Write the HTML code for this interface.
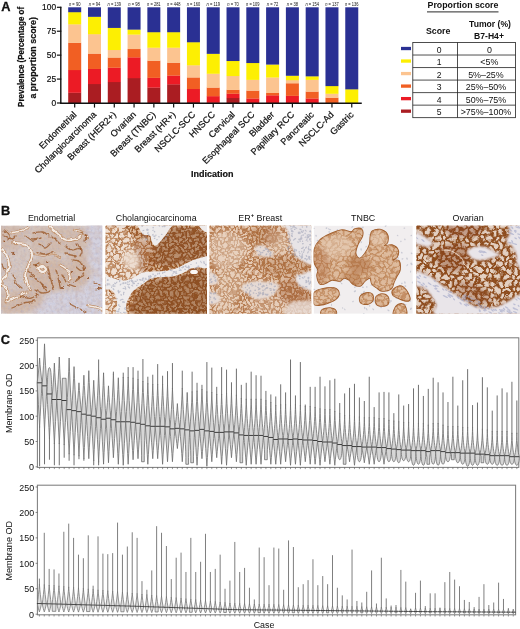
<!DOCTYPE html>
<html lang="en"><head><meta charset="utf-8"><title>Figure</title>
<style>html,body{margin:0;padding:0;background:#fff}svg{display:block}text{font-family:"Liberation Sans", Arial, sans-serif;fill:#111}</style></head><body>
<svg width="520" height="629" viewBox="0 0 520 629">
<rect width="520" height="629" fill="#fff"/>
<g id="panelA">
<text x="1.2" y="11.3" font-size="12.8" font-weight="bold" stroke="#111" stroke-width="0.3">A</text>
<text transform="translate(23.6,56.9) rotate(-90)" text-anchor="middle" font-size="8.3" font-weight="bold" stroke="#111" stroke-width="0.22" textLength="100" lengthAdjust="spacingAndGlyphs">Prevalence (Percentage of</text>
<text transform="translate(36.4,57.8) rotate(-90)" text-anchor="middle" font-size="8.3" font-weight="bold" stroke="#111" stroke-width="0.22" textLength="81.5" lengthAdjust="spacingAndGlyphs">a proportion score)</text>
<rect x="68.20" y="92.66" width="13.00" height="10.49" fill="#aa1d22"/>
<rect x="68.20" y="69.98" width="13.00" height="22.83" fill="#ec1b25"/>
<rect x="68.20" y="42.71" width="13.00" height="27.42" fill="#f15f23"/>
<rect x="68.20" y="24.24" width="13.00" height="18.62" fill="#fcc490"/>
<rect x="68.20" y="12.08" width="13.00" height="12.30" fill="#fdef02"/>
<rect x="68.20" y="7.30" width="13.00" height="4.93" fill="#2a3093"/>
<text x="74.70" y="5.6" font-size="4.6" text-anchor="middle" textLength="11.5" lengthAdjust="spacingAndGlyphs"><tspan font-style="italic">n</tspan> = 90</text>
<line x1="74.70" y1="103.00" x2="74.70" y2="107.60" stroke="#111" stroke-width="1.2"/>
<text transform="translate(77.10,115.20) rotate(-45)" text-anchor="end" font-size="9.1" stroke="#111" stroke-width="0.22">Endometrial</text>
<rect x="87.99" y="83.96" width="13.00" height="19.19" fill="#aa1d22"/>
<rect x="87.99" y="68.84" width="13.00" height="15.27" fill="#ec1b25"/>
<rect x="87.99" y="53.52" width="13.00" height="15.46" fill="#f15f23"/>
<rect x="87.99" y="34.10" width="13.00" height="19.58" fill="#fcc490"/>
<rect x="87.99" y="16.68" width="13.00" height="17.57" fill="#fdef02"/>
<rect x="87.99" y="7.30" width="13.00" height="9.53" fill="#2a3093"/>
<text x="94.49" y="5.6" font-size="4.6" text-anchor="middle" textLength="11.5" lengthAdjust="spacingAndGlyphs"><tspan font-style="italic">n</tspan> = 94</text>
<line x1="94.49" y1="103.00" x2="94.49" y2="107.60" stroke="#111" stroke-width="1.2"/>
<text transform="translate(96.89,115.20) rotate(-45)" text-anchor="end" font-size="9.1" stroke="#111" stroke-width="0.22">Cholangiocarcinoma</text>
<rect x="107.78" y="81.95" width="13.00" height="21.20" fill="#aa1d22"/>
<rect x="107.78" y="67.59" width="13.00" height="14.50" fill="#ec1b25"/>
<rect x="107.78" y="57.45" width="13.00" height="10.29" fill="#f15f23"/>
<rect x="107.78" y="49.89" width="13.00" height="7.71" fill="#fcc490"/>
<rect x="107.78" y="27.78" width="13.00" height="22.26" fill="#fdef02"/>
<rect x="107.78" y="7.30" width="13.00" height="20.63" fill="#2a3093"/>
<text x="114.28" y="5.6" font-size="4.6" text-anchor="middle" textLength="13.5" lengthAdjust="spacingAndGlyphs"><tspan font-style="italic">n</tspan> = 139</text>
<line x1="114.28" y1="103.00" x2="114.28" y2="107.60" stroke="#111" stroke-width="1.2"/>
<text transform="translate(116.68,115.20) rotate(-45)" text-anchor="end" font-size="9.1" stroke="#111" stroke-width="0.22">Breast (HER2+)</text>
<rect x="127.57" y="78.02" width="13.00" height="25.13" fill="#aa1d22"/>
<rect x="127.57" y="57.26" width="13.00" height="20.92" fill="#ec1b25"/>
<rect x="127.57" y="48.93" width="13.00" height="8.48" fill="#f15f23"/>
<rect x="127.57" y="34.48" width="13.00" height="14.60" fill="#fcc490"/>
<rect x="127.57" y="29.50" width="13.00" height="5.13" fill="#fdef02"/>
<rect x="127.57" y="7.30" width="13.00" height="22.35" fill="#2a3093"/>
<text x="134.07" y="5.6" font-size="4.6" text-anchor="middle" textLength="11.5" lengthAdjust="spacingAndGlyphs"><tspan font-style="italic">n</tspan> = 98</text>
<line x1="134.07" y1="103.00" x2="134.07" y2="107.60" stroke="#111" stroke-width="1.2"/>
<text transform="translate(136.47,115.20) rotate(-45)" text-anchor="end" font-size="9.1" stroke="#111" stroke-width="0.22">Ovarian</text>
<rect x="147.36" y="87.50" width="13.00" height="15.65" fill="#aa1d22"/>
<rect x="147.36" y="77.74" width="13.00" height="9.91" fill="#ec1b25"/>
<rect x="147.36" y="60.60" width="13.00" height="17.28" fill="#f15f23"/>
<rect x="147.36" y="47.59" width="13.00" height="13.17" fill="#fcc490"/>
<rect x="147.36" y="32.09" width="13.00" height="15.65" fill="#fdef02"/>
<rect x="147.36" y="7.30" width="13.00" height="24.94" fill="#2a3093"/>
<text x="153.86" y="5.6" font-size="4.6" text-anchor="middle" textLength="13.5" lengthAdjust="spacingAndGlyphs"><tspan font-style="italic">n</tspan> = 281</text>
<line x1="153.86" y1="103.00" x2="153.86" y2="107.60" stroke="#111" stroke-width="1.2"/>
<text transform="translate(156.26,115.20) rotate(-45)" text-anchor="end" font-size="9.1" stroke="#111" stroke-width="0.22">Breast (TNBC)</text>
<rect x="167.15" y="84.24" width="13.00" height="18.91" fill="#aa1d22"/>
<rect x="167.15" y="75.44" width="13.00" height="8.95" fill="#ec1b25"/>
<rect x="167.15" y="62.61" width="13.00" height="12.97" fill="#f15f23"/>
<rect x="167.15" y="47.59" width="13.00" height="15.17" fill="#fcc490"/>
<rect x="167.15" y="32.09" width="13.00" height="15.65" fill="#fdef02"/>
<rect x="167.15" y="7.30" width="13.00" height="24.94" fill="#2a3093"/>
<text x="173.65" y="5.6" font-size="4.6" text-anchor="middle" textLength="13.5" lengthAdjust="spacingAndGlyphs"><tspan font-style="italic">n</tspan> = 448</text>
<line x1="173.65" y1="103.00" x2="173.65" y2="107.60" stroke="#111" stroke-width="1.2"/>
<text transform="translate(176.05,115.20) rotate(-45)" text-anchor="end" font-size="9.1" stroke="#111" stroke-width="0.22">Breast (HR+)</text>
<rect x="186.94" y="102.04" width="13.00" height="1.11" fill="#aa1d22"/>
<rect x="186.94" y="88.93" width="13.00" height="13.26" fill="#ec1b25"/>
<rect x="186.94" y="77.35" width="13.00" height="11.73" fill="#f15f23"/>
<rect x="186.94" y="65.20" width="13.00" height="12.30" fill="#fcc490"/>
<rect x="186.94" y="42.13" width="13.00" height="23.21" fill="#fdef02"/>
<rect x="186.94" y="7.30" width="13.00" height="34.98" fill="#2a3093"/>
<text x="193.44" y="5.6" font-size="4.6" text-anchor="middle" textLength="13.5" lengthAdjust="spacingAndGlyphs"><tspan font-style="italic">n</tspan> = 160</text>
<line x1="193.44" y1="103.00" x2="193.44" y2="107.60" stroke="#111" stroke-width="1.2"/>
<text transform="translate(195.84,115.20) rotate(-45)" text-anchor="end" font-size="9.1" stroke="#111" stroke-width="0.22">NSCLC-SCC</text>
<rect x="206.73" y="102.71" width="13.00" height="0.44" fill="#aa1d22"/>
<rect x="206.73" y="96.11" width="13.00" height="6.75" fill="#ec1b25"/>
<rect x="206.73" y="87.50" width="13.00" height="8.76" fill="#f15f23"/>
<rect x="206.73" y="73.62" width="13.00" height="14.03" fill="#fcc490"/>
<rect x="206.73" y="53.71" width="13.00" height="20.06" fill="#fdef02"/>
<rect x="206.73" y="7.30" width="13.00" height="46.56" fill="#2a3093"/>
<text x="213.23" y="5.6" font-size="4.6" text-anchor="middle" textLength="13.5" lengthAdjust="spacingAndGlyphs"><tspan font-style="italic">n</tspan> = 119</text>
<line x1="213.23" y1="103.00" x2="213.23" y2="107.60" stroke="#111" stroke-width="1.2"/>
<text transform="translate(215.63,115.20) rotate(-45)" text-anchor="end" font-size="9.1" stroke="#111" stroke-width="0.22">HNSCC</text>
<rect x="226.52" y="97.93" width="13.00" height="5.22" fill="#aa1d22"/>
<rect x="226.52" y="93.62" width="13.00" height="4.46" fill="#ec1b25"/>
<rect x="226.52" y="89.79" width="13.00" height="3.98" fill="#f15f23"/>
<rect x="226.52" y="75.92" width="13.00" height="14.03" fill="#fcc490"/>
<rect x="226.52" y="60.89" width="13.00" height="15.17" fill="#fdef02"/>
<rect x="226.52" y="7.30" width="13.00" height="53.74" fill="#2a3093"/>
<text x="233.02" y="5.6" font-size="4.6" text-anchor="middle" textLength="11.5" lengthAdjust="spacingAndGlyphs"><tspan font-style="italic">n</tspan> = 70</text>
<line x1="233.02" y1="103.00" x2="233.02" y2="107.60" stroke="#111" stroke-width="1.2"/>
<text transform="translate(235.42,115.20) rotate(-45)" text-anchor="end" font-size="9.1" stroke="#111" stroke-width="0.22">Cervical</text>
<rect x="246.31" y="98.41" width="13.00" height="4.74" fill="#ec1b25"/>
<rect x="246.31" y="90.56" width="13.00" height="8.00" fill="#f15f23"/>
<rect x="246.31" y="79.74" width="13.00" height="10.96" fill="#fcc490"/>
<rect x="246.31" y="62.90" width="13.00" height="16.99" fill="#fdef02"/>
<rect x="246.31" y="7.30" width="13.00" height="55.75" fill="#2a3093"/>
<text x="252.81" y="5.6" font-size="4.6" text-anchor="middle" textLength="13.5" lengthAdjust="spacingAndGlyphs"><tspan font-style="italic">n</tspan> = 109</text>
<line x1="252.81" y1="103.00" x2="252.81" y2="107.60" stroke="#111" stroke-width="1.2"/>
<text transform="translate(255.21,115.20) rotate(-45)" text-anchor="end" font-size="9.1" stroke="#111" stroke-width="0.22">Esophageal SCC</text>
<rect x="266.10" y="95.25" width="13.00" height="7.90" fill="#ec1b25"/>
<rect x="266.10" y="92.86" width="13.00" height="2.54" fill="#f15f23"/>
<rect x="266.10" y="77.35" width="13.00" height="15.65" fill="#fcc490"/>
<rect x="266.10" y="64.43" width="13.00" height="13.07" fill="#fdef02"/>
<rect x="266.10" y="7.30" width="13.00" height="57.28" fill="#2a3093"/>
<text x="272.60" y="5.6" font-size="4.6" text-anchor="middle" textLength="11.5" lengthAdjust="spacingAndGlyphs"><tspan font-style="italic">n</tspan> = 72</text>
<line x1="272.60" y1="103.00" x2="272.60" y2="107.60" stroke="#111" stroke-width="1.2"/>
<text transform="translate(275.00,115.20) rotate(-45)" text-anchor="end" font-size="9.1" stroke="#111" stroke-width="0.22">Bladder</text>
<rect x="285.89" y="95.73" width="13.00" height="7.42" fill="#ec1b25"/>
<rect x="285.89" y="83.19" width="13.00" height="12.69" fill="#f15f23"/>
<rect x="285.89" y="80.03" width="13.00" height="3.31" fill="#fcc490"/>
<rect x="285.89" y="75.63" width="13.00" height="4.55" fill="#fdef02"/>
<rect x="285.89" y="7.30" width="13.00" height="68.48" fill="#2a3093"/>
<text x="292.39" y="5.6" font-size="4.6" text-anchor="middle" textLength="11.5" lengthAdjust="spacingAndGlyphs"><tspan font-style="italic">n</tspan> = 38</text>
<line x1="292.39" y1="103.00" x2="292.39" y2="107.60" stroke="#111" stroke-width="1.2"/>
<text transform="translate(294.79,115.20) rotate(-45)" text-anchor="end" font-size="9.1" stroke="#111" stroke-width="0.22">Papillary RCC</text>
<rect x="305.68" y="98.41" width="13.00" height="4.74" fill="#ec1b25"/>
<rect x="305.68" y="91.52" width="13.00" height="7.04" fill="#f15f23"/>
<rect x="305.68" y="79.74" width="13.00" height="11.92" fill="#fcc490"/>
<rect x="305.68" y="76.20" width="13.00" height="3.69" fill="#fdef02"/>
<rect x="305.68" y="7.30" width="13.00" height="69.05" fill="#2a3093"/>
<text x="312.18" y="5.6" font-size="4.6" text-anchor="middle" textLength="13.5" lengthAdjust="spacingAndGlyphs"><tspan font-style="italic">n</tspan> = 154</text>
<line x1="312.18" y1="103.00" x2="312.18" y2="107.60" stroke="#111" stroke-width="1.2"/>
<text transform="translate(314.58,115.20) rotate(-45)" text-anchor="end" font-size="9.1" stroke="#111" stroke-width="0.22">Pancreatic</text>
<rect x="325.47" y="97.64" width="13.00" height="5.51" fill="#f15f23"/>
<rect x="325.47" y="93.62" width="13.00" height="4.17" fill="#fcc490"/>
<rect x="325.47" y="85.97" width="13.00" height="7.81" fill="#fdef02"/>
<rect x="325.47" y="7.30" width="13.00" height="78.82" fill="#2a3093"/>
<text x="331.97" y="5.6" font-size="4.6" text-anchor="middle" textLength="13.5" lengthAdjust="spacingAndGlyphs"><tspan font-style="italic">n</tspan> = 137</text>
<line x1="331.97" y1="103.00" x2="331.97" y2="107.60" stroke="#111" stroke-width="1.2"/>
<text transform="translate(334.37,115.20) rotate(-45)" text-anchor="end" font-size="9.1" stroke="#111" stroke-width="0.22">NSCLC-Ad</text>
<rect x="345.26" y="89.22" width="13.00" height="13.93" fill="#fdef02"/>
<rect x="345.26" y="7.30" width="13.00" height="82.07" fill="#2a3093"/>
<text x="351.76" y="5.6" font-size="4.6" text-anchor="middle" textLength="13.5" lengthAdjust="spacingAndGlyphs"><tspan font-style="italic">n</tspan> = 136</text>
<line x1="351.76" y1="103.00" x2="351.76" y2="107.60" stroke="#111" stroke-width="1.2"/>
<text transform="translate(354.16,115.20) rotate(-45)" text-anchor="end" font-size="9.1" stroke="#111" stroke-width="0.22">Gastric</text>
<line x1="60.80" y1="6.70" x2="60.80" y2="103.70" stroke="#111" stroke-width="1.4"/>
<line x1="60.10" y1="103.20" x2="361.76" y2="103.20" stroke="#111" stroke-width="1.4"/>
<line x1="56.90" y1="103.00" x2="61.30" y2="103.00" stroke="#111" stroke-width="1.2"/>
<text x="56.10" y="106.00" font-size="8.4" text-anchor="end" stroke="#111" stroke-width="0.2">0</text>
<line x1="56.90" y1="79.08" x2="61.30" y2="79.08" stroke="#111" stroke-width="1.2"/>
<text x="56.10" y="82.08" font-size="8.4" text-anchor="end" stroke="#111" stroke-width="0.2">25</text>
<line x1="56.90" y1="55.15" x2="61.30" y2="55.15" stroke="#111" stroke-width="1.2"/>
<text x="56.10" y="58.15" font-size="8.4" text-anchor="end" stroke="#111" stroke-width="0.2">50</text>
<line x1="56.90" y1="31.22" x2="61.30" y2="31.22" stroke="#111" stroke-width="1.2"/>
<text x="56.10" y="34.22" font-size="8.4" text-anchor="end" stroke="#111" stroke-width="0.2">75</text>
<line x1="56.90" y1="7.30" x2="61.30" y2="7.30" stroke="#111" stroke-width="1.2"/>
<text x="56.10" y="10.30" font-size="8.4" text-anchor="end" stroke="#111" stroke-width="0.2">100</text>
<text x="212.2" y="177.4" font-size="8.8" font-weight="bold" stroke="#111" stroke-width="0.2" text-anchor="middle" textLength="42.5" lengthAdjust="spacingAndGlyphs">Indication</text>
<text x="463" y="8.2" font-size="8.8" font-weight="bold" text-anchor="middle">Proportion score</text>
<line x1="427" y1="11.9" x2="498.5" y2="11.9" stroke="#111" stroke-width="0.9"/>
<text x="438.2" y="34" font-size="8.8" font-weight="bold" text-anchor="middle">Score</text>
<text x="490" y="27.2" font-size="8.6" font-weight="bold" text-anchor="middle">Tumor (%)</text>
<text x="489" y="38.9" font-size="8.6" font-weight="bold" text-anchor="middle">B7-H4+</text>
<rect x="412.80" y="42.50" width="102.60" height="75.18" fill="none" stroke="#222" stroke-width="0.8"/>
<line x1="457.50" y1="42.50" x2="457.50" y2="117.68" stroke="#222" stroke-width="0.8"/>
<rect x="401" y="46.87" width="10" height="3.3" fill="#2a3093"/>
<text x="439.15" y="52.66" font-size="8.6" text-anchor="middle">0</text>
<text x="489.35" y="52.66" font-size="8.9" text-anchor="middle">0</text>
<line x1="412.80" y1="55.03" x2="515.40" y2="55.03" stroke="#222" stroke-width="0.8"/>
<rect x="401" y="59.40" width="10" height="3.3" fill="#fdef02"/>
<text x="439.15" y="65.20" font-size="8.6" text-anchor="middle">1</text>
<text x="489.35" y="65.20" font-size="8.9" text-anchor="middle">&lt;5%</text>
<line x1="412.80" y1="67.56" x2="515.40" y2="67.56" stroke="#222" stroke-width="0.8"/>
<rect x="401" y="71.92" width="10" height="3.3" fill="#fcc490"/>
<text x="439.15" y="77.73" font-size="8.6" text-anchor="middle">2</text>
<text x="485.95" y="77.73" font-size="8.9" text-anchor="middle">5%–25%</text>
<line x1="412.80" y1="80.09" x2="515.40" y2="80.09" stroke="#222" stroke-width="0.8"/>
<rect x="401" y="84.45" width="10" height="3.3" fill="#f15f23"/>
<text x="439.15" y="90.26" font-size="8.6" text-anchor="middle">3</text>
<text x="485.95" y="90.26" font-size="8.9" text-anchor="middle">25%–50%</text>
<line x1="412.80" y1="92.62" x2="515.40" y2="92.62" stroke="#222" stroke-width="0.8"/>
<rect x="401" y="96.98" width="10" height="3.3" fill="#ec1b25"/>
<text x="439.15" y="102.79" font-size="8.6" text-anchor="middle">4</text>
<text x="485.95" y="102.79" font-size="8.9" text-anchor="middle">50%–75%</text>
<line x1="412.80" y1="105.15" x2="515.40" y2="105.15" stroke="#222" stroke-width="0.8"/>
<rect x="401" y="109.52" width="10" height="3.3" fill="#aa1d22"/>
<text x="439.15" y="115.32" font-size="8.6" text-anchor="middle">5</text>
<text x="485.95" y="115.32" font-size="8.9" text-anchor="middle">&gt;75%–100%</text>
</g>
<g id="panelB">
<text x="1" y="215" font-size="12.8" font-weight="bold" stroke="#111" stroke-width="0.3">B</text>
<text x="51.6" y="220.6" font-size="8.9" text-anchor="middle">Endometrial</text>
<text x="156.2" y="220.6" font-size="8.9" text-anchor="middle">Cholangiocarcinoma</text>
<text x="260.3" y="220.6" font-size="8.9" text-anchor="middle">ER<tspan font-size="5.8" dy="-3.2" font-weight="bold">+</tspan><tspan dy="3.2"> Breast</tspan></text>
<text x="363.2" y="220.6" font-size="8.9" text-anchor="middle">TNBC</text>
<text x="468.1" y="220.6" font-size="8.9" text-anchor="middle">Ovarian</text>
<defs>
<filter id="blur04" x="-5%" y="-5%" width="110%" height="110%"><feGaussianBlur stdDeviation="0.45"/></filter>
<filter id="blur07" x="-5%" y="-5%" width="110%" height="110%"><feTurbulence type="fractalNoise" baseFrequency="0.2" numOctaves="2" seed="2" result="n"/><feDisplacementMap in="SourceGraphic" in2="n" scale="3.5" xChannelSelector="R" yChannelSelector="G"/><feGaussianBlur stdDeviation="0.75"/></filter>
<filter id="mott" x="0" y="0" width="100%" height="100%"><feTurbulence type="fractalNoise" baseFrequency="0.16" numOctaves="2" seed="33"/><feColorMatrix type="matrix" values="0 0 0 0 0.62  0 0 0 0 0.45  0 0 0 0 0.38  0 0 0 -3.0 1.7"/></filter>
<filter id="blur06" x="-5%" y="-5%" width="110%" height="110%"><feGaussianBlur stdDeviation="0.6"/></filter>
<filter id="blur1" x="-5%" y="-5%" width="110%" height="110%"><feGaussianBlur stdDeviation="1.0"/></filter>
<filter id="blur2" x="-10%" y="-10%" width="120%" height="120%"><feGaussianBlur stdDeviation="2.2"/></filter>
<filter id="warp" x="-5%" y="-5%" width="110%" height="110%"><feTurbulence type="fractalNoise" baseFrequency="0.11" numOctaves="3" seed="4" result="n"/><feDisplacementMap in="SourceGraphic" in2="n" scale="11" xChannelSelector="R" yChannelSelector="G"/><feGaussianBlur stdDeviation="0.4"/></filter>
<filter id="speck" x="0" y="0" width="100%" height="100%"><feTurbulence type="fractalNoise" baseFrequency="0.35" numOctaves="2" seed="9"/><feColorMatrix type="matrix" values="0 0 0 0 0.45  0 0 0 0 0.30  0 0 0 0 0.28  0 0 0 -2.6 1.45"/></filter>
<filter id="speckb" x="0" y="0" width="100%" height="100%"><feTurbulence type="fractalNoise" baseFrequency="0.4" numOctaves="2" seed="21"/><feColorMatrix type="matrix" values="0 0 0 0 0.42  0 0 0 0 0.45  0 0 0 0 0.68  0 0 0 -3.2 1.55"/></filter>
<pattern id="cellA" patternUnits="userSpaceOnUse" width="7.40" height="12.82">
<rect width="7.40" height="12.82" fill="#8d4b1c"/>
<circle cx="0.00" cy="0.00" r="2.60" fill="#e3d0c2"/>
<circle cx="7.40" cy="0.00" r="2.60" fill="#e3d0c2"/>
<circle cx="3.70" cy="6.41" r="2.60" fill="#e3d0c2"/>
<circle cx="0.00" cy="12.82" r="2.60" fill="#e3d0c2"/>
<circle cx="7.40" cy="12.82" r="2.60" fill="#e3d0c2"/>
</pattern>
<pattern id="cellB" patternUnits="userSpaceOnUse" width="5.60" height="9.70">
<rect width="5.60" height="9.70" fill="#9c5a2b"/>
<circle cx="0.00" cy="0.00" r="2.00" fill="#e0c0a4"/>
<circle cx="5.60" cy="0.00" r="2.00" fill="#e0c0a4"/>
<circle cx="2.80" cy="4.85" r="2.00" fill="#e0c0a4"/>
<circle cx="0.00" cy="9.70" r="2.00" fill="#e0c0a4"/>
<circle cx="5.60" cy="9.70" r="2.00" fill="#e0c0a4"/>
</pattern>
<pattern id="cellC" patternUnits="userSpaceOnUse" width="5.80" height="10.05">
<rect width="5.80" height="10.05" fill="#b67c50"/>
<circle cx="0.00" cy="0.00" r="2.30" fill="#efdfd2"/>
<circle cx="5.80" cy="0.00" r="2.30" fill="#efdfd2"/>
<circle cx="2.90" cy="5.02" r="2.30" fill="#efdfd2"/>
<circle cx="0.00" cy="10.05" r="2.30" fill="#efdfd2"/>
<circle cx="5.80" cy="10.05" r="2.30" fill="#efdfd2"/>
</pattern>
<pattern id="cellD" patternUnits="userSpaceOnUse" width="5.20" height="9.01">
<rect width="5.20" height="9.01" fill="#b27548"/>
<circle cx="0.00" cy="0.00" r="1.95" fill="#e6cbb5"/>
<circle cx="5.20" cy="0.00" r="1.95" fill="#e6cbb5"/>
<circle cx="2.60" cy="4.50" r="1.95" fill="#e6cbb5"/>
<circle cx="0.00" cy="9.01" r="1.95" fill="#e6cbb5"/>
<circle cx="5.20" cy="9.01" r="1.95" fill="#e6cbb5"/>
</pattern>
<pattern id="cellE" patternUnits="userSpaceOnUse" width="6.40" height="11.08">
<rect width="6.40" height="11.08" fill="#bd8558"/>
<circle cx="0.00" cy="0.00" r="2.50" fill="#e3c4aa"/>
<circle cx="6.40" cy="0.00" r="2.50" fill="#e3c4aa"/>
<circle cx="3.20" cy="5.54" r="2.50" fill="#e3c4aa"/>
<circle cx="0.00" cy="11.08" r="2.50" fill="#e3c4aa"/>
<circle cx="6.40" cy="11.08" r="2.50" fill="#e3c4aa"/>
</pattern>
<clipPath id="clipB0"><rect x="0" y="0" width="101.30" height="88.20"/></clipPath>
<clipPath id="clipB1"><rect x="0" y="0" width="101.60" height="88.20"/></clipPath>
<clipPath id="clipB2"><rect x="0" y="0" width="101.80" height="88.20"/></clipPath>
<clipPath id="clipB3"><rect x="0" y="0" width="99.20" height="88.20"/></clipPath>
<clipPath id="clipB4"><rect x="0" y="0" width="103.70" height="88.20"/></clipPath>
</defs>
<g transform="translate(1.00,225.60)" clip-path="url(#clipB0)">
<rect width="101.3" height="88.2" fill="#d5c8c3"/>
<g filter="url(#blur2)">
<path d="M87.0,-1.6 C90.3,-3.3 102.0,-16.9 105.0,-1.6 C108.0,13.7 116.7,75.1 105.0,90.4 C93.3,105.7 45.7,92.4 35.0,90.4 C24.3,88.4 38.7,82.1 41.0,78.4 C43.3,74.7 45.0,70.4 49.0,68.4 C53.0,66.4 60.0,67.1 65.0,66.4 C70.0,65.7 75.3,66.1 79.0,64.4 C82.7,62.7 84.7,59.4 87.0,56.4 C89.3,53.4 93.0,50.1 93.0,46.4 C93.0,42.7 87.7,38.7 87.0,34.4 C86.3,30.1 89.3,24.7 89.0,20.4 C88.7,16.1 85.3,12.1 85.0,8.4 C84.7,4.7 83.7,0.1 87.0,-1.6 Z" fill="#d4d2df"/>
<path d="M29.0,36.4 C34.7,32.4 56.7,32.7 63.0,36.4 C69.3,40.1 69.3,53.4 67.0,58.4 C64.7,63.4 55.3,66.1 49.0,66.4 C42.7,66.7 32.3,65.4 29.0,60.4 C25.7,55.4 23.3,40.4 29.0,36.4 Z" fill="#cfae96" opacity="0.55"/>
<path d="M-1.0,2.4 C3.0,-0.3 19.3,-0.6 23.0,2.4 C26.7,5.4 24.0,16.7 21.0,20.4 C18.0,24.1 8.7,24.7 5.0,24.4 C1.3,24.1 0.0,22.1 -1.0,18.4 C-2.0,14.7 -5.0,5.1 -1.0,2.4 Z" fill="#cfae96" opacity="0.45"/>
<path d="M69.0,28.4 C71.3,23.4 82.0,26.1 85.0,30.4 C88.0,34.7 89.3,49.4 87.0,54.4 C84.7,59.4 74.0,64.7 71.0,60.4 C68.0,56.1 66.7,33.4 69.0,28.4 Z" fill="#cfae96" opacity="0.5"/>
<path d="M1.0,68.4 C7.0,64.9 33.0,63.1 39.0,65.4 C45.0,67.7 43.0,78.9 37.0,82.4 C31.0,85.9 9.0,88.7 3.0,86.4 C-3.0,84.1 -5.0,71.9 1.0,68.4 Z" fill="#cfae96" opacity="0.5"/>
<path d="M33.0,4.4 C40.3,0.4 74.7,1.4 83.0,4.4 C91.3,7.4 90.3,18.4 83.0,22.4 C75.7,26.4 47.3,31.4 39.0,28.4 C30.7,25.4 25.7,8.4 33.0,4.4 Z" fill="#cfae96" opacity="0.4"/>
</g>
<rect width="101.3" height="88.2" filter="url(#speckb)" opacity="0.35"/>
<rect width="101.3" height="88.2" filter="url(#speck)" opacity="0.22"/>
<rect width="101.3" height="88.2" filter="url(#mott)" opacity="0.32"/>
<g filter="url(#blur07)" fill="none" stroke-linecap="round" stroke-linejoin="round">
<path d="M0.0,23.4 C0.8,24.2 3.7,25.9 5.0,28.4 C6.3,30.9 7.8,35.1 8.0,38.4 C8.2,41.7 7.2,45.9 6.2,48.4 C5.2,50.9 2.7,51.7 1.8,53.4 C0.9,55.1 0.8,57.6 0.6,58.4 " stroke="#bd8a62" stroke-width="3.3"/>
<path d="M0.0,23.4 C0.8,24.2 3.7,25.9 5.0,28.4 C6.3,30.9 7.8,35.1 8.0,38.4 C8.2,41.7 7.2,45.9 6.2,48.4 C5.2,50.9 2.7,51.7 1.8,53.4 C0.9,55.1 0.8,57.6 0.6,58.4 " stroke="#f3ebe5" stroke-width="2.0"/>
<path d="M0.6,58.4 C1.3,59.1 3.9,60.6 5.0,62.4 C6.1,64.2 7.0,67.1 7.0,69.4 C7.0,71.7 5.3,75.2 5.0,76.4 " stroke="#bd8a62" stroke-width="2.9"/>
<path d="M0.6,58.4 C1.3,59.1 3.9,60.6 5.0,62.4 C6.1,64.2 7.0,67.1 7.0,69.4 C7.0,71.7 5.3,75.2 5.0,76.4 " stroke="#f3ebe5" stroke-width="1.6"/>
<path d="M5.0,76.0 C6.3,75.5 10.3,74.0 13.0,72.8 C15.7,71.6 18.8,69.9 21.0,68.8 C23.2,67.7 25.2,66.8 26.0,66.4 " stroke="#bd8a62" stroke-width="2.7"/>
<path d="M5.0,76.0 C6.3,75.5 10.3,74.0 13.0,72.8 C15.7,71.6 18.8,69.9 21.0,68.8 C23.2,67.7 25.2,66.8 26.0,66.4 " stroke="#f3ebe5" stroke-width="1.4"/>
<path d="M13.0,17.4 C14.6,17.6 19.9,17.3 22.6,18.4 C25.3,19.5 28.0,21.8 29.4,24.0 C30.8,26.2 31.3,28.7 31.0,31.4 C30.7,34.1 28.5,37.5 27.4,40.4 C26.3,43.3 24.3,45.8 24.2,48.8 C24.1,51.8 25.8,55.9 26.6,58.4 C27.4,60.9 28.6,62.7 29.0,63.6 " stroke="#bd8a62" stroke-width="3.3"/>
<path d="M13.0,17.4 C14.6,17.6 19.9,17.3 22.6,18.4 C25.3,19.5 28.0,21.8 29.4,24.0 C30.8,26.2 31.3,28.7 31.0,31.4 C30.7,34.1 28.5,37.5 27.4,40.4 C26.3,43.3 24.3,45.8 24.2,48.8 C24.1,51.8 25.8,55.9 26.6,58.4 C27.4,60.9 28.6,62.7 29.0,63.6 " stroke="#f3ebe5" stroke-width="2.0"/>
<path d="M10.0,7.4 C11.5,7.1 16.2,6.3 19.0,5.4 C21.8,4.5 25.7,2.6 27.0,2.0 " stroke="#bd8a62" stroke-width="2.7"/>
<path d="M10.0,7.4 C11.5,7.1 16.2,6.3 19.0,5.4 C21.8,4.5 25.7,2.6 27.0,2.0 " stroke="#f3ebe5" stroke-width="1.4"/>
<path d="M48.6,0.8 C49.9,2.0 53.9,5.7 56.6,8.0 C59.3,10.3 62.0,13.5 65.0,14.4 C68.0,15.3 72.2,14.3 74.6,13.6 C77.0,12.9 78.6,10.6 79.4,10.0 " stroke="#bd8a62" stroke-width="3.1"/>
<path d="M48.6,0.8 C49.9,2.0 53.9,5.7 56.6,8.0 C59.3,10.3 62.0,13.5 65.0,14.4 C68.0,15.3 72.2,14.3 74.6,13.6 C77.0,12.9 78.6,10.6 79.4,10.0 " stroke="#f3ebe5" stroke-width="1.8"/>
<path d="M59.0,39.4 C60.3,40.2 64.9,42.5 66.6,44.4 C68.3,46.3 68.7,49.1 69.0,50.8 C69.3,52.5 68.3,54.1 68.2,54.8 " stroke="#bd8a62" stroke-width="2.7"/>
<path d="M59.0,39.4 C60.3,40.2 64.9,42.5 66.6,44.4 C68.3,46.3 68.7,49.1 69.0,50.8 C69.3,52.5 68.3,54.1 68.2,54.8 " stroke="#f3ebe5" stroke-width="1.4"/>
<path d="M86.6,80.0 C88.0,80.3 92.2,80.8 95.0,81.6 C97.8,82.4 102.0,84.3 103.4,84.8 " stroke="#bd8a62" stroke-width="2.8"/>
<path d="M86.6,80.0 C88.0,80.3 92.2,80.8 95.0,81.6 C97.8,82.4 102.0,84.3 103.4,84.8 " stroke="#f3ebe5" stroke-width="1.5"/>
<path d="M37.0,42.8 C37.7,42.4 40.1,40.2 41.4,40.4 C42.7,40.6 45.0,43.0 45.0,44.0 C45.0,45.0 42.7,46.4 41.4,46.4 C40.1,46.4 38.1,44.4 37.4,44.0 " stroke="#bd8a62" stroke-width="3.7"/>
<path d="M37.0,42.8 C37.7,42.4 40.1,40.2 41.4,40.4 C42.7,40.6 45.0,43.0 45.0,44.0 C45.0,45.0 42.7,46.4 41.4,46.4 C40.1,46.4 38.1,44.4 37.4,44.0 " stroke="#f3ebe5" stroke-width="2.4"/>
<path d="M73.0,4.4 C74.3,4.7 78.7,5.1 81.0,6.4 C83.3,7.7 86.0,11.4 87.0,12.4 " stroke="#bd8a62" stroke-width="2.3"/>
<path d="M73.0,4.4 C74.3,4.7 78.7,5.1 81.0,6.4 C83.3,7.7 86.0,11.4 87.0,12.4 " stroke="#f3ebe5" stroke-width="1.0"/>
<path d="M34.0,28.4 C35.3,28.7 39.1,30.0 42.0,30.0 C44.9,30.0 48.6,28.0 51.4,28.4 C54.2,28.8 57.7,31.7 59.0,32.4 " stroke="#bd8a62" stroke-width="2.1"/>
<path d="M34.0,28.4 C35.3,28.7 39.1,30.0 42.0,30.0 C44.9,30.0 48.6,28.0 51.4,28.4 C54.2,28.8 57.7,31.7 59.0,32.4 " stroke="#ead9cc" stroke-width="0.8"/>
<path d="M29.0,50.4 C30.7,51.4 36.3,54.0 39.0,56.4 C41.7,58.8 44.3,63.4 45.4,64.8 " stroke="#9e5f32" stroke-width="1.3" opacity="0.85"/>
<path d="M47.0,41.4 C47.5,43.6 49.0,50.8 50.0,54.4 C51.0,58.0 52.5,61.4 53.0,62.8 " stroke="#9e5f32" stroke-width="1.3" opacity="0.85"/>
<path d="M55.0,44.4 C55.5,46.4 57.3,53.3 58.0,56.4 C58.7,59.5 59.2,61.7 59.4,62.8 " stroke="#9e5f32" stroke-width="1.3" opacity="0.85"/>
<path d="M36.0,26.0 C37.2,26.4 40.5,28.4 43.0,28.4 C45.5,28.4 49.7,26.4 51.0,26.0 " stroke="#9e5f32" stroke-width="1.3" opacity="0.85"/>
<path d="M72.0,34.4 C73.2,34.7 77.2,34.7 79.0,36.4 C80.8,38.1 82.3,43.4 83.0,44.8 " stroke="#9e5f32" stroke-width="1.3" opacity="0.85"/>
<path d="M73.0,56.8 C74.0,56.1 77.4,53.8 79.0,52.4 C80.6,51.0 82.0,49.1 82.6,48.4 " stroke="#9e5f32" stroke-width="1.3" opacity="0.85"/>
<path d="M32.0,7.4 C33.7,7.2 39.3,5.9 42.0,6.4 C44.7,6.9 47.0,9.7 48.0,10.4 " stroke="#9e5f32" stroke-width="1.3" opacity="0.85"/>
<path d="M39.0,18.4 C39.8,19.1 42.3,22.4 44.0,22.4 C45.7,22.4 48.2,19.1 49.0,18.4 " stroke="#9e5f32" stroke-width="1.3" opacity="0.85"/>
<path d="M65.0,28.4 L75.0,30.4" stroke="#9e5f32" stroke-width="1.3" opacity="0.85"/>
<path d="M3.0,10.4 C4.3,10.9 9.0,13.4 11.0,13.4 C13.0,13.4 14.3,10.9 15.0,10.4 " stroke="#9e5f32" stroke-width="1.3" opacity="0.85"/>
<path d="M75.0,41.4 C76.0,42.1 79.5,45.4 81.0,45.4 C82.5,45.4 83.5,42.1 84.0,41.4 " stroke="#9e5f32" stroke-width="1.3" opacity="0.85"/>
<path d="M95.0,64.4 L101.0,62.4" stroke="#9e5f32" stroke-width="1.3" opacity="0.85"/>
<path d="M67.0,58.4 L73.4,60.8" stroke="#9e5f32" stroke-width="1.3" opacity="0.85"/>
<path d="M19.0,70.4 C20.7,70.8 26.0,73.1 29.0,72.8 C32.0,72.5 35.7,69.5 37.0,68.8 " stroke="#9e5f32" stroke-width="1.3" opacity="0.85"/>
<path d="M11.0,82.4 L21.0,78.4" stroke="#9e5f32" stroke-width="1.3" opacity="0.85"/>
<path d="M75.0,18.4 C76.0,19.4 80.3,22.4 81.0,24.4 C81.7,26.4 79.3,29.4 79.0,30.4 " stroke="#9e5f32" stroke-width="1.3" opacity="0.85"/>
<path d="M33.0,39.4 L38.0,38.4" stroke="#9e5f32" stroke-width="1.3" opacity="0.85"/>
<path d="M27.0,45.4 L33.0,50.8" stroke="#9e5f32" stroke-width="1.3" opacity="0.85"/>
<path d="M41.0,58.4 L45.4,62.0" stroke="#9e5f32" stroke-width="1.3" opacity="0.85"/>
<path d="M93.0,56.4 L99.0,59.4" stroke="#9e5f32" stroke-width="1.3" opacity="0.85"/>
<path d="M3.0,4.4 C3.8,5.1 7.3,6.7 8.0,8.4 C8.7,10.1 7.2,13.4 7.0,14.4 " stroke="#9e5f32" stroke-width="1.3" opacity="0.85"/>
<path d="M1.0,38.4 L4.0,44.4" stroke="#9e5f32" stroke-width="1.3" opacity="0.85"/>
<path d="M11.0,48.4 C11.8,50.1 14.3,56.1 16.0,58.4 C17.7,60.7 20.2,61.7 21.0,62.4 " stroke="#9e5f32" stroke-width="1.3" opacity="0.85"/>
<path d="M65.0,20.4 C66.0,21.1 68.8,24.1 71.0,24.4 C73.2,24.7 76.8,22.7 78.0,22.4 " stroke="#9e5f32" stroke-width="1.3" opacity="0.85"/>
<path d="M80.0,6.4 C80.8,6.9 84.3,7.9 85.0,9.4 C85.7,10.9 84.2,14.4 84.0,15.4 " stroke="#9e5f32" stroke-width="1.3" opacity="0.85"/>
<path d="M61.0,48.4 L65.0,56.4" stroke="#9e5f32" stroke-width="1.3" opacity="0.85"/>
<path d="M34.0,64.4 C35.3,64.9 39.5,67.2 42.0,67.4 C44.5,67.6 47.8,65.7 49.0,65.4 " stroke="#9e5f32" stroke-width="1.3" opacity="0.85"/>
<path d="M23.0,77.4 L34.0,75.4" stroke="#9e5f32" stroke-width="1.3" opacity="0.85"/>
<path d="M69.0,78.4 C70.3,79.1 74.3,81.1 77.0,82.4 C79.7,83.7 83.7,85.7 85.0,86.4 " stroke="#9e5f32" stroke-width="1.3" opacity="0.85"/>
<path d="M51.0,10.4 L59.0,18.4" stroke="#9e5f32" stroke-width="1.3" opacity="0.85"/>
<path d="M25.0,10.4 C26.0,11.1 28.7,14.1 31.0,14.4 C33.3,14.7 37.7,12.7 39.0,12.4 " stroke="#9e5f32" stroke-width="1.3" opacity="0.85"/>
<circle cx="3.0" cy="16.0" r="1.1" fill="#935128" stroke="none"/>
<circle cx="79.4" cy="23.2" r="1.1" fill="#935128" stroke="none"/>
<circle cx="78.0" cy="51.6" r="1.1" fill="#935128" stroke="none"/>
<circle cx="87.0" cy="52.4" r="1.1" fill="#935128" stroke="none"/>
<circle cx="97.4" cy="62.8" r="1.1" fill="#935128" stroke="none"/>
<circle cx="35.0" cy="40.0" r="1.1" fill="#935128" stroke="none"/>
<circle cx="46.2" cy="36.4" r="1.1" fill="#935128" stroke="none"/>
<circle cx="12.2" cy="28.4" r="1.1" fill="#935128" stroke="none"/>
<circle cx="85.0" cy="10.4" r="1.1" fill="#935128" stroke="none"/>
<circle cx="71.0" cy="46.4" r="1.1" fill="#935128" stroke="none"/>
<circle cx="61.0" cy="62.4" r="1.1" fill="#935128" stroke="none"/>
</g>
</g>
<g transform="translate(105.40,225.60)" clip-path="url(#clipB1)">
<g filter="url(#warp)">
<rect x="-5" y="-5" width="111.6" height="98.2" fill="url(#cellB)"/>
<path d="M-3.4,4.4 C-1.1,-3.9 5.3,1.4 10.6,2.4 C15.9,3.4 23.4,8.1 28.6,10.4 C33.8,12.7 38.8,13.4 41.6,16.4 C44.4,19.4 46.1,23.7 45.6,28.4 C45.1,33.1 41.8,40.2 38.6,44.4 C35.4,48.6 31.3,51.6 26.6,53.4 C21.9,55.2 15.6,55.6 10.6,55.4 C5.6,55.2 -1.1,60.9 -3.4,52.4 C-5.7,43.9 -5.7,12.7 -3.4,4.4 Z" fill="url(#cellC)"/>
<path d="M-3.4,64.4 C-1.4,60.4 5.9,64.1 8.6,66.4 C11.3,68.7 12.4,74.4 12.6,78.4 C12.8,82.4 12.3,88.4 9.6,90.4 C6.9,92.4 -1.2,94.7 -3.4,90.4 C-5.6,86.1 -5.4,68.4 -3.4,64.4 Z" fill="url(#cellC)"/>
</g>
<g filter="url(#blur2)">
<path d="M17.6,28.4 C19.1,25.9 25.6,25.4 28.6,26.4 C31.6,27.4 35.3,31.6 35.6,34.4 C35.9,37.2 33.3,42.2 30.6,43.4 C27.9,44.6 21.8,43.9 19.6,41.4 C17.4,38.9 16.1,30.9 17.6,28.4 Z" fill="#ecdcd0" opacity="0.8"/>
<path d="M38.6,58.4 C43.6,54.7 51.3,54.1 58.6,52.4 C65.9,50.7 75.3,49.4 82.6,48.4 C89.9,47.4 99.3,39.4 102.6,46.4 C105.9,53.4 114.6,83.1 102.6,90.4 C90.6,97.7 42.9,93.1 30.6,90.4 C18.3,87.7 27.3,79.7 28.6,74.4 C29.9,69.1 33.6,62.1 38.6,58.4 Z" fill="#7c3f18" opacity="0.45"/>
<path d="M64.6,2.4 C71.3,-0.6 84.3,1.1 90.6,2.4 C96.9,3.7 100.6,5.7 102.6,10.4 C104.6,15.1 105.9,26.1 102.6,30.4 C99.3,34.7 89.9,34.6 82.6,36.4 C75.3,38.2 64.3,41.7 58.6,41.4 C52.9,41.1 49.9,37.9 48.6,34.4 C47.3,30.9 47.9,25.7 50.6,20.4 C53.3,15.1 57.9,5.4 64.6,2.4 Z" fill="#7c3f18" opacity="0.38"/>
<path d="M28.6,14.4 C30.6,11.7 41.3,12.4 44.6,16.4 C47.9,20.4 49.9,33.4 48.6,38.4 C47.3,43.4 39.3,47.4 36.6,46.4 C33.9,45.4 33.9,37.7 32.6,32.4 C31.3,27.1 26.6,17.1 28.6,14.4 Z" fill="#8f4a1d" opacity="0.35"/>
</g>
<g filter="url(#blur06)">
<path d="M34.2,-3.6 C39.5,-4.9 61.7,-4.9 66.6,-3.6 C71.5,-2.3 64.5,2.1 63.4,4.4 C62.3,6.7 61.3,8.0 59.8,10.0 C58.3,12.0 56.3,14.7 54.6,16.4 C52.9,18.1 51.2,20.1 49.8,20.0 C48.4,19.9 47.1,17.3 46.2,15.6 C45.3,13.9 45.9,11.1 44.6,10.0 C43.3,8.9 40.3,10.1 38.6,9.2 C36.9,8.3 35.3,6.5 34.6,4.4 C33.9,2.3 28.9,-2.3 34.2,-3.6 Z" fill="#efecec"/>
<path d="M-3.4,50.4 C-1.4,48.8 4.9,52.2 8.6,53.0 C12.3,53.8 15.3,55.2 18.6,55.0 C21.9,54.8 25.6,53.3 28.6,52.0 C31.6,50.7 33.6,48.0 36.6,47.0 C39.6,46.0 42.9,46.1 46.6,45.8 C50.3,45.5 54.6,45.9 58.6,45.4 C62.6,44.9 67.3,43.9 70.6,42.8 C73.9,41.7 75.9,40.3 78.6,39.0 C81.3,37.7 83.9,36.1 86.6,35.0 C89.3,33.9 91.6,33.1 94.6,32.4 C97.6,31.7 102.9,29.4 104.6,31.0 C106.3,32.6 106.6,40.0 104.6,41.8 C102.6,43.6 95.9,41.6 92.6,41.8 C89.3,42.0 86.9,42.4 84.6,43.2 C82.3,44.0 81.3,45.6 78.6,46.8 C75.9,48.0 72.3,49.8 68.6,50.6 C64.9,51.4 60.3,51.1 56.6,51.4 C52.9,51.7 49.4,51.7 46.6,52.6 C43.8,53.5 42.1,55.3 39.8,56.8 C37.5,58.3 35.1,59.9 33.0,61.4 C30.9,62.9 28.9,64.3 27.4,66.0 C25.9,67.7 24.9,69.7 23.8,71.8 C22.7,73.9 21.6,75.0 21.0,78.4 C20.4,81.8 22.1,90.1 20.2,92.4 C18.3,94.7 11.2,94.7 9.8,92.4 C8.4,90.1 11.8,82.3 11.8,78.4 C11.8,74.5 11.0,71.2 9.8,68.8 C8.6,66.4 6.8,65.2 4.6,64.2 C2.4,63.2 -2.1,65.1 -3.4,62.8 C-4.7,60.5 -5.4,52.0 -3.4,50.4 Z" fill="#efecec"/>
<path d="M92.6,-3.6 C93.9,-4.9 102.6,-5.3 104.6,-3.6 C106.6,-1.9 105.9,5.5 104.6,6.8 C103.3,8.1 99.0,6.1 97.0,4.4 C95.0,2.7 91.3,-2.3 92.6,-3.6 Z" fill="#efecec"/>
<path d="M9.6,-1.6 C10.9,-2.2 19.1,-2.3 20.6,-1.6 C22.1,-0.9 19.9,1.8 18.6,2.4 C17.3,3.0 14.1,2.7 12.6,2.0 C11.1,1.3 8.3,-1.0 9.6,-1.6 Z" fill="#eadfd8"/>
<ellipse cx="88.6" cy="46.4" rx="4.4" ry="2.7" fill="#fbf8f6" stroke="#8f4a1d" stroke-width="1.0"/>
</g>
<g fill="#9096ae" opacity="0.50"><ellipse cx="55.2" cy="50.6" rx="0.7" ry="0.6" transform="rotate(71 55.2 50.6)"/><ellipse cx="18.5" cy="76.5" rx="1.0" ry="0.8" transform="rotate(18 18.5 76.5)"/><ellipse cx="14.1" cy="54.5" rx="0.8" ry="0.5" transform="rotate(1 14.1 54.5)"/><ellipse cx="0.3" cy="59.8" rx="0.9" ry="0.6" transform="rotate(78 0.3 59.8)"/><ellipse cx="58.8" cy="0.8" rx="0.7" ry="0.6" transform="rotate(50 58.8 0.8)"/><ellipse cx="83.3" cy="40.8" rx="1.1" ry="0.9" transform="rotate(64 83.3 40.8)"/><ellipse cx="34.6" cy="53.9" rx="1.3" ry="0.6" transform="rotate(179 34.6 53.9)"/><ellipse cx="15.2" cy="74.5" rx="0.9" ry="0.7" transform="rotate(158 15.2 74.5)"/><ellipse cx="74.1" cy="42.3" rx="0.9" ry="0.7" transform="rotate(37 74.1 42.3)"/><ellipse cx="52.3" cy="48.3" rx="1.1" ry="0.5" transform="rotate(91 52.3 48.3)"/><ellipse cx="59.0" cy="1.0" rx="1.1" ry="0.6" transform="rotate(171 59.0 1.0)"/><ellipse cx="17.5" cy="76.5" rx="1.0" ry="0.6" transform="rotate(85 17.5 76.5)"/><ellipse cx="16.9" cy="73.8" rx="1.4" ry="0.7" transform="rotate(177 16.9 73.8)"/><ellipse cx="8.0" cy="59.2" rx="1.0" ry="0.7" transform="rotate(148 8.0 59.2)"/><ellipse cx="18.4" cy="66.9" rx="0.8" ry="0.8" transform="rotate(120 18.4 66.9)"/><ellipse cx="35.7" cy="58.4" rx="0.8" ry="0.6" transform="rotate(95 35.7 58.4)"/><ellipse cx="11.7" cy="73.3" rx="1.0" ry="0.5" transform="rotate(157 11.7 73.3)"/><ellipse cx="57.3" cy="47.5" rx="1.0" ry="0.6" transform="rotate(97 57.3 47.5)"/><ellipse cx="14.3" cy="55.5" rx="1.3" ry="0.7" transform="rotate(110 14.3 55.5)"/><ellipse cx="2.4" cy="58.2" rx="1.4" ry="0.6" transform="rotate(10 2.4 58.2)"/><ellipse cx="43.5" cy="50.8" rx="1.2" ry="0.8" transform="rotate(123 43.5 50.8)"/><ellipse cx="49.4" cy="10.9" rx="0.8" ry="0.7" transform="rotate(28 49.4 10.9)"/><ellipse cx="42.1" cy="14.2" rx="1.1" ry="0.5" transform="rotate(27 42.1 14.2)"/><ellipse cx="9.3" cy="60.5" rx="1.0" ry="0.6" transform="rotate(167 9.3 60.5)"/><ellipse cx="38.0" cy="4.9" rx="1.2" ry="0.6" transform="rotate(161 38.0 4.9)"/><ellipse cx="53.9" cy="47.8" rx="1.0" ry="0.8" transform="rotate(109 53.9 47.8)"/><ellipse cx="11.8" cy="85.8" rx="1.2" ry="0.8" transform="rotate(35 11.8 85.8)"/><ellipse cx="30.1" cy="55.7" rx="1.4" ry="0.6" transform="rotate(9 30.1 55.7)"/><ellipse cx="60.2" cy="50.6" rx="1.2" ry="0.7" transform="rotate(24 60.2 50.6)"/><ellipse cx="47.7" cy="48.7" rx="0.8" ry="0.8" transform="rotate(73 47.7 48.7)"/><ellipse cx="15.8" cy="69.3" rx="0.9" ry="0.7" transform="rotate(61 15.8 69.3)"/><ellipse cx="41.7" cy="4.0" rx="1.1" ry="0.9" transform="rotate(132 41.7 4.0)"/><ellipse cx="65.5" cy="43.9" rx="1.2" ry="0.5" transform="rotate(104 65.5 43.9)"/><ellipse cx="19.8" cy="61.4" rx="1.1" ry="0.6" transform="rotate(59 19.8 61.4)"/><ellipse cx="49.4" cy="50.4" rx="1.0" ry="0.8" transform="rotate(3 49.4 50.4)"/><ellipse cx="6.2" cy="61.8" rx="0.7" ry="0.6" transform="rotate(73 6.2 61.8)"/><ellipse cx="43.4" cy="9.4" rx="1.3" ry="0.7" transform="rotate(82 43.4 9.4)"/><ellipse cx="26.7" cy="59.6" rx="0.9" ry="0.5" transform="rotate(142 26.7 59.6)"/><ellipse cx="53.6" cy="11.1" rx="0.8" ry="0.6" transform="rotate(41 53.6 11.1)"/><ellipse cx="93.0" cy="40.7" rx="1.0" ry="0.7" transform="rotate(171 93.0 40.7)"/><ellipse cx="42.6" cy="4.6" rx="1.4" ry="0.5" transform="rotate(147 42.6 4.6)"/><ellipse cx="24.0" cy="62.2" rx="0.9" ry="0.7" transform="rotate(51 24.0 62.2)"/><ellipse cx="40.7" cy="12.6" rx="1.3" ry="0.7" transform="rotate(9 40.7 12.6)"/><ellipse cx="76.7" cy="42.1" rx="1.0" ry="0.7" transform="rotate(23 76.7 42.1)"/><ellipse cx="68.1" cy="47.3" rx="1.3" ry="0.6" transform="rotate(151 68.1 47.3)"/><ellipse cx="95.6" cy="36.4" rx="1.4" ry="0.5" transform="rotate(60 95.6 36.4)"/><ellipse cx="18.1" cy="57.6" rx="1.3" ry="0.9" transform="rotate(157 18.1 57.6)"/><ellipse cx="42.5" cy="7.4" rx="1.3" ry="0.6" transform="rotate(107 42.5 7.4)"/><ellipse cx="23.3" cy="61.5" rx="1.3" ry="0.7" transform="rotate(25 23.3 61.5)"/><ellipse cx="0.2" cy="59.3" rx="0.8" ry="0.6" transform="rotate(94 0.2 59.3)"/><ellipse cx="62.6" cy="9.3" rx="1.2" ry="0.8" transform="rotate(46 62.6 9.3)"/><ellipse cx="38.1" cy="10.4" rx="1.1" ry="0.6" transform="rotate(175 38.1 10.4)"/><ellipse cx="47.8" cy="2.0" rx="0.8" ry="0.8" transform="rotate(128 47.8 2.0)"/><ellipse cx="44.2" cy="52.4" rx="1.3" ry="0.8" transform="rotate(162 44.2 52.4)"/><ellipse cx="36.9" cy="0.2" rx="1.1" ry="0.8" transform="rotate(117 36.9 0.2)"/><ellipse cx="7.8" cy="60.6" rx="0.7" ry="0.7" transform="rotate(38 7.8 60.6)"/><ellipse cx="60.8" cy="12.0" rx="0.9" ry="0.9" transform="rotate(158 60.8 12.0)"/><ellipse cx="11.3" cy="56.8" rx="1.0" ry="0.6" transform="rotate(122 11.3 56.8)"/><ellipse cx="24.1" cy="58.7" rx="0.7" ry="0.5" transform="rotate(54 24.1 58.7)"/><ellipse cx="50.2" cy="49.9" rx="0.8" ry="0.7" transform="rotate(15 50.2 49.9)"/><ellipse cx="49.2" cy="12.7" rx="0.8" ry="0.6" transform="rotate(6 49.2 12.7)"/><ellipse cx="57.0" cy="0.9" rx="0.7" ry="0.8" transform="rotate(126 57.0 0.9)"/><ellipse cx="45.0" cy="50.9" rx="1.1" ry="0.8" transform="rotate(180 45.0 50.9)"/><ellipse cx="6.5" cy="60.3" rx="0.8" ry="0.5" transform="rotate(117 6.5 60.3)"/><ellipse cx="32.8" cy="58.0" rx="1.0" ry="0.7" transform="rotate(167 32.8 58.0)"/><ellipse cx="45.4" cy="50.6" rx="1.3" ry="0.6" transform="rotate(68 45.4 50.6)"/><ellipse cx="31.9" cy="54.4" rx="0.8" ry="0.7" transform="rotate(132 31.9 54.4)"/><ellipse cx="26.9" cy="55.5" rx="1.1" ry="0.9" transform="rotate(29 26.9 55.5)"/><ellipse cx="18.2" cy="68.5" rx="1.1" ry="0.6" transform="rotate(85 18.2 68.5)"/><ellipse cx="47.4" cy="9.1" rx="1.2" ry="0.5" transform="rotate(137 47.4 9.1)"/><ellipse cx="9.7" cy="57.7" rx="1.2" ry="0.7" transform="rotate(29 9.7 57.7)"/><ellipse cx="98.9" cy="37.7" rx="0.8" ry="0.7" transform="rotate(34 98.9 37.7)"/><ellipse cx="38.8" cy="55.9" rx="1.3" ry="0.6" transform="rotate(135 38.8 55.9)"/><ellipse cx="70.9" cy="47.8" rx="1.1" ry="0.6" transform="rotate(6 70.9 47.8)"/><ellipse cx="74.4" cy="44.6" rx="1.2" ry="0.7" transform="rotate(3 74.4 44.6)"/><ellipse cx="48.6" cy="10.5" rx="0.8" ry="0.9" transform="rotate(129 48.6 10.5)"/><ellipse cx="75.5" cy="44.4" rx="1.0" ry="0.6" transform="rotate(24 75.5 44.4)"/><ellipse cx="37.9" cy="52.6" rx="1.2" ry="0.7" transform="rotate(175 37.9 52.6)"/><ellipse cx="53.9" cy="0.2" rx="1.0" ry="0.7" transform="rotate(48 53.9 0.2)"/><ellipse cx="81.6" cy="42.0" rx="1.1" ry="0.5" transform="rotate(178 81.6 42.0)"/><ellipse cx="37.5" cy="7.9" rx="0.9" ry="0.5" transform="rotate(109 37.5 7.9)"/><ellipse cx="13.4" cy="79.4" rx="0.8" ry="0.9" transform="rotate(70 13.4 79.4)"/><ellipse cx="36.8" cy="12.7" rx="0.9" ry="0.5" transform="rotate(38 36.8 12.7)"/><ellipse cx="90.0" cy="43.0" rx="1.0" ry="0.9" transform="rotate(154 90.0 43.0)"/><ellipse cx="98.5" cy="36.4" rx="1.0" ry="0.7" transform="rotate(4 98.5 36.4)"/><ellipse cx="31.4" cy="59.8" rx="0.8" ry="0.7" transform="rotate(21 31.4 59.8)"/><ellipse cx="43.1" cy="54.3" rx="1.1" ry="0.9" transform="rotate(132 43.1 54.3)"/><ellipse cx="83.5" cy="44.3" rx="0.9" ry="0.7" transform="rotate(130 83.5 44.3)"/><ellipse cx="37.1" cy="53.2" rx="1.1" ry="0.6" transform="rotate(114 37.1 53.2)"/><ellipse cx="57.7" cy="52.0" rx="1.2" ry="0.5" transform="rotate(20 57.7 52.0)"/><ellipse cx="70.6" cy="46.6" rx="1.4" ry="0.7" transform="rotate(101 70.6 46.6)"/><ellipse cx="13.2" cy="65.9" rx="1.2" ry="0.7" transform="rotate(71 13.2 65.9)"/><ellipse cx="18.4" cy="86.8" rx="0.7" ry="0.8" transform="rotate(80 18.4 86.8)"/><ellipse cx="25.9" cy="54.6" rx="1.0" ry="0.7" transform="rotate(116 25.9 54.6)"/><ellipse cx="56.3" cy="8.8" rx="0.9" ry="0.6" transform="rotate(3 56.3 8.8)"/><ellipse cx="19.5" cy="86.8" rx="0.9" ry="0.6" transform="rotate(16 19.5 86.8)"/><ellipse cx="77.9" cy="41.4" rx="0.9" ry="0.5" transform="rotate(142 77.9 41.4)"/><ellipse cx="22.2" cy="58.7" rx="0.8" ry="0.7" transform="rotate(176 22.2 58.7)"/><ellipse cx="47.8" cy="53.0" rx="1.2" ry="0.6" transform="rotate(114 47.8 53.0)"/><ellipse cx="20.2" cy="63.2" rx="0.9" ry="0.8" transform="rotate(69 20.2 63.2)"/><ellipse cx="15.2" cy="58.8" rx="1.2" ry="0.7" transform="rotate(137 15.2 58.8)"/><ellipse cx="40.4" cy="52.8" rx="0.8" ry="0.8" transform="rotate(66 40.4 52.8)"/><ellipse cx="37.4" cy="54.4" rx="1.1" ry="0.8" transform="rotate(98 37.4 54.4)"/><ellipse cx="77.8" cy="41.3" rx="1.4" ry="0.7" transform="rotate(145 77.8 41.3)"/><ellipse cx="85.6" cy="38.9" rx="0.8" ry="0.5" transform="rotate(5 85.6 38.9)"/><ellipse cx="66.8" cy="49.6" rx="0.7" ry="0.9" transform="rotate(81 66.8 49.6)"/><ellipse cx="23.4" cy="59.0" rx="1.0" ry="0.5" transform="rotate(127 23.4 59.0)"/><ellipse cx="91.1" cy="42.1" rx="0.9" ry="0.6" transform="rotate(93 91.1 42.1)"/><ellipse cx="4.4" cy="58.9" rx="1.3" ry="0.5" transform="rotate(76 4.4 58.9)"/><ellipse cx="91.0" cy="37.4" rx="0.7" ry="0.6" transform="rotate(134 91.0 37.4)"/><ellipse cx="15.2" cy="87.1" rx="1.1" ry="0.6" transform="rotate(21 15.2 87.1)"/><ellipse cx="65.2" cy="44.8" rx="1.0" ry="0.6" transform="rotate(172 65.2 44.8)"/><ellipse cx="68.3" cy="46.0" rx="1.0" ry="0.6" transform="rotate(7 68.3 46.0)"/><ellipse cx="2.4" cy="54.5" rx="1.0" ry="0.9" transform="rotate(119 2.4 54.5)"/><ellipse cx="49.1" cy="6.1" rx="0.8" ry="0.9" transform="rotate(148 49.1 6.1)"/><ellipse cx="47.6" cy="4.7" rx="0.8" ry="0.6" transform="rotate(132 47.6 4.7)"/><ellipse cx="13.6" cy="83.6" rx="1.3" ry="0.7" transform="rotate(119 13.6 83.6)"/><ellipse cx="28.4" cy="57.8" rx="1.3" ry="0.8" transform="rotate(9 28.4 57.8)"/><ellipse cx="18.3" cy="62.9" rx="1.3" ry="0.6" transform="rotate(11 18.3 62.9)"/><ellipse cx="22.5" cy="56.4" rx="1.0" ry="0.6" transform="rotate(77 22.5 56.4)"/><ellipse cx="27.6" cy="56.8" rx="1.3" ry="0.5" transform="rotate(153 27.6 56.8)"/><ellipse cx="2.3" cy="59.2" rx="1.0" ry="0.7" transform="rotate(173 2.3 59.2)"/><ellipse cx="40.1" cy="14.2" rx="1.1" ry="0.7" transform="rotate(158 40.1 14.2)"/><ellipse cx="40.3" cy="53.7" rx="1.2" ry="0.6" transform="rotate(19 40.3 53.7)"/><ellipse cx="19.8" cy="83.5" rx="1.2" ry="0.7" transform="rotate(17 19.8 83.5)"/><ellipse cx="13.4" cy="67.0" rx="0.9" ry="0.8" transform="rotate(178 13.4 67.0)"/><ellipse cx="50.5" cy="9.7" rx="0.8" ry="0.7" transform="rotate(94 50.5 9.7)"/><ellipse cx="27.1" cy="60.2" rx="1.0" ry="0.5" transform="rotate(43 27.1 60.2)"/><ellipse cx="83.2" cy="42.0" rx="1.4" ry="0.9" transform="rotate(30 83.2 42.0)"/><ellipse cx="39.6" cy="11.0" rx="1.2" ry="0.5" transform="rotate(131 39.6 11.0)"/><ellipse cx="60.0" cy="13.2" rx="0.8" ry="0.8" transform="rotate(12 60.0 13.2)"/><ellipse cx="79.7" cy="43.7" rx="1.0" ry="0.7" transform="rotate(19 79.7 43.7)"/><ellipse cx="59.1" cy="46.5" rx="1.3" ry="0.7" transform="rotate(163 59.1 46.5)"/><ellipse cx="19.6" cy="82.3" rx="1.3" ry="0.5" transform="rotate(151 19.6 82.3)"/><ellipse cx="14.5" cy="80.8" rx="0.9" ry="0.6" transform="rotate(27 14.5 80.8)"/><ellipse cx="20.4" cy="57.4" rx="1.1" ry="0.8" transform="rotate(95 20.4 57.4)"/><ellipse cx="69.1" cy="46.1" rx="0.9" ry="0.6" transform="rotate(36 69.1 46.1)"/><ellipse cx="12.7" cy="65.1" rx="1.0" ry="0.5" transform="rotate(112 12.7 65.1)"/><ellipse cx="59.2" cy="0.5" rx="1.0" ry="0.9" transform="rotate(82 59.2 0.5)"/><ellipse cx="80.3" cy="40.6" rx="1.0" ry="0.9" transform="rotate(141 80.3 40.6)"/><ellipse cx="8.1" cy="63.6" rx="1.3" ry="0.7" transform="rotate(54 8.1 63.6)"/><ellipse cx="14.6" cy="65.7" rx="0.8" ry="0.6" transform="rotate(158 14.6 65.7)"/><ellipse cx="100.4" cy="39.0" rx="0.9" ry="0.9" transform="rotate(21 100.4 39.0)"/><ellipse cx="13.1" cy="85.8" rx="1.0" ry="0.8" transform="rotate(128 13.1 85.8)"/><ellipse cx="51.6" cy="14.2" rx="1.0" ry="0.5" transform="rotate(168 51.6 14.2)"/><ellipse cx="66.4" cy="45.0" rx="0.7" ry="0.7" transform="rotate(16 66.4 45.0)"/><ellipse cx="24.2" cy="55.6" rx="1.1" ry="0.6" transform="rotate(120 24.2 55.6)"/><ellipse cx="35.4" cy="54.6" rx="1.3" ry="0.6" transform="rotate(170 35.4 54.6)"/><ellipse cx="26.3" cy="55.4" rx="0.8" ry="0.9" transform="rotate(179 26.3 55.4)"/></g>
</g>
<g transform="translate(209.40,225.60)" clip-path="url(#clipB2)">
<g filter="url(#warp)">
<rect x="-5" y="-5" width="111.8" height="98.2" fill="url(#cellD)"/>
</g>
<g filter="url(#blur2)">
<path d="M2.6,10.4 C6.3,6.4 16.6,4.7 22.6,6.4 C28.6,8.1 37.3,15.1 38.6,20.4 C39.9,25.7 35.3,34.4 30.6,38.4 C25.9,42.4 15.6,45.7 10.6,44.4 C5.6,43.1 1.9,36.1 0.6,30.4 C-0.7,24.7 -1.1,14.4 2.6,10.4 Z" fill="#ecd9ca" opacity="0.45"/>
<path d="M10.6,48.4 C14.9,41.7 28.6,44.7 32.6,46.4 C36.6,48.1 36.3,52.4 34.6,58.4 C32.9,64.4 27.3,77.7 22.6,82.4 C17.9,87.1 8.6,92.1 6.6,86.4 C4.6,80.7 6.3,55.1 10.6,48.4 Z" fill="#ecd9ca" opacity="0.3"/>
<path d="M42.6,74.4 C48.6,72.4 72.6,72.4 78.6,74.4 C84.6,76.4 84.6,84.4 78.6,86.4 C72.6,88.4 48.6,88.4 42.6,86.4 C36.6,84.4 36.6,76.4 42.6,74.4 Z" fill="#ecd9ca" opacity="0.25"/>
<path d="M58.6,6.4 C61.3,4.7 71.3,5.7 74.6,8.4 C77.9,11.1 79.9,19.1 78.6,22.4 C77.3,25.7 69.9,29.1 66.6,28.4 C63.3,27.7 59.9,22.1 58.6,18.4 C57.3,14.7 55.9,8.1 58.6,6.4 Z" fill="#e6cdb8" opacity="0.5"/>
<path d="M68.6,58.4 C71.3,55.1 80.9,51.1 86.6,52.4 C92.3,53.7 99.9,62.1 102.6,66.4 C105.3,70.7 105.9,76.1 102.6,78.4 C99.3,80.7 87.9,81.4 82.6,80.4 C77.3,79.4 72.9,76.1 70.6,72.4 C68.3,68.7 65.9,61.7 68.6,58.4 Z" fill="#9a5424" opacity="0.35"/>
<path d="M42.6,2.4 C46.3,0.7 60.3,0.1 64.6,2.4 C68.9,4.7 70.9,13.7 68.6,16.4 C66.3,19.1 54.9,19.1 50.6,18.4 C46.3,17.7 43.9,15.1 42.6,12.4 C41.3,9.7 38.9,4.1 42.6,2.4 Z" fill="#9a5424" opacity="0.3"/>
<path d="M50.6,32.4 C56.6,29.4 85.9,30.4 94.6,32.4 C103.3,34.4 104.6,41.4 102.6,44.4 C100.6,47.4 89.9,49.4 82.6,50.4 C75.3,51.4 63.9,53.4 58.6,50.4 C53.3,47.4 44.6,35.4 50.6,32.4 Z" fill="#9a5424" opacity="0.25"/>
</g>
<g filter="url(#blur1)">
<path d="M74.6,-3.6 C70.3,-1.9 77.6,3.1 78.6,6.4 C79.6,9.7 79.6,13.1 80.6,16.4 C81.6,19.7 83.2,23.7 84.6,26.4 C86.0,29.1 85.7,31.1 89.0,32.8 C92.3,34.5 102.0,42.9 104.6,36.8 C107.2,30.7 109.6,3.1 104.6,-3.6 C99.6,-10.3 78.9,-5.3 74.6,-3.6 Z" fill="#e8e4e6"/>
<path d="M86.2,50.8 C86.9,49.1 89.5,49.2 92.6,48.4 C95.7,47.6 102.6,43.3 104.6,46.0 C106.6,48.7 106.3,62.1 104.6,64.8 C102.9,67.5 97.3,63.5 94.6,62.4 C91.9,61.3 90.0,60.3 88.6,58.4 C87.2,56.5 85.5,52.5 86.2,50.8 Z" fill="#e8e4e6"/>
<path d="M45.6,21.4 C46.6,20.2 50.4,19.1 52.6,19.4 C54.8,19.7 56.5,21.9 58.6,23.4 C60.7,24.9 65.0,27.0 65.0,28.4 C65.0,29.8 61.0,31.3 58.6,31.6 C56.2,31.9 52.6,31.3 50.6,30.4 C48.6,29.5 47.4,27.9 46.6,26.4 C45.8,24.9 44.6,22.6 45.6,21.4 Z" fill="#e6dad4"/>
<path d="M34.2,58.8 C36.5,57.3 42.5,55.8 46.6,55.4 C50.7,55.0 54.9,55.9 58.6,56.4 C62.3,56.9 67.6,56.7 69.0,58.4 C70.4,60.1 68.7,64.1 67.0,66.4 C65.3,68.7 62.0,71.2 58.6,72.4 C55.2,73.6 49.9,74.3 46.6,73.6 C43.3,72.9 40.9,69.9 38.6,68.4 C36.3,66.9 33.3,66.0 32.6,64.4 C31.9,62.8 31.9,60.3 34.2,58.8 Z" fill="#e6dad4"/>
<path d="M-3.4,46.0 C-1.7,44.6 4.6,47.7 6.6,49.4 C8.6,51.1 8.9,54.8 8.6,56.4 C8.3,58.0 6.6,58.6 4.6,58.8 C2.6,59.0 -2.1,59.7 -3.4,57.6 C-4.7,55.5 -5.1,47.4 -3.4,46.0 Z" fill="#e6dad4"/>
<path d="M-3.4,66.4 C-1.7,64.6 4.2,66.1 6.6,67.4 C9.0,68.7 11.0,72.6 11.0,74.4 C11.0,76.2 9.0,77.8 6.6,78.4 C4.2,79.0 -1.7,80.0 -3.4,78.0 C-5.1,76.0 -5.1,68.2 -3.4,66.4 Z" fill="#e6dad4"/>
<path d="M78.6,79.4 C80.6,76.6 84.3,75.8 88.6,75.4 C92.9,75.0 101.9,74.0 104.6,76.8 C107.3,79.6 109.3,89.8 104.6,92.4 C99.9,95.0 80.9,94.6 76.6,92.4 C72.3,90.2 76.6,82.2 78.6,79.4 Z" fill="#e8dcd6" opacity="0.8"/>
</g>
<g fill="#9096ae" opacity="0.50"><ellipse cx="101.7" cy="18.5" rx="1.1" ry="0.7" transform="rotate(116 101.7 18.5)"/><ellipse cx="49.4" cy="66.9" rx="1.2" ry="0.7" transform="rotate(121 49.4 66.9)"/><ellipse cx="100.9" cy="5.6" rx="1.1" ry="0.7" transform="rotate(169 100.9 5.6)"/><ellipse cx="92.4" cy="26.1" rx="0.9" ry="0.5" transform="rotate(65 92.4 26.1)"/><ellipse cx="90.8" cy="15.5" rx="1.0" ry="0.6" transform="rotate(169 90.8 15.5)"/><ellipse cx="86.7" cy="2.3" rx="1.4" ry="0.6" transform="rotate(29 86.7 2.3)"/><ellipse cx="1.3" cy="67.4" rx="0.9" ry="0.6" transform="rotate(111 1.3 67.4)"/><ellipse cx="92.1" cy="12.3" rx="1.1" ry="0.7" transform="rotate(20 92.1 12.3)"/><ellipse cx="59.9" cy="25.5" rx="0.8" ry="0.5" transform="rotate(27 59.9 25.5)"/><ellipse cx="92.9" cy="30.1" rx="1.2" ry="0.5" transform="rotate(76 92.9 30.1)"/><ellipse cx="0.3" cy="73.7" rx="0.8" ry="0.9" transform="rotate(8 0.3 73.7)"/><ellipse cx="51.1" cy="28.6" rx="1.0" ry="0.7" transform="rotate(50 51.1 28.6)"/><ellipse cx="0.7" cy="54.1" rx="1.3" ry="0.8" transform="rotate(103 0.7 54.1)"/><ellipse cx="79.7" cy="26.1" rx="1.3" ry="0.6" transform="rotate(94 79.7 26.1)"/><ellipse cx="93.5" cy="18.1" rx="1.0" ry="0.7" transform="rotate(175 93.5 18.1)"/><ellipse cx="53.3" cy="60.9" rx="0.9" ry="0.8" transform="rotate(149 53.3 60.9)"/><ellipse cx="85.3" cy="23.7" rx="0.7" ry="0.8" transform="rotate(69 85.3 23.7)"/><ellipse cx="100.4" cy="24.2" rx="1.3" ry="0.6" transform="rotate(161 100.4 24.2)"/><ellipse cx="79.6" cy="8.8" rx="0.9" ry="0.6" transform="rotate(45 79.6 8.8)"/><ellipse cx="96.3" cy="5.0" rx="1.3" ry="0.6" transform="rotate(43 96.3 5.0)"/><ellipse cx="57.0" cy="28.8" rx="1.3" ry="0.8" transform="rotate(122 57.0 28.8)"/><ellipse cx="85.4" cy="24.4" rx="1.1" ry="0.7" transform="rotate(131 85.4 24.4)"/><ellipse cx="53.6" cy="67.6" rx="1.3" ry="0.8" transform="rotate(31 53.6 67.6)"/><ellipse cx="84.5" cy="1.3" rx="1.3" ry="0.7" transform="rotate(32 84.5 1.3)"/><ellipse cx="100.2" cy="9.4" rx="0.9" ry="0.5" transform="rotate(43 100.2 9.4)"/><ellipse cx="97.3" cy="1.2" rx="1.0" ry="0.8" transform="rotate(81 97.3 1.2)"/><ellipse cx="1.1" cy="71.7" rx="0.9" ry="0.8" transform="rotate(106 1.1 71.7)"/><ellipse cx="41.7" cy="58.5" rx="1.4" ry="0.6" transform="rotate(124 41.7 58.5)"/><ellipse cx="5.6" cy="73.0" rx="0.9" ry="0.6" transform="rotate(70 5.6 73.0)"/><ellipse cx="50.3" cy="63.1" rx="0.9" ry="0.8" transform="rotate(21 50.3 63.1)"/><ellipse cx="43.3" cy="59.6" rx="1.3" ry="0.6" transform="rotate(32 43.3 59.6)"/><ellipse cx="57.3" cy="23.5" rx="1.0" ry="0.9" transform="rotate(36 57.3 23.5)"/><ellipse cx="93.0" cy="1.4" rx="0.7" ry="0.8" transform="rotate(176 93.0 1.4)"/><ellipse cx="101.7" cy="24.3" rx="1.1" ry="0.6" transform="rotate(161 101.7 24.3)"/><ellipse cx="93.8" cy="5.3" rx="0.9" ry="0.8" transform="rotate(124 93.8 5.3)"/><ellipse cx="6.0" cy="73.8" rx="1.1" ry="0.6" transform="rotate(138 6.0 73.8)"/><ellipse cx="5.9" cy="67.5" rx="1.2" ry="0.9" transform="rotate(133 5.9 67.5)"/><ellipse cx="96.9" cy="55.0" rx="1.0" ry="0.6" transform="rotate(40 96.9 55.0)"/><ellipse cx="100.2" cy="31.1" rx="0.7" ry="0.7" transform="rotate(70 100.2 31.1)"/><ellipse cx="48.0" cy="25.1" rx="1.4" ry="0.7" transform="rotate(16 48.0 25.1)"/><ellipse cx="57.9" cy="62.3" rx="1.0" ry="0.8" transform="rotate(7 57.9 62.3)"/><ellipse cx="52.9" cy="26.9" rx="1.1" ry="0.7" transform="rotate(10 52.9 26.9)"/><ellipse cx="52.9" cy="60.9" rx="1.1" ry="0.8" transform="rotate(120 52.9 60.9)"/><ellipse cx="97.1" cy="55.9" rx="1.3" ry="0.8" transform="rotate(46 97.1 55.9)"/><ellipse cx="83.0" cy="29.4" rx="1.3" ry="0.5" transform="rotate(42 83.0 29.4)"/><ellipse cx="93.3" cy="52.2" rx="1.3" ry="0.6" transform="rotate(40 93.3 52.2)"/><ellipse cx="97.5" cy="33.9" rx="1.3" ry="0.7" transform="rotate(123 97.5 33.9)"/><ellipse cx="90.3" cy="53.0" rx="0.7" ry="0.8" transform="rotate(132 90.3 53.0)"/><ellipse cx="98.6" cy="26.7" rx="1.3" ry="0.6" transform="rotate(117 98.6 26.7)"/><ellipse cx="0.0" cy="71.1" rx="1.1" ry="0.9" transform="rotate(85 0.0 71.1)"/><ellipse cx="81.5" cy="0.9" rx="0.9" ry="0.7" transform="rotate(137 81.5 0.9)"/><ellipse cx="6.2" cy="54.9" rx="1.3" ry="0.9" transform="rotate(91 6.2 54.9)"/><ellipse cx="53.9" cy="68.5" rx="1.2" ry="0.8" transform="rotate(170 53.9 68.5)"/><ellipse cx="90.2" cy="50.5" rx="1.3" ry="0.8" transform="rotate(40 90.2 50.5)"/><ellipse cx="5.6" cy="52.1" rx="1.0" ry="0.6" transform="rotate(140 5.6 52.1)"/><ellipse cx="90.3" cy="7.0" rx="1.1" ry="0.7" transform="rotate(46 90.3 7.0)"/><ellipse cx="51.4" cy="27.1" rx="1.1" ry="0.6" transform="rotate(18 51.4 27.1)"/><ellipse cx="56.3" cy="23.2" rx="1.0" ry="0.9" transform="rotate(29 56.3 23.2)"/><ellipse cx="38.3" cy="59.9" rx="1.1" ry="0.8" transform="rotate(87 38.3 59.9)"/><ellipse cx="50.3" cy="25.9" rx="0.8" ry="0.7" transform="rotate(80 50.3 25.9)"/><ellipse cx="93.8" cy="21.8" rx="1.0" ry="0.7" transform="rotate(106 93.8 21.8)"/><ellipse cx="98.0" cy="12.2" rx="1.0" ry="0.8" transform="rotate(169 98.0 12.2)"/><ellipse cx="99.1" cy="55.7" rx="1.3" ry="0.8" transform="rotate(80 99.1 55.7)"/><ellipse cx="62.4" cy="67.3" rx="0.8" ry="0.5" transform="rotate(68 62.4 67.3)"/><ellipse cx="56.6" cy="68.9" rx="1.2" ry="0.9" transform="rotate(39 56.6 68.9)"/><ellipse cx="50.9" cy="67.4" rx="1.4" ry="0.6" transform="rotate(77 50.9 67.4)"/><ellipse cx="96.0" cy="32.9" rx="0.9" ry="0.7" transform="rotate(31 96.0 32.9)"/><ellipse cx="96.8" cy="61.1" rx="1.3" ry="0.6" transform="rotate(4 96.8 61.1)"/><ellipse cx="53.3" cy="69.1" rx="0.8" ry="0.8" transform="rotate(8 53.3 69.1)"/><ellipse cx="49.2" cy="29.1" rx="0.8" ry="0.8" transform="rotate(149 49.2 29.1)"/><ellipse cx="60.5" cy="28.3" rx="1.3" ry="0.6" transform="rotate(164 60.5 28.3)"/><ellipse cx="99.3" cy="9.2" rx="0.7" ry="0.6" transform="rotate(99 99.3 9.2)"/><ellipse cx="85.4" cy="3.7" rx="1.0" ry="0.6" transform="rotate(146 85.4 3.7)"/><ellipse cx="100.5" cy="13.6" rx="1.3" ry="0.8" transform="rotate(103 100.5 13.6)"/><ellipse cx="53.6" cy="64.7" rx="0.8" ry="0.9" transform="rotate(137 53.6 64.7)"/><ellipse cx="78.9" cy="21.9" rx="1.3" ry="0.6" transform="rotate(164 78.9 21.9)"/><ellipse cx="36.1" cy="61.9" rx="1.0" ry="0.6" transform="rotate(134 36.1 61.9)"/><ellipse cx="91.9" cy="30.8" rx="1.2" ry="0.6" transform="rotate(154 91.9 30.8)"/><ellipse cx="90.4" cy="59.6" rx="1.2" ry="0.7" transform="rotate(38 90.4 59.6)"/><ellipse cx="84.6" cy="14.2" rx="1.3" ry="0.6" transform="rotate(145 84.6 14.2)"/><ellipse cx="101.8" cy="15.6" rx="1.0" ry="0.8" transform="rotate(66 101.8 15.6)"/><ellipse cx="61.9" cy="58.5" rx="1.3" ry="0.8" transform="rotate(66 61.9 58.5)"/><ellipse cx="89.8" cy="26.3" rx="0.9" ry="0.6" transform="rotate(154 89.8 26.3)"/><ellipse cx="84.8" cy="25.8" rx="0.9" ry="0.7" transform="rotate(24 84.8 25.8)"/><ellipse cx="92.0" cy="5.9" rx="1.1" ry="0.6" transform="rotate(112 92.0 5.9)"/><ellipse cx="82.0" cy="3.3" rx="1.2" ry="0.6" transform="rotate(167 82.0 3.3)"/><ellipse cx="4.7" cy="49.4" rx="0.8" ry="0.6" transform="rotate(82 4.7 49.4)"/><ellipse cx="83.5" cy="1.8" rx="1.1" ry="0.5" transform="rotate(99 83.5 1.8)"/><ellipse cx="1.8" cy="53.4" rx="0.7" ry="0.7" transform="rotate(11 1.8 53.4)"/><ellipse cx="65.2" cy="60.6" rx="1.2" ry="0.5" transform="rotate(143 65.2 60.6)"/><ellipse cx="78.8" cy="22.6" rx="1.2" ry="0.8" transform="rotate(109 78.8 22.6)"/><ellipse cx="64.8" cy="66.8" rx="0.8" ry="0.5" transform="rotate(54 64.8 66.8)"/><ellipse cx="92.6" cy="31.9" rx="1.4" ry="0.9" transform="rotate(140 92.6 31.9)"/><ellipse cx="58.6" cy="26.1" rx="1.2" ry="0.7" transform="rotate(21 58.6 26.1)"/><ellipse cx="78.7" cy="7.7" rx="0.9" ry="0.6" transform="rotate(91 78.7 7.7)"/><ellipse cx="95.7" cy="7.8" rx="0.8" ry="0.7" transform="rotate(67 95.7 7.8)"/><ellipse cx="4.3" cy="50.7" rx="1.0" ry="0.8" transform="rotate(17 4.3 50.7)"/><ellipse cx="98.2" cy="15.5" rx="0.8" ry="0.5" transform="rotate(0 98.2 15.5)"/><ellipse cx="40.1" cy="67.4" rx="0.9" ry="0.6" transform="rotate(87 40.1 67.4)"/><ellipse cx="37.8" cy="64.2" rx="0.9" ry="0.6" transform="rotate(84 37.8 64.2)"/><ellipse cx="57.2" cy="62.3" rx="1.4" ry="0.6" transform="rotate(126 57.2 62.3)"/><ellipse cx="99.5" cy="11.0" rx="0.9" ry="0.6" transform="rotate(138 99.5 11.0)"/><ellipse cx="99.0" cy="52.2" rx="1.1" ry="0.9" transform="rotate(139 99.0 52.2)"/><ellipse cx="51.0" cy="21.8" rx="0.9" ry="0.7" transform="rotate(56 51.0 21.8)"/><ellipse cx="83.2" cy="5.9" rx="1.0" ry="0.8" transform="rotate(24 83.2 5.9)"/><ellipse cx="84.9" cy="25.5" rx="0.8" ry="0.5" transform="rotate(53 84.9 25.5)"/><ellipse cx="54.5" cy="24.9" rx="1.3" ry="0.8" transform="rotate(174 54.5 24.9)"/><ellipse cx="91.7" cy="13.1" rx="1.2" ry="0.9" transform="rotate(10 91.7 13.1)"/><ellipse cx="99.2" cy="21.3" rx="0.8" ry="0.5" transform="rotate(144 99.2 21.3)"/><ellipse cx="79.8" cy="13.4" rx="1.2" ry="0.8" transform="rotate(162 79.8 13.4)"/><ellipse cx="90.8" cy="13.7" rx="1.3" ry="0.7" transform="rotate(129 90.8 13.7)"/><ellipse cx="58.9" cy="24.4" rx="1.4" ry="0.7" transform="rotate(70 58.9 24.4)"/><ellipse cx="46.2" cy="60.5" rx="1.0" ry="0.5" transform="rotate(40 46.2 60.5)"/><ellipse cx="61.0" cy="63.2" rx="1.3" ry="0.8" transform="rotate(3 61.0 63.2)"/><ellipse cx="95.6" cy="33.1" rx="0.7" ry="0.7" transform="rotate(168 95.6 33.1)"/><ellipse cx="89.2" cy="7.2" rx="1.0" ry="0.8" transform="rotate(99 89.2 7.2)"/><ellipse cx="61.0" cy="29.9" rx="1.1" ry="0.8" transform="rotate(114 61.0 29.9)"/><ellipse cx="85.6" cy="29.6" rx="1.1" ry="0.8" transform="rotate(138 85.6 29.6)"/><ellipse cx="59.1" cy="25.6" rx="0.9" ry="0.9" transform="rotate(67 59.1 25.6)"/><ellipse cx="48.9" cy="62.2" rx="1.3" ry="0.6" transform="rotate(37 48.9 62.2)"/><ellipse cx="88.6" cy="16.5" rx="1.2" ry="0.5" transform="rotate(11 88.6 16.5)"/><ellipse cx="56.1" cy="62.9" rx="1.3" ry="0.5" transform="rotate(132 56.1 62.9)"/><ellipse cx="91.3" cy="13.0" rx="0.9" ry="0.8" transform="rotate(135 91.3 13.0)"/><ellipse cx="90.5" cy="27.9" rx="0.8" ry="0.6" transform="rotate(72 90.5 27.9)"/><ellipse cx="82.6" cy="5.5" rx="1.3" ry="0.9" transform="rotate(18 82.6 5.5)"/><ellipse cx="58.1" cy="69.1" rx="1.3" ry="0.7" transform="rotate(129 58.1 69.1)"/><ellipse cx="44.1" cy="67.4" rx="0.8" ry="0.7" transform="rotate(180 44.1 67.4)"/><ellipse cx="93.1" cy="6.7" rx="1.0" ry="0.6" transform="rotate(142 93.1 6.7)"/><ellipse cx="89.7" cy="13.8" rx="0.9" ry="0.9" transform="rotate(14 89.7 13.8)"/><ellipse cx="82.5" cy="10.3" rx="1.4" ry="0.8" transform="rotate(57 82.5 10.3)"/><ellipse cx="1.6" cy="67.9" rx="1.2" ry="0.6" transform="rotate(20 1.6 67.9)"/><ellipse cx="87.5" cy="30.9" rx="0.8" ry="0.8" transform="rotate(34 87.5 30.9)"/><ellipse cx="99.7" cy="31.7" rx="1.3" ry="0.6" transform="rotate(5 99.7 31.7)"/><ellipse cx="2.1" cy="56.4" rx="1.3" ry="0.9" transform="rotate(143 2.1 56.4)"/><ellipse cx="101.2" cy="56.1" rx="0.9" ry="0.6" transform="rotate(112 101.2 56.1)"/><ellipse cx="79.6" cy="20.9" rx="1.1" ry="0.8" transform="rotate(84 79.6 20.9)"/><ellipse cx="49.6" cy="63.8" rx="1.3" ry="0.6" transform="rotate(153 49.6 63.8)"/><ellipse cx="93.2" cy="15.6" rx="0.8" ry="0.6" transform="rotate(91 93.2 15.6)"/><ellipse cx="42.6" cy="60.5" rx="0.7" ry="0.6" transform="rotate(69 42.6 60.5)"/><ellipse cx="48.7" cy="69.9" rx="1.3" ry="0.9" transform="rotate(170 48.7 69.9)"/><ellipse cx="94.3" cy="26.4" rx="1.1" ry="0.5" transform="rotate(111 94.3 26.4)"/><ellipse cx="99.5" cy="30.8" rx="0.7" ry="0.6" transform="rotate(91 99.5 30.8)"/><ellipse cx="97.1" cy="30.4" rx="1.1" ry="0.6" transform="rotate(46 97.1 30.4)"/><ellipse cx="80.8" cy="14.5" rx="1.0" ry="0.6" transform="rotate(102 80.8 14.5)"/><ellipse cx="64.1" cy="63.8" rx="0.9" ry="0.6" transform="rotate(64 64.1 63.8)"/><ellipse cx="60.1" cy="58.4" rx="0.8" ry="0.5" transform="rotate(80 60.1 58.4)"/><ellipse cx="89.4" cy="7.4" rx="1.3" ry="0.8" transform="rotate(59 89.4 7.4)"/><ellipse cx="100.1" cy="33.2" rx="1.4" ry="0.6" transform="rotate(50 100.1 33.2)"/><ellipse cx="83.9" cy="0.4" rx="1.2" ry="0.6" transform="rotate(4 83.9 0.4)"/><ellipse cx="85.9" cy="13.1" rx="0.9" ry="0.7" transform="rotate(163 85.9 13.1)"/><ellipse cx="39.9" cy="62.4" rx="0.7" ry="0.9" transform="rotate(47 39.9 62.4)"/><ellipse cx="99.1" cy="53.2" rx="0.7" ry="0.8" transform="rotate(52 99.1 53.2)"/><ellipse cx="90.2" cy="29.9" rx="0.9" ry="0.6" transform="rotate(64 90.2 29.9)"/><ellipse cx="90.0" cy="7.4" rx="1.3" ry="0.6" transform="rotate(20 90.0 7.4)"/><ellipse cx="51.0" cy="58.5" rx="0.9" ry="0.8" transform="rotate(157 51.0 58.5)"/><ellipse cx="96.6" cy="22.0" rx="1.3" ry="0.7" transform="rotate(130 96.6 22.0)"/><ellipse cx="54.4" cy="60.2" rx="1.2" ry="0.8" transform="rotate(67 54.4 60.2)"/><ellipse cx="40.7" cy="69.3" rx="1.4" ry="0.7" transform="rotate(141 40.7 69.3)"/><ellipse cx="55.5" cy="64.2" rx="0.8" ry="0.7" transform="rotate(120 55.5 64.2)"/><ellipse cx="98.9" cy="11.3" rx="1.0" ry="0.9" transform="rotate(124 98.9 11.3)"/><ellipse cx="93.6" cy="61.8" rx="1.2" ry="0.5" transform="rotate(137 93.6 61.8)"/><ellipse cx="94.8" cy="24.5" rx="1.1" ry="0.7" transform="rotate(114 94.8 24.5)"/><ellipse cx="64.9" cy="64.5" rx="1.3" ry="0.7" transform="rotate(146 64.9 64.5)"/><ellipse cx="93.8" cy="9.4" rx="0.8" ry="0.8" transform="rotate(162 93.8 9.4)"/><ellipse cx="61.6" cy="64.6" rx="1.4" ry="0.5" transform="rotate(159 61.6 64.6)"/><ellipse cx="99.2" cy="23.3" rx="1.4" ry="0.8" transform="rotate(75 99.2 23.3)"/><ellipse cx="4.7" cy="72.4" rx="1.2" ry="0.7" transform="rotate(96 4.7 72.4)"/><ellipse cx="84.9" cy="0.2" rx="1.0" ry="0.8" transform="rotate(146 84.9 0.2)"/><ellipse cx="52.8" cy="68.0" rx="0.8" ry="0.6" transform="rotate(58 52.8 68.0)"/><ellipse cx="97.9" cy="9.5" rx="0.7" ry="0.8" transform="rotate(148 97.9 9.5)"/><ellipse cx="57.2" cy="59.7" rx="0.9" ry="0.6" transform="rotate(48 57.2 59.7)"/><ellipse cx="50.0" cy="68.3" rx="1.0" ry="0.8" transform="rotate(140 50.0 68.3)"/><ellipse cx="78.9" cy="24.3" rx="0.8" ry="0.6" transform="rotate(70 78.9 24.3)"/><ellipse cx="95.1" cy="51.3" rx="1.0" ry="0.6" transform="rotate(155 95.1 51.3)"/><ellipse cx="61.4" cy="27.0" rx="1.3" ry="0.7" transform="rotate(78 61.4 27.0)"/><ellipse cx="92.6" cy="22.7" rx="1.1" ry="0.7" transform="rotate(158 92.6 22.7)"/><ellipse cx="99.9" cy="58.2" rx="1.1" ry="0.8" transform="rotate(90 99.9 58.2)"/><ellipse cx="49.1" cy="59.0" rx="1.3" ry="0.5" transform="rotate(76 49.1 59.0)"/><ellipse cx="96.1" cy="11.6" rx="1.2" ry="0.5" transform="rotate(142 96.1 11.6)"/><ellipse cx="79.6" cy="16.0" rx="1.0" ry="0.9" transform="rotate(163 79.6 16.0)"/><ellipse cx="2.5" cy="76.6" rx="1.2" ry="0.9" transform="rotate(59 2.5 76.6)"/><ellipse cx="97.2" cy="14.3" rx="1.3" ry="0.5" transform="rotate(131 97.2 14.3)"/><ellipse cx="96.8" cy="56.8" rx="1.0" ry="0.7" transform="rotate(124 96.8 56.8)"/><ellipse cx="91.0" cy="3.8" rx="1.3" ry="0.7" transform="rotate(21 91.0 3.8)"/><ellipse cx="100.7" cy="19.1" rx="1.1" ry="0.7" transform="rotate(11 100.7 19.1)"/><ellipse cx="5.9" cy="55.1" rx="0.9" ry="0.6" transform="rotate(51 5.9 55.1)"/><ellipse cx="99.7" cy="33.1" rx="0.7" ry="0.8" transform="rotate(4 99.7 33.1)"/><ellipse cx="98.5" cy="10.6" rx="0.8" ry="0.8" transform="rotate(174 98.5 10.6)"/><ellipse cx="92.1" cy="10.3" rx="1.1" ry="0.6" transform="rotate(149 92.1 10.3)"/><ellipse cx="101.4" cy="6.0" rx="1.3" ry="0.8" transform="rotate(160 101.4 6.0)"/><ellipse cx="86.9" cy="24.9" rx="1.2" ry="0.7" transform="rotate(119 86.9 24.9)"/><ellipse cx="65.7" cy="61.0" rx="1.1" ry="0.5" transform="rotate(162 65.7 61.0)"/><ellipse cx="36.8" cy="66.6" rx="1.2" ry="0.8" transform="rotate(49 36.8 66.6)"/><ellipse cx="82.7" cy="8.0" rx="1.1" ry="0.6" transform="rotate(51 82.7 8.0)"/><ellipse cx="85.4" cy="28.5" rx="0.9" ry="0.9" transform="rotate(38 85.4 28.5)"/><ellipse cx="83.3" cy="28.2" rx="0.8" ry="0.7" transform="rotate(101 83.3 28.2)"/><ellipse cx="0.7" cy="54.4" rx="1.3" ry="0.7" transform="rotate(146 0.7 54.4)"/><ellipse cx="41.1" cy="65.2" rx="1.1" ry="0.8" transform="rotate(41 41.1 65.2)"/><ellipse cx="40.2" cy="66.2" rx="0.7" ry="0.6" transform="rotate(26 40.2 66.2)"/><ellipse cx="82.3" cy="17.9" rx="0.8" ry="0.8" transform="rotate(71 82.3 17.9)"/><ellipse cx="101.0" cy="9.8" rx="1.2" ry="0.9" transform="rotate(146 101.0 9.8)"/><ellipse cx="45.8" cy="64.7" rx="0.8" ry="0.9" transform="rotate(85 45.8 64.7)"/><ellipse cx="101.0" cy="57.2" rx="1.2" ry="0.9" transform="rotate(171 101.0 57.2)"/><ellipse cx="46.9" cy="67.8" rx="0.8" ry="0.5" transform="rotate(1 46.9 67.8)"/><ellipse cx="54.1" cy="67.0" rx="1.2" ry="0.6" transform="rotate(107 54.1 67.0)"/><ellipse cx="4.4" cy="68.1" rx="0.8" ry="0.9" transform="rotate(72 4.4 68.1)"/><ellipse cx="93.0" cy="28.5" rx="0.8" ry="0.7" transform="rotate(149 93.0 28.5)"/></g>
</g>
<g transform="translate(313.60,225.60)" clip-path="url(#clipB3)">
<rect width="99.2" height="88.2" fill="#f1eeef"/>
<g fill="#9096ae" opacity="0.40"><ellipse cx="23.6" cy="48.0" rx="1.0" ry="0.7" transform="rotate(160 23.6 48.0)"/><ellipse cx="57.6" cy="53.4" rx="1.3" ry="0.7" transform="rotate(141 57.6 53.4)"/><ellipse cx="23.2" cy="87.8" rx="1.0" ry="0.8" transform="rotate(121 23.2 87.8)"/><ellipse cx="39.4" cy="75.9" rx="0.9" ry="0.6" transform="rotate(133 39.4 75.9)"/><ellipse cx="38.7" cy="1.3" rx="1.2" ry="0.6" transform="rotate(151 38.7 1.3)"/><ellipse cx="4.2" cy="68.8" rx="1.3" ry="0.6" transform="rotate(152 4.2 68.8)"/><ellipse cx="71.3" cy="77.5" rx="1.2" ry="0.9" transform="rotate(101 71.3 77.5)"/><ellipse cx="72.2" cy="50.9" rx="1.4" ry="0.6" transform="rotate(93 72.2 50.9)"/><ellipse cx="9.7" cy="12.0" rx="0.9" ry="0.9" transform="rotate(111 9.7 12.0)"/><ellipse cx="77.3" cy="75.4" rx="1.0" ry="0.8" transform="rotate(146 77.3 75.4)"/><ellipse cx="34.8" cy="51.6" rx="1.1" ry="0.9" transform="rotate(174 34.8 51.6)"/><ellipse cx="90.8" cy="2.5" rx="0.9" ry="0.7" transform="rotate(178 90.8 2.5)"/><ellipse cx="16.2" cy="75.9" rx="1.4" ry="0.9" transform="rotate(145 16.2 75.9)"/><ellipse cx="10.3" cy="57.8" rx="1.1" ry="0.9" transform="rotate(68 10.3 57.8)"/><ellipse cx="28.3" cy="5.6" rx="1.3" ry="0.9" transform="rotate(22 28.3 5.6)"/><ellipse cx="34.1" cy="5.9" rx="1.3" ry="0.5" transform="rotate(109 34.1 5.9)"/><ellipse cx="76.3" cy="77.0" rx="0.7" ry="0.7" transform="rotate(11 76.3 77.0)"/><ellipse cx="37.5" cy="51.7" rx="1.1" ry="0.9" transform="rotate(71 37.5 51.7)"/><ellipse cx="50.1" cy="88.1" rx="0.9" ry="0.5" transform="rotate(153 50.1 88.1)"/><ellipse cx="53.1" cy="83.7" rx="1.4" ry="0.6" transform="rotate(67 53.1 83.7)"/><ellipse cx="15.5" cy="3.7" rx="1.3" ry="0.6" transform="rotate(35 15.5 3.7)"/><ellipse cx="88.9" cy="33.3" rx="1.0" ry="0.7" transform="rotate(164 88.9 33.3)"/><ellipse cx="86.0" cy="60.1" rx="0.8" ry="0.9" transform="rotate(129 86.0 60.1)"/><ellipse cx="26.9" cy="55.9" rx="1.2" ry="0.9" transform="rotate(111 26.9 55.9)"/><ellipse cx="97.0" cy="46.0" rx="1.1" ry="0.5" transform="rotate(106 97.0 46.0)"/><ellipse cx="98.0" cy="27.8" rx="1.0" ry="0.7" transform="rotate(34 98.0 27.8)"/><ellipse cx="6.0" cy="55.3" rx="1.0" ry="0.8" transform="rotate(90 6.0 55.3)"/><ellipse cx="60.4" cy="24.6" rx="1.0" ry="0.7" transform="rotate(173 60.4 24.6)"/><ellipse cx="2.1" cy="32.6" rx="1.1" ry="0.6" transform="rotate(153 2.1 32.6)"/><ellipse cx="31.7" cy="32.1" rx="0.9" ry="0.6" transform="rotate(152 31.7 32.1)"/><ellipse cx="26.2" cy="69.4" rx="0.8" ry="0.8" transform="rotate(145 26.2 69.4)"/><ellipse cx="67.8" cy="11.6" rx="1.1" ry="0.8" transform="rotate(68 67.8 11.6)"/><ellipse cx="23.7" cy="16.5" rx="1.0" ry="0.8" transform="rotate(26 23.7 16.5)"/><ellipse cx="59.6" cy="83.7" rx="1.2" ry="0.6" transform="rotate(43 59.6 83.7)"/><ellipse cx="7.9" cy="65.5" rx="0.9" ry="0.7" transform="rotate(69 7.9 65.5)"/><ellipse cx="22.3" cy="10.7" rx="1.1" ry="0.6" transform="rotate(147 22.3 10.7)"/><ellipse cx="18.2" cy="24.6" rx="1.3" ry="0.8" transform="rotate(158 18.2 24.6)"/><ellipse cx="34.3" cy="11.4" rx="0.9" ry="0.8" transform="rotate(69 34.3 11.4)"/><ellipse cx="46.1" cy="55.9" rx="0.9" ry="0.7" transform="rotate(9 46.1 55.9)"/><ellipse cx="91.3" cy="13.8" rx="0.7" ry="0.9" transform="rotate(159 91.3 13.8)"/><ellipse cx="97.9" cy="38.3" rx="1.4" ry="0.9" transform="rotate(56 97.9 38.3)"/><ellipse cx="3.2" cy="40.3" rx="1.2" ry="0.8" transform="rotate(73 3.2 40.3)"/><ellipse cx="54.0" cy="78.5" rx="1.3" ry="0.8" transform="rotate(73 54.0 78.5)"/><ellipse cx="11.9" cy="21.6" rx="0.7" ry="0.8" transform="rotate(131 11.9 21.6)"/><ellipse cx="91.6" cy="79.1" rx="1.3" ry="0.7" transform="rotate(3 91.6 79.1)"/><ellipse cx="47.7" cy="10.7" rx="1.1" ry="0.6" transform="rotate(5 47.7 10.7)"/><ellipse cx="52.1" cy="36.5" rx="1.4" ry="0.7" transform="rotate(87 52.1 36.5)"/><ellipse cx="12.4" cy="85.7" rx="1.1" ry="0.8" transform="rotate(15 12.4 85.7)"/><ellipse cx="34.9" cy="17.4" rx="1.1" ry="0.8" transform="rotate(43 34.9 17.4)"/><ellipse cx="23.8" cy="24.1" rx="1.3" ry="0.6" transform="rotate(1 23.8 24.1)"/><ellipse cx="48.4" cy="50.4" rx="1.0" ry="0.8" transform="rotate(63 48.4 50.4)"/><ellipse cx="26.6" cy="46.5" rx="1.0" ry="0.7" transform="rotate(0 26.6 46.5)"/><ellipse cx="85.0" cy="68.4" rx="0.7" ry="0.5" transform="rotate(123 85.0 68.4)"/><ellipse cx="96.7" cy="75.4" rx="0.8" ry="0.7" transform="rotate(80 96.7 75.4)"/><ellipse cx="15.6" cy="6.3" rx="1.0" ry="0.7" transform="rotate(77 15.6 6.3)"/><ellipse cx="35.8" cy="16.9" rx="0.9" ry="0.5" transform="rotate(142 35.8 16.9)"/><ellipse cx="0.3" cy="63.8" rx="1.3" ry="0.7" transform="rotate(10 0.3 63.8)"/><ellipse cx="37.0" cy="53.3" rx="1.2" ry="0.7" transform="rotate(11 37.0 53.3)"/><ellipse cx="61.8" cy="38.1" rx="1.0" ry="0.7" transform="rotate(179 61.8 38.1)"/><ellipse cx="31.2" cy="83.8" rx="1.0" ry="0.5" transform="rotate(55 31.2 83.8)"/><ellipse cx="53.2" cy="61.3" rx="0.8" ry="0.7" transform="rotate(109 53.2 61.3)"/><ellipse cx="12.9" cy="2.5" rx="0.9" ry="0.9" transform="rotate(143 12.9 2.5)"/><ellipse cx="78.5" cy="23.1" rx="1.0" ry="0.5" transform="rotate(169 78.5 23.1)"/><ellipse cx="84.3" cy="46.8" rx="1.0" ry="0.5" transform="rotate(81 84.3 46.8)"/><ellipse cx="55.9" cy="9.1" rx="1.1" ry="0.5" transform="rotate(36 55.9 9.1)"/><ellipse cx="23.4" cy="34.3" rx="1.1" ry="0.7" transform="rotate(168 23.4 34.3)"/><ellipse cx="87.3" cy="15.8" rx="0.7" ry="0.8" transform="rotate(31 87.3 15.8)"/><ellipse cx="2.5" cy="10.2" rx="1.0" ry="0.8" transform="rotate(72 2.5 10.2)"/><ellipse cx="57.4" cy="70.4" rx="0.7" ry="0.8" transform="rotate(130 57.4 70.4)"/><ellipse cx="52.5" cy="21.0" rx="1.1" ry="0.5" transform="rotate(141 52.5 21.0)"/><ellipse cx="6.1" cy="28.6" rx="1.1" ry="0.8" transform="rotate(61 6.1 28.6)"/><ellipse cx="99.0" cy="57.0" rx="1.0" ry="0.8" transform="rotate(100 99.0 57.0)"/><ellipse cx="25.1" cy="52.9" rx="1.4" ry="0.7" transform="rotate(21 25.1 52.9)"/><ellipse cx="37.2" cy="20.8" rx="1.4" ry="0.8" transform="rotate(41 37.2 20.8)"/><ellipse cx="41.2" cy="50.1" rx="1.1" ry="0.9" transform="rotate(175 41.2 50.1)"/><ellipse cx="48.0" cy="56.7" rx="1.3" ry="0.6" transform="rotate(24 48.0 56.7)"/><ellipse cx="49.4" cy="42.6" rx="1.2" ry="0.9" transform="rotate(150 49.4 42.6)"/><ellipse cx="71.3" cy="16.4" rx="0.9" ry="0.6" transform="rotate(149 71.3 16.4)"/><ellipse cx="51.1" cy="82.4" rx="1.3" ry="0.7" transform="rotate(75 51.1 82.4)"/><ellipse cx="66.6" cy="75.4" rx="1.1" ry="0.7" transform="rotate(68 66.6 75.4)"/><ellipse cx="88.2" cy="27.1" rx="0.9" ry="0.8" transform="rotate(51 88.2 27.1)"/><ellipse cx="17.1" cy="31.8" rx="0.9" ry="0.8" transform="rotate(36 17.1 31.8)"/><ellipse cx="41.5" cy="61.5" rx="1.2" ry="0.6" transform="rotate(148 41.5 61.5)"/><ellipse cx="82.8" cy="72.5" rx="1.1" ry="0.7" transform="rotate(18 82.8 72.5)"/><ellipse cx="85.0" cy="35.3" rx="1.2" ry="0.9" transform="rotate(119 85.0 35.3)"/><ellipse cx="90.4" cy="78.6" rx="1.2" ry="0.8" transform="rotate(17 90.4 78.6)"/><ellipse cx="95.1" cy="75.3" rx="0.9" ry="0.6" transform="rotate(66 95.1 75.3)"/><ellipse cx="13.6" cy="54.9" rx="1.2" ry="0.5" transform="rotate(65 13.6 54.9)"/><ellipse cx="16.8" cy="4.0" rx="0.8" ry="0.5" transform="rotate(21 16.8 4.0)"/><ellipse cx="11.7" cy="23.3" rx="1.3" ry="0.5" transform="rotate(115 11.7 23.3)"/><ellipse cx="57.6" cy="59.6" rx="0.7" ry="0.6" transform="rotate(111 57.6 59.6)"/><ellipse cx="37.7" cy="6.9" rx="1.2" ry="0.8" transform="rotate(125 37.7 6.9)"/><ellipse cx="38.8" cy="48.0" rx="0.8" ry="0.6" transform="rotate(170 38.8 48.0)"/><ellipse cx="42.9" cy="38.7" rx="1.1" ry="0.6" transform="rotate(135 42.9 38.7)"/><ellipse cx="93.4" cy="33.0" rx="1.2" ry="0.8" transform="rotate(75 93.4 33.0)"/><ellipse cx="65.8" cy="59.1" rx="1.4" ry="0.8" transform="rotate(27 65.8 59.1)"/><ellipse cx="74.8" cy="84.8" rx="1.2" ry="0.7" transform="rotate(29 74.8 84.8)"/><ellipse cx="66.2" cy="44.9" rx="0.7" ry="0.6" transform="rotate(144 66.2 44.9)"/><ellipse cx="73.6" cy="57.0" rx="1.2" ry="0.6" transform="rotate(94 73.6 57.0)"/><ellipse cx="88.3" cy="57.8" rx="0.8" ry="0.9" transform="rotate(36 88.3 57.8)"/><ellipse cx="91.3" cy="56.9" rx="1.2" ry="0.7" transform="rotate(76 91.3 56.9)"/><ellipse cx="64.2" cy="40.4" rx="0.9" ry="0.6" transform="rotate(17 64.2 40.4)"/><ellipse cx="10.7" cy="16.0" rx="1.1" ry="0.7" transform="rotate(100 10.7 16.0)"/><ellipse cx="35.6" cy="23.4" rx="1.0" ry="0.8" transform="rotate(10 35.6 23.4)"/><ellipse cx="47.5" cy="23.9" rx="1.2" ry="0.7" transform="rotate(85 47.5 23.9)"/><ellipse cx="93.7" cy="39.5" rx="1.3" ry="0.5" transform="rotate(127 93.7 39.5)"/><ellipse cx="84.0" cy="9.9" rx="0.9" ry="0.5" transform="rotate(28 84.0 9.9)"/><ellipse cx="56.0" cy="80.3" rx="0.8" ry="0.8" transform="rotate(145 56.0 80.3)"/><ellipse cx="41.3" cy="65.6" rx="1.3" ry="0.8" transform="rotate(151 41.3 65.6)"/><ellipse cx="60.3" cy="75.8" rx="1.3" ry="0.7" transform="rotate(43 60.3 75.8)"/><ellipse cx="56.4" cy="17.8" rx="0.9" ry="0.8" transform="rotate(7 56.4 17.8)"/><ellipse cx="83.6" cy="39.2" rx="1.0" ry="0.8" transform="rotate(80 83.6 39.2)"/><ellipse cx="54.8" cy="51.4" rx="1.1" ry="0.9" transform="rotate(175 54.8 51.4)"/><ellipse cx="70.1" cy="79.0" rx="1.2" ry="0.5" transform="rotate(48 70.1 79.0)"/><ellipse cx="72.1" cy="0.2" rx="1.2" ry="0.8" transform="rotate(125 72.1 0.2)"/><ellipse cx="17.2" cy="55.1" rx="0.8" ry="0.8" transform="rotate(54 17.2 55.1)"/><ellipse cx="3.7" cy="44.1" rx="1.2" ry="0.7" transform="rotate(144 3.7 44.1)"/><ellipse cx="28.1" cy="58.0" rx="0.8" ry="0.7" transform="rotate(22 28.1 58.0)"/><ellipse cx="61.8" cy="4.5" rx="1.0" ry="0.6" transform="rotate(19 61.8 4.5)"/><ellipse cx="49.5" cy="1.7" rx="0.9" ry="0.6" transform="rotate(88 49.5 1.7)"/><ellipse cx="68.9" cy="11.9" rx="1.3" ry="0.7" transform="rotate(8 68.9 11.9)"/><ellipse cx="71.0" cy="65.2" rx="0.9" ry="0.8" transform="rotate(16 71.0 65.2)"/><ellipse cx="85.5" cy="38.5" rx="1.2" ry="0.7" transform="rotate(27 85.5 38.5)"/><ellipse cx="78.1" cy="36.0" rx="1.3" ry="0.8" transform="rotate(100 78.1 36.0)"/><ellipse cx="49.3" cy="61.7" rx="1.1" ry="0.7" transform="rotate(166 49.3 61.7)"/><ellipse cx="48.5" cy="2.1" rx="1.0" ry="0.8" transform="rotate(112 48.5 2.1)"/><ellipse cx="17.9" cy="79.3" rx="1.2" ry="0.6" transform="rotate(94 17.9 79.3)"/><ellipse cx="44.4" cy="31.9" rx="1.0" ry="0.9" transform="rotate(53 44.4 31.9)"/><ellipse cx="25.7" cy="32.6" rx="1.3" ry="0.7" transform="rotate(40 25.7 32.6)"/><ellipse cx="20.8" cy="15.1" rx="1.0" ry="0.6" transform="rotate(7 20.8 15.1)"/><ellipse cx="13.8" cy="53.7" rx="1.0" ry="0.6" transform="rotate(5 13.8 53.7)"/><ellipse cx="40.0" cy="28.0" rx="0.7" ry="0.8" transform="rotate(61 40.0 28.0)"/><ellipse cx="40.0" cy="35.0" rx="0.7" ry="0.9" transform="rotate(56 40.0 35.0)"/><ellipse cx="24.0" cy="34.3" rx="0.8" ry="0.6" transform="rotate(29 24.0 34.3)"/><ellipse cx="34.4" cy="10.9" rx="0.7" ry="0.8" transform="rotate(70 34.4 10.9)"/><ellipse cx="97.3" cy="83.1" rx="1.3" ry="0.9" transform="rotate(125 97.3 83.1)"/><ellipse cx="24.8" cy="23.4" rx="1.3" ry="0.8" transform="rotate(88 24.8 23.4)"/><ellipse cx="31.5" cy="5.0" rx="1.0" ry="0.5" transform="rotate(158 31.5 5.0)"/><ellipse cx="0.4" cy="2.7" rx="0.8" ry="0.6" transform="rotate(9 0.4 2.7)"/><ellipse cx="47.8" cy="16.7" rx="1.1" ry="0.6" transform="rotate(122 47.8 16.7)"/><ellipse cx="33.7" cy="42.2" rx="0.9" ry="0.8" transform="rotate(97 33.7 42.2)"/><ellipse cx="30.2" cy="53.5" rx="1.4" ry="0.5" transform="rotate(75 30.2 53.5)"/><ellipse cx="18.3" cy="36.4" rx="1.1" ry="0.7" transform="rotate(137 18.3 36.4)"/><ellipse cx="67.5" cy="81.9" rx="0.8" ry="0.8" transform="rotate(98 67.5 81.9)"/><ellipse cx="82.9" cy="48.8" rx="1.3" ry="0.6" transform="rotate(106 82.9 48.8)"/><ellipse cx="43.5" cy="39.2" rx="1.2" ry="0.6" transform="rotate(43 43.5 39.2)"/><ellipse cx="50.3" cy="66.4" rx="1.3" ry="0.8" transform="rotate(124 50.3 66.4)"/><ellipse cx="4.2" cy="15.1" rx="1.2" ry="0.8" transform="rotate(23 4.2 15.1)"/><ellipse cx="75.2" cy="59.7" rx="0.8" ry="0.6" transform="rotate(164 75.2 59.7)"/><ellipse cx="5.6" cy="54.0" rx="0.7" ry="0.7" transform="rotate(165 5.6 54.0)"/><ellipse cx="33.1" cy="32.6" rx="0.8" ry="0.7" transform="rotate(26 33.1 32.6)"/><ellipse cx="33.6" cy="27.5" rx="1.0" ry="0.8" transform="rotate(53 33.6 27.5)"/><ellipse cx="23.9" cy="4.3" rx="0.8" ry="0.8" transform="rotate(149 23.9 4.3)"/><ellipse cx="97.7" cy="9.9" rx="0.9" ry="0.6" transform="rotate(143 97.7 9.9)"/><ellipse cx="51.1" cy="44.5" rx="1.3" ry="0.6" transform="rotate(137 51.1 44.5)"/><ellipse cx="77.6" cy="41.2" rx="1.1" ry="0.5" transform="rotate(28 77.6 41.2)"/><ellipse cx="59.3" cy="75.8" rx="0.8" ry="0.9" transform="rotate(65 59.3 75.8)"/><ellipse cx="8.5" cy="41.0" rx="0.9" ry="0.8" transform="rotate(157 8.5 41.0)"/><ellipse cx="10.8" cy="42.8" rx="1.2" ry="0.8" transform="rotate(103 10.8 42.8)"/><ellipse cx="59.8" cy="39.3" rx="0.8" ry="0.8" transform="rotate(152 59.8 39.3)"/><ellipse cx="44.0" cy="33.5" rx="0.8" ry="0.5" transform="rotate(76 44.0 33.5)"/><ellipse cx="72.2" cy="6.8" rx="0.9" ry="0.7" transform="rotate(18 72.2 6.8)"/><ellipse cx="91.7" cy="60.5" rx="1.0" ry="0.8" transform="rotate(17 91.7 60.5)"/><ellipse cx="60.1" cy="18.9" rx="0.9" ry="0.9" transform="rotate(85 60.1 18.9)"/><ellipse cx="23.4" cy="38.7" rx="0.9" ry="0.6" transform="rotate(52 23.4 38.7)"/><ellipse cx="72.1" cy="77.2" rx="1.4" ry="0.7" transform="rotate(137 72.1 77.2)"/><ellipse cx="84.6" cy="32.4" rx="0.8" ry="0.7" transform="rotate(104 84.6 32.4)"/><ellipse cx="48.0" cy="68.2" rx="1.0" ry="0.9" transform="rotate(8 48.0 68.2)"/><ellipse cx="29.0" cy="82.4" rx="0.8" ry="0.5" transform="rotate(38 29.0 82.4)"/><ellipse cx="29.2" cy="45.8" rx="1.1" ry="0.5" transform="rotate(53 29.2 45.8)"/></g>
<g filter="url(#blur04)">
<path d="M0.4,24.4 C1.4,20.7 3.7,17.1 6.4,14.4 C9.1,11.7 12.7,10.1 16.4,8.4 C20.1,6.7 24.9,4.7 28.4,4.4 C31.9,4.1 35.2,6.6 37.4,6.4 C39.6,6.2 39.6,3.9 41.4,3.4 C43.2,2.9 46.8,2.4 48.0,3.6 C49.2,4.8 49.4,7.9 48.8,10.4 C48.2,12.9 45.5,15.6 44.4,18.4 C43.3,21.2 41.8,25.0 42.0,27.4 C42.2,29.8 44.1,32.7 45.6,32.8 C47.1,32.9 49.5,30.3 51.2,28.0 C52.9,25.7 55.1,21.7 56.0,18.8 C56.9,15.9 56.3,13.0 56.8,10.8 C57.3,8.6 57.2,6.7 58.8,5.6 C60.4,4.5 64.0,3.5 66.4,4.0 C68.8,4.5 72.1,6.3 73.4,8.4 C74.7,10.5 74.5,14.4 74.0,16.4 C73.5,18.4 69.7,19.9 70.4,20.4 C71.1,20.9 76.1,18.7 78.4,19.4 C80.7,20.1 83.6,22.4 84.4,24.4 C85.2,26.4 84.4,29.7 83.4,31.4 C82.4,33.1 78.1,33.7 78.4,34.4 C78.7,35.1 84.1,33.7 85.4,35.4 C86.7,37.1 86.7,41.9 86.4,44.4 C86.1,46.9 84.4,48.4 83.4,50.4 C82.4,52.4 81.4,54.2 80.4,56.4 C79.4,58.6 79.4,61.9 77.4,63.4 C75.4,64.9 70.7,65.6 68.4,65.4 C66.1,65.2 65.1,63.6 63.4,62.4 C61.7,61.2 59.6,60.1 58.4,58.4 C57.2,56.7 57.6,52.9 56.4,52.4 C55.2,51.9 53.1,54.1 51.4,55.4 C49.7,56.7 48.4,59.9 46.4,60.4 C44.4,60.9 41.2,59.4 39.4,58.4 C37.6,57.4 36.9,55.4 35.4,54.4 C33.9,53.4 31.9,52.2 30.4,52.4 C28.9,52.6 28.4,55.1 26.4,55.4 C24.4,55.7 20.7,54.1 18.4,54.4 C16.1,54.7 14.4,56.7 12.4,57.4 C10.4,58.1 7.9,59.6 6.4,58.4 C4.9,57.2 3.7,52.7 3.4,50.4 C3.1,48.1 4.9,46.7 4.4,44.4 C3.9,42.1 1.1,39.7 0.4,36.4 C-0.3,33.1 -0.6,28.1 0.4,24.4 Z" fill="#cf9f78" stroke="#9e5a28" stroke-width="1.5"/>
<path d="M0.4,67.4 C1.7,64.9 5.1,64.2 8.4,63.4 C11.7,62.6 17.6,61.7 20.4,62.4 C23.2,63.1 25.1,65.6 25.4,67.4 C25.7,69.2 24.2,71.7 22.4,73.4 C20.6,75.1 17.1,76.4 14.4,77.4 C11.7,78.4 8.7,79.2 6.4,79.4 C4.1,79.6 1.4,80.4 0.4,78.4 C-0.6,76.4 -0.9,69.9 0.4,67.4 Z" fill="#cf9f78" stroke="#9e5a28" stroke-width="1.5"/>
<path d="M8.4,84.4 C9.7,83.1 14.1,82.2 16.4,82.4 C18.7,82.6 21.7,84.1 22.4,85.4 C23.1,86.7 22.7,89.6 20.4,90.4 C18.1,91.2 10.4,91.4 8.4,90.4 C6.4,89.4 7.1,85.7 8.4,84.4 Z" fill="#cf9f78" stroke="#9e5a28" stroke-width="1.5"/>
<path d="M46.4,71.4 C47.2,69.7 50.4,67.9 52.4,67.4 C54.4,66.9 57.2,67.2 58.4,68.4 C59.6,69.6 60.1,72.7 59.4,74.4 C58.7,76.1 56.4,77.9 54.4,78.4 C52.4,78.9 48.7,78.6 47.4,77.4 C46.1,76.2 45.6,73.1 46.4,71.4 Z" fill="#cf9f78" stroke="#9e5a28" stroke-width="1.5"/>
<path d="M62.4,71.4 C63.3,69.7 66.4,68.4 68.4,68.4 C70.4,68.4 73.4,69.7 74.4,71.4 C75.4,73.1 75.4,76.9 74.4,78.4 C73.4,79.9 70.3,80.4 68.4,80.4 C66.5,80.4 63.8,79.9 62.8,78.4 C61.8,76.9 61.5,73.1 62.4,71.4 Z" fill="#cf9f78" stroke="#9e5a28" stroke-width="1.5"/>
<path d="M79.4,64.4 C80.6,62.9 84.2,60.4 86.4,60.4 C88.6,60.4 90.7,62.2 92.4,64.4 C94.1,66.6 96.4,71.6 96.4,73.4 C96.4,75.2 94.4,75.6 92.4,75.4 C90.4,75.2 86.6,73.4 84.4,72.4 C82.2,71.4 80.2,70.7 79.4,69.4 C78.6,68.1 78.2,65.9 79.4,64.4 Z" fill="#cf9f78" stroke="#9e5a28" stroke-width="1.5"/>
<path d="M81.4,82.4 C82.4,80.4 84.7,78.7 86.4,78.4 C88.1,78.1 90.4,78.4 91.4,80.4 C92.4,82.4 94.2,88.7 92.4,90.4 C90.6,92.1 82.2,91.7 80.4,90.4 C78.6,89.1 80.4,84.4 81.4,82.4 Z" fill="#cf9f78" stroke="#9e5a28" stroke-width="1.5"/>
</g>
<clipPath id="nest4"><path d="M0.4,24.4 C1.4,20.7 3.7,17.1 6.4,14.4 C9.1,11.7 12.7,10.1 16.4,8.4 C20.1,6.7 24.9,4.7 28.4,4.4 C31.9,4.1 35.2,6.6 37.4,6.4 C39.6,6.2 39.6,3.9 41.4,3.4 C43.2,2.9 46.8,2.4 48.0,3.6 C49.2,4.8 49.4,7.9 48.8,10.4 C48.2,12.9 45.5,15.6 44.4,18.4 C43.3,21.2 41.8,25.0 42.0,27.4 C42.2,29.8 44.1,32.7 45.6,32.8 C47.1,32.9 49.5,30.3 51.2,28.0 C52.9,25.7 55.1,21.7 56.0,18.8 C56.9,15.9 56.3,13.0 56.8,10.8 C57.3,8.6 57.2,6.7 58.8,5.6 C60.4,4.5 64.0,3.5 66.4,4.0 C68.8,4.5 72.1,6.3 73.4,8.4 C74.7,10.5 74.5,14.4 74.0,16.4 C73.5,18.4 69.7,19.9 70.4,20.4 C71.1,20.9 76.1,18.7 78.4,19.4 C80.7,20.1 83.6,22.4 84.4,24.4 C85.2,26.4 84.4,29.7 83.4,31.4 C82.4,33.1 78.1,33.7 78.4,34.4 C78.7,35.1 84.1,33.7 85.4,35.4 C86.7,37.1 86.7,41.9 86.4,44.4 C86.1,46.9 84.4,48.4 83.4,50.4 C82.4,52.4 81.4,54.2 80.4,56.4 C79.4,58.6 79.4,61.9 77.4,63.4 C75.4,64.9 70.7,65.6 68.4,65.4 C66.1,65.2 65.1,63.6 63.4,62.4 C61.7,61.2 59.6,60.1 58.4,58.4 C57.2,56.7 57.6,52.9 56.4,52.4 C55.2,51.9 53.1,54.1 51.4,55.4 C49.7,56.7 48.4,59.9 46.4,60.4 C44.4,60.9 41.2,59.4 39.4,58.4 C37.6,57.4 36.9,55.4 35.4,54.4 C33.9,53.4 31.9,52.2 30.4,52.4 C28.9,52.6 28.4,55.1 26.4,55.4 C24.4,55.7 20.7,54.1 18.4,54.4 C16.1,54.7 14.4,56.7 12.4,57.4 C10.4,58.1 7.9,59.6 6.4,58.4 C4.9,57.2 3.7,52.7 3.4,50.4 C3.1,48.1 4.9,46.7 4.4,44.4 C3.9,42.1 1.1,39.7 0.4,36.4 C-0.3,33.1 -0.6,28.1 0.4,24.4 Z"/><path d="M0.4,67.4 C1.7,64.9 5.1,64.2 8.4,63.4 C11.7,62.6 17.6,61.7 20.4,62.4 C23.2,63.1 25.1,65.6 25.4,67.4 C25.7,69.2 24.2,71.7 22.4,73.4 C20.6,75.1 17.1,76.4 14.4,77.4 C11.7,78.4 8.7,79.2 6.4,79.4 C4.1,79.6 1.4,80.4 0.4,78.4 C-0.6,76.4 -0.9,69.9 0.4,67.4 Z"/><path d="M8.4,84.4 C9.7,83.1 14.1,82.2 16.4,82.4 C18.7,82.6 21.7,84.1 22.4,85.4 C23.1,86.7 22.7,89.6 20.4,90.4 C18.1,91.2 10.4,91.4 8.4,90.4 C6.4,89.4 7.1,85.7 8.4,84.4 Z"/><path d="M46.4,71.4 C47.2,69.7 50.4,67.9 52.4,67.4 C54.4,66.9 57.2,67.2 58.4,68.4 C59.6,69.6 60.1,72.7 59.4,74.4 C58.7,76.1 56.4,77.9 54.4,78.4 C52.4,78.9 48.7,78.6 47.4,77.4 C46.1,76.2 45.6,73.1 46.4,71.4 Z"/><path d="M62.4,71.4 C63.3,69.7 66.4,68.4 68.4,68.4 C70.4,68.4 73.4,69.7 74.4,71.4 C75.4,73.1 75.4,76.9 74.4,78.4 C73.4,79.9 70.3,80.4 68.4,80.4 C66.5,80.4 63.8,79.9 62.8,78.4 C61.8,76.9 61.5,73.1 62.4,71.4 Z"/><path d="M79.4,64.4 C80.6,62.9 84.2,60.4 86.4,60.4 C88.6,60.4 90.7,62.2 92.4,64.4 C94.1,66.6 96.4,71.6 96.4,73.4 C96.4,75.2 94.4,75.6 92.4,75.4 C90.4,75.2 86.6,73.4 84.4,72.4 C82.2,71.4 80.2,70.7 79.4,69.4 C78.6,68.1 78.2,65.9 79.4,64.4 Z"/><path d="M81.4,82.4 C82.4,80.4 84.7,78.7 86.4,78.4 C88.1,78.1 90.4,78.4 91.4,80.4 C92.4,82.4 94.2,88.7 92.4,90.4 C90.6,92.1 82.2,91.7 80.4,90.4 C78.6,89.1 80.4,84.4 81.4,82.4 Z"/></clipPath>
<g clip-path="url(#nest4)"><g filter="url(#warp)" opacity="0.75"><rect x="-5" y="-5" width="109.2" height="98.2" fill="url(#cellE)"/></g>
<g filter="url(#blur2)">
<path d="M36.4,32.4 C38.7,30.4 46.7,30.7 50.4,32.4 C54.1,34.1 59.1,39.7 58.4,42.4 C57.7,45.1 50.1,48.1 46.4,48.4 C42.7,48.7 38.1,47.1 36.4,44.4 C34.7,41.7 34.1,34.4 36.4,32.4 Z" fill="#a55d2a" opacity="0.45"/>
<path d="M28.4,48.4 C30.1,46.7 41.1,46.7 44.4,48.4 C47.7,50.1 50.1,56.7 48.4,58.4 C46.7,60.1 37.7,60.1 34.4,58.4 C31.1,56.7 26.7,50.1 28.4,48.4 Z" fill="#a55d2a" opacity="0.4"/>
<path d="M0.4,28.4 C2.1,24.1 7.7,19.7 10.4,22.4 C13.1,25.1 17.1,38.4 16.4,44.4 C15.7,50.4 9.1,57.7 6.4,58.4 C3.7,59.1 1.4,53.4 0.4,48.4 C-0.6,43.4 -1.3,32.7 0.4,28.4 Z" fill="#a55d2a" opacity="0.3"/>
<path d="M10.4,14.4 C13.7,11.7 25.7,9.1 30.4,10.4 C35.1,11.7 39.7,18.7 38.4,22.4 C37.1,26.1 27.1,31.7 22.4,32.4 C17.7,33.1 12.4,29.4 10.4,26.4 C8.4,23.4 7.1,17.1 10.4,14.4 Z" fill="#ead2bd" opacity="0.5"/>
<path d="M58.4,8.4 C60.1,6.7 68.2,6.9 70.4,8.4 C72.6,9.9 73.1,15.7 71.4,17.4 C69.7,19.1 62.6,19.9 60.4,18.4 C58.2,16.9 56.7,10.1 58.4,8.4 Z" fill="#ead2bd" opacity="0.5"/>
</g></g>
</g>
<g transform="translate(416.30,225.60)" clip-path="url(#clipB4)">
<g filter="url(#warp)">
<rect x="-5" y="-5" width="113.7" height="98.2" fill="url(#cellA)"/>
</g>
<g filter="url(#blur2)">
<path d="M23.6,22.4 C28.3,19.1 44.9,15.7 49.6,18.4 C54.3,21.1 53.9,33.7 51.6,38.4 C49.3,43.1 40.6,46.4 35.6,46.4 C30.6,46.4 23.6,42.4 21.6,38.4 C19.6,34.4 18.9,25.7 23.6,22.4 Z" fill="#84401a" opacity="0.4"/>
<path d="M29.6,0.4 C34.6,-1.3 60.6,-1.3 65.6,0.4 C70.6,2.1 64.6,8.7 59.6,10.4 C54.6,12.1 40.6,12.1 35.6,10.4 C30.6,8.7 24.6,2.1 29.6,0.4 Z" fill="#84401a" opacity="0.35"/>
<path d="M39.6,56.4 C42.9,55.1 53.6,55.4 59.6,58.4 C65.6,61.4 75.6,71.1 75.6,74.4 C75.6,77.7 65.6,79.7 59.6,78.4 C53.6,77.1 42.9,70.1 39.6,66.4 C36.3,62.7 36.3,57.7 39.6,56.4 Z" fill="#84401a" opacity="0.3"/>
</g>
<g filter="url(#blur1)">
<path d="M-2.4,6.0 C-0.7,4.8 4.5,8.5 7.6,10.4 C10.7,12.3 15.6,15.4 16.4,17.2 C17.2,19.0 14.5,20.8 12.4,21.2 C10.3,21.6 6.1,20.2 3.6,19.6 C1.1,19.0 -1.4,19.9 -2.4,17.6 C-3.4,15.3 -4.1,7.2 -2.4,6.0 Z" fill="#e9e5e9" stroke="#9a5526" stroke-width="0.7"/>
<path d="M-2.4,45.4 C-0.4,43.6 5.9,46.9 9.6,48.4 C13.3,49.9 16.3,52.1 19.6,54.4 C22.9,56.7 26.3,60.0 29.6,62.4 C32.9,64.8 35.9,66.4 39.6,68.8 C43.3,71.2 47.6,74.6 51.6,76.8 C55.6,79.0 58.9,81.3 63.6,82.0 C68.3,82.7 75.0,82.2 79.6,81.2 C84.2,80.2 86.9,78.0 91.2,76.0 C95.5,74.0 103.2,66.5 105.6,69.2 C108.0,71.9 119.1,88.5 105.6,92.4 C92.1,96.3 38.9,94.7 24.6,92.4 C10.3,90.1 21.4,82.4 19.6,78.4 C17.8,74.4 15.6,71.1 13.6,68.4 C11.6,65.7 10.3,63.9 7.6,62.4 C4.9,60.9 -0.7,62.2 -2.4,59.4 C-4.1,56.6 -4.4,47.2 -2.4,45.4 Z" fill="#e9e5e9" stroke="#9a5526" stroke-width="0.7"/>
<path d="M90.6,-3.6 C88.6,-1.9 93.7,3.2 93.6,6.4 C93.5,9.6 89.7,13.0 90.0,15.4 C90.3,17.8 94.0,18.6 95.6,20.8 C97.2,23.0 98.8,25.5 99.6,28.4 C100.4,31.3 99.6,36.4 100.6,38.4 C101.6,40.4 104.8,47.4 105.6,40.4 C106.4,33.4 108.1,3.7 105.6,-3.6 C103.1,-10.9 92.6,-5.3 90.6,-3.6 Z" fill="#e9e5e9" stroke="#9a5526" stroke-width="0.7"/>
<path d="M51.2,25.4 C51.9,23.4 56.5,21.4 59.6,20.8 C62.7,20.2 66.9,20.7 70.0,21.6 C73.1,22.5 75.7,24.8 78.0,26.0 C80.3,27.2 84.4,27.7 84.0,28.8 C83.6,29.9 78.8,31.4 75.6,32.4 C72.4,33.4 67.9,34.7 64.6,34.8 C61.3,34.9 57.8,34.4 55.6,32.8 C53.4,31.2 50.5,27.4 51.2,25.4 Z" fill="#e9e5e9" stroke="#9a5526" stroke-width="0.7"/>
</g>
<g filter="url(#blur04)" fill="none" stroke="#ecd9c8" stroke-width="0.9" stroke-linecap="round">
<path d="M25.6,24.4 C27.3,24.6 32.3,24.3 35.6,25.6 C38.9,26.9 43.2,30.3 45.2,32.4 C47.2,34.5 47.2,37.4 47.6,38.4 "/>
<path d="M47.6,38.4 C49.6,40.1 54.9,44.7 59.6,48.4 C64.3,52.1 71.9,57.0 75.6,60.4 C79.3,63.8 80.9,67.4 82.0,68.8 "/>
</g>
<g fill="#9aa0c4" opacity="0.55" filter="url(#blur04)"><ellipse cx="87.8" cy="83.4" rx="1.7" ry="0.7" transform="rotate(50 87.8 83.4)"/><ellipse cx="99.1" cy="18.5" rx="1.8" ry="0.7" transform="rotate(19 99.1 18.5)"/><ellipse cx="103.3" cy="12.5" rx="2.2" ry="0.7" transform="rotate(47 103.3 12.5)"/><ellipse cx="95.4" cy="1.6" rx="1.6" ry="0.7" transform="rotate(18 95.4 1.6)"/><ellipse cx="99.3" cy="5.1" rx="1.3" ry="0.7" transform="rotate(32 99.3 5.1)"/><ellipse cx="13.4" cy="58.1" rx="2.3" ry="0.7" transform="rotate(35 13.4 58.1)"/><ellipse cx="102.7" cy="1.7" rx="2.1" ry="0.7" transform="rotate(45 102.7 1.7)"/><ellipse cx="102.3" cy="80.3" rx="1.2" ry="0.7" transform="rotate(48 102.3 80.3)"/><ellipse cx="75.9" cy="84.7" rx="1.9" ry="0.7" transform="rotate(40 75.9 84.7)"/><ellipse cx="94.1" cy="4.4" rx="2.4" ry="0.7" transform="rotate(34 94.1 4.4)"/><ellipse cx="96.0" cy="8.2" rx="2.1" ry="0.7" transform="rotate(31 96.0 8.2)"/><ellipse cx="102.4" cy="72.9" rx="1.8" ry="0.7" transform="rotate(36 102.4 72.9)"/><ellipse cx="103.0" cy="8.7" rx="2.3" ry="0.7" transform="rotate(16 103.0 8.7)"/><ellipse cx="47.2" cy="72.4" rx="2.3" ry="0.7" transform="rotate(16 47.2 72.4)"/><ellipse cx="85.0" cy="86.0" rx="1.7" ry="0.7" transform="rotate(15 85.0 86.0)"/><ellipse cx="62.7" cy="79.4" rx="2.0" ry="0.7" transform="rotate(24 62.7 79.4)"/><ellipse cx="32.9" cy="70.8" rx="2.3" ry="0.7" transform="rotate(41 32.9 70.8)"/><ellipse cx="65.9" cy="29.5" rx="1.3" ry="0.7" transform="rotate(20 65.9 29.5)"/><ellipse cx="3.6" cy="50.2" rx="1.3" ry="0.7" transform="rotate(46 3.6 50.2)"/><ellipse cx="7.4" cy="58.1" rx="1.6" ry="0.7" transform="rotate(47 7.4 58.1)"/><ellipse cx="50.4" cy="75.1" rx="2.0" ry="0.7" transform="rotate(30 50.4 75.1)"/><ellipse cx="83.3" cy="87.7" rx="1.6" ry="0.7" transform="rotate(29 83.3 87.7)"/><ellipse cx="63.4" cy="84.6" rx="1.2" ry="0.7" transform="rotate(40 63.4 84.6)"/><ellipse cx="1.9" cy="52.3" rx="2.1" ry="0.7" transform="rotate(23 1.9 52.3)"/><ellipse cx="66.8" cy="26.7" rx="1.6" ry="0.7" transform="rotate(16 66.8 26.7)"/><ellipse cx="33.8" cy="66.4" rx="2.1" ry="0.7" transform="rotate(18 33.8 66.4)"/><ellipse cx="67.0" cy="26.2" rx="2.3" ry="0.7" transform="rotate(24 67.0 26.2)"/><ellipse cx="48.8" cy="69.7" rx="1.5" ry="0.7" transform="rotate(21 48.8 69.7)"/><ellipse cx="33.3" cy="69.1" rx="2.3" ry="0.7" transform="rotate(37 33.3 69.1)"/><ellipse cx="59.3" cy="81.4" rx="1.3" ry="0.7" transform="rotate(16 59.3 81.4)"/><ellipse cx="60.8" cy="78.4" rx="1.4" ry="0.7" transform="rotate(39 60.8 78.4)"/><ellipse cx="26.9" cy="63.8" rx="1.5" ry="0.7" transform="rotate(43 26.9 63.8)"/><ellipse cx="77.7" cy="84.2" rx="1.5" ry="0.7" transform="rotate(21 77.7 84.2)"/><ellipse cx="60.3" cy="74.3" rx="1.3" ry="0.7" transform="rotate(20 60.3 74.3)"/><ellipse cx="6.6" cy="14.8" rx="2.1" ry="0.7" transform="rotate(39 6.6 14.8)"/><ellipse cx="29.7" cy="71.2" rx="2.2" ry="0.7" transform="rotate(25 29.7 71.2)"/><ellipse cx="44.3" cy="77.7" rx="1.6" ry="0.7" transform="rotate(49 44.3 77.7)"/><ellipse cx="8.8" cy="51.7" rx="1.8" ry="0.7" transform="rotate(20 8.8 51.7)"/><ellipse cx="45.8" cy="74.6" rx="2.4" ry="0.7" transform="rotate(29 45.8 74.6)"/><ellipse cx="93.6" cy="17.0" rx="1.8" ry="0.7" transform="rotate(19 93.6 17.0)"/><ellipse cx="68.1" cy="85.0" rx="1.5" ry="0.7" transform="rotate(19 68.1 85.0)"/><ellipse cx="100.1" cy="74.0" rx="1.5" ry="0.7" transform="rotate(43 100.1 74.0)"/><ellipse cx="21.9" cy="65.7" rx="1.8" ry="0.7" transform="rotate(22 21.9 65.7)"/><ellipse cx="62.6" cy="77.7" rx="1.5" ry="0.7" transform="rotate(47 62.6 77.7)"/><ellipse cx="1.3" cy="51.4" rx="1.5" ry="0.7" transform="rotate(23 1.3 51.4)"/><ellipse cx="63.8" cy="26.4" rx="1.9" ry="0.7" transform="rotate(25 63.8 26.4)"/><ellipse cx="98.8" cy="5.9" rx="1.7" ry="0.7" transform="rotate(49 98.8 5.9)"/><ellipse cx="96.1" cy="2.6" rx="1.2" ry="0.7" transform="rotate(35 96.1 2.6)"/><ellipse cx="73.9" cy="86.8" rx="2.2" ry="0.7" transform="rotate(28 73.9 86.8)"/><ellipse cx="69.0" cy="81.0" rx="1.6" ry="0.7" transform="rotate(20 69.0 81.0)"/><ellipse cx="97.7" cy="82.6" rx="1.6" ry="0.7" transform="rotate(27 97.7 82.6)"/><ellipse cx="98.9" cy="86.6" rx="2.4" ry="0.7" transform="rotate(25 98.9 86.6)"/><ellipse cx="91.6" cy="86.0" rx="1.8" ry="0.7" transform="rotate(40 91.6 86.0)"/><ellipse cx="33.8" cy="70.1" rx="1.8" ry="0.7" transform="rotate(18 33.8 70.1)"/><ellipse cx="99.4" cy="12.7" rx="1.5" ry="0.7" transform="rotate(28 99.4 12.7)"/><ellipse cx="35.4" cy="70.3" rx="2.0" ry="0.7" transform="rotate(38 35.4 70.3)"/><ellipse cx="64.8" cy="80.1" rx="1.9" ry="0.7" transform="rotate(20 64.8 80.1)"/><ellipse cx="100.2" cy="83.8" rx="1.9" ry="0.7" transform="rotate(23 100.2 83.8)"/><ellipse cx="19.8" cy="62.7" rx="1.5" ry="0.7" transform="rotate(23 19.8 62.7)"/><ellipse cx="53.5" cy="75.7" rx="1.4" ry="0.7" transform="rotate(26 53.5 75.7)"/><ellipse cx="52.7" cy="71.2" rx="1.9" ry="0.7" transform="rotate(48 52.7 71.2)"/><ellipse cx="93.8" cy="7.4" rx="2.3" ry="0.7" transform="rotate(36 93.8 7.4)"/><ellipse cx="51.0" cy="79.1" rx="2.2" ry="0.7" transform="rotate(32 51.0 79.1)"/><ellipse cx="20.5" cy="60.2" rx="2.3" ry="0.7" transform="rotate(18 20.5 60.2)"/><ellipse cx="79.6" cy="84.3" rx="1.4" ry="0.7" transform="rotate(47 79.6 84.3)"/><ellipse cx="96.4" cy="17.4" rx="1.5" ry="0.7" transform="rotate(39 96.4 17.4)"/><ellipse cx="48.5" cy="73.9" rx="2.1" ry="0.7" transform="rotate(27 48.5 73.9)"/><ellipse cx="65.2" cy="81.9" rx="1.8" ry="0.7" transform="rotate(15 65.2 81.9)"/><ellipse cx="68.4" cy="83.7" rx="1.6" ry="0.7" transform="rotate(47 68.4 83.7)"/><ellipse cx="63.4" cy="85.5" rx="1.3" ry="0.7" transform="rotate(48 63.4 85.5)"/><ellipse cx="100.9" cy="1.7" rx="2.1" ry="0.7" transform="rotate(22 100.9 1.7)"/><ellipse cx="94.4" cy="86.5" rx="2.0" ry="0.7" transform="rotate(25 94.4 86.5)"/><ellipse cx="2.7" cy="56.5" rx="2.3" ry="0.7" transform="rotate(34 2.7 56.5)"/><ellipse cx="49.5" cy="70.4" rx="1.6" ry="0.7" transform="rotate(30 49.5 70.4)"/><ellipse cx="0.2" cy="12.2" rx="2.2" ry="0.7" transform="rotate(38 0.2 12.2)"/><ellipse cx="86.7" cy="84.8" rx="2.1" ry="0.7" transform="rotate(33 86.7 84.8)"/><ellipse cx="5.8" cy="59.4" rx="1.7" ry="0.7" transform="rotate(33 5.8 59.4)"/><ellipse cx="29.8" cy="64.4" rx="1.3" ry="0.7" transform="rotate(28 29.8 64.4)"/><ellipse cx="68.9" cy="83.6" rx="2.2" ry="0.7" transform="rotate(50 68.9 83.6)"/><ellipse cx="42.0" cy="72.2" rx="1.8" ry="0.7" transform="rotate(48 42.0 72.2)"/><ellipse cx="64.6" cy="25.6" rx="2.1" ry="0.7" transform="rotate(17 64.6 25.6)"/><ellipse cx="54.8" cy="72.8" rx="1.4" ry="0.7" transform="rotate(35 54.8 72.8)"/><ellipse cx="48.0" cy="69.9" rx="1.7" ry="0.7" transform="rotate(30 48.0 69.9)"/><ellipse cx="28.0" cy="70.4" rx="1.7" ry="0.7" transform="rotate(28 28.0 70.4)"/><ellipse cx="94.1" cy="88.0" rx="2.1" ry="0.7" transform="rotate(47 94.1 88.0)"/><ellipse cx="92.6" cy="84.4" rx="1.8" ry="0.7" transform="rotate(18 92.6 84.4)"/><ellipse cx="98.0" cy="78.7" rx="1.5" ry="0.7" transform="rotate(20 98.0 78.7)"/><ellipse cx="37.7" cy="73.7" rx="1.4" ry="0.7" transform="rotate(46 37.7 73.7)"/><ellipse cx="84.6" cy="84.7" rx="2.3" ry="0.7" transform="rotate(28 84.6 84.7)"/><ellipse cx="18.2" cy="60.5" rx="2.1" ry="0.7" transform="rotate(25 18.2 60.5)"/><ellipse cx="64.2" cy="81.1" rx="2.0" ry="0.7" transform="rotate(34 64.2 81.1)"/><ellipse cx="63.2" cy="76.2" rx="1.8" ry="0.7" transform="rotate(21 63.2 76.2)"/><ellipse cx="18.3" cy="55.5" rx="1.3" ry="0.7" transform="rotate(43 18.3 55.5)"/><ellipse cx="90.4" cy="82.0" rx="2.2" ry="0.7" transform="rotate(28 90.4 82.0)"/><ellipse cx="54.4" cy="75.5" rx="1.9" ry="0.7" transform="rotate(22 54.4 75.5)"/><ellipse cx="48.8" cy="71.4" rx="1.7" ry="0.7" transform="rotate(40 48.8 71.4)"/><ellipse cx="95.8" cy="15.6" rx="1.3" ry="0.7" transform="rotate(48 95.8 15.6)"/><ellipse cx="71.8" cy="82.8" rx="1.7" ry="0.7" transform="rotate(31 71.8 82.8)"/><ellipse cx="57.2" cy="73.5" rx="1.2" ry="0.7" transform="rotate(32 57.2 73.5)"/><ellipse cx="49.2" cy="79.5" rx="2.2" ry="0.7" transform="rotate(36 49.2 79.5)"/><ellipse cx="97.8" cy="83.0" rx="1.3" ry="0.7" transform="rotate(30 97.8 83.0)"/><ellipse cx="68.7" cy="26.4" rx="2.0" ry="0.7" transform="rotate(29 68.7 26.4)"/><ellipse cx="19.2" cy="63.3" rx="1.4" ry="0.7" transform="rotate(20 19.2 63.3)"/><ellipse cx="10.0" cy="60.8" rx="1.2" ry="0.7" transform="rotate(30 10.0 60.8)"/></g>
</g>
</g>
<g id="panelC">
<text x="0.8" y="344.3" font-size="12.8" font-weight="bold" stroke="#111" stroke-width="0.3">C</text>
<rect x="37.40" y="337.80" width="481.40" height="129.60" fill="#fff" stroke="#7e7e7e" stroke-width="1.05"/>
<line x1="35.60" y1="466.80" x2="37.40" y2="466.80" stroke="#555" stroke-width="0.7"/>
<text x="34.10" y="470.30" font-size="9.7" text-anchor="end" textLength="5.0" lengthAdjust="spacingAndGlyphs">0</text>
<line x1="35.60" y1="441.50" x2="37.40" y2="441.50" stroke="#555" stroke-width="0.7"/>
<text x="34.10" y="445.00" font-size="9.7" text-anchor="end" textLength="9.9" lengthAdjust="spacingAndGlyphs">50</text>
<line x1="35.60" y1="416.20" x2="37.40" y2="416.20" stroke="#555" stroke-width="0.7"/>
<text x="34.10" y="419.70" font-size="9.7" text-anchor="end" textLength="14.8" lengthAdjust="spacingAndGlyphs">100</text>
<line x1="35.60" y1="390.90" x2="37.40" y2="390.90" stroke="#555" stroke-width="0.7"/>
<text x="34.10" y="394.40" font-size="9.7" text-anchor="end" textLength="14.8" lengthAdjust="spacingAndGlyphs">150</text>
<line x1="35.60" y1="365.60" x2="37.40" y2="365.60" stroke="#555" stroke-width="0.7"/>
<text x="34.10" y="369.10" font-size="9.7" text-anchor="end" textLength="14.8" lengthAdjust="spacingAndGlyphs">200</text>
<line x1="35.60" y1="340.30" x2="37.40" y2="340.30" stroke="#555" stroke-width="0.7"/>
<text x="34.10" y="343.80" font-size="9.7" text-anchor="end" textLength="14.8" lengthAdjust="spacingAndGlyphs">250</text>
<text transform="translate(11.90,403.30) rotate(-90)" font-size="9.1" text-anchor="middle">Membrane OD</text>
<line x1="39.60" y1="467.40" x2="39.60" y2="469.10" stroke="#555" stroke-width="0.6"/>
<line x1="39.60" y1="426.73" x2="39.60" y2="466.29" stroke="#5c5c5c" stroke-width="0.88"/>
<path d="M39.60,358.01 C40.09,366.94 41.08,375.37 42.06,382.80 C41.32,396.16 40.22,413.08 39.60,427.33 C38.98,413.08 37.88,396.16 37.14,382.80 C38.12,375.37 39.11,366.94 39.60,358.01 Z" fill="#d6d6d6" stroke="#686868" stroke-width="0.75"/>
<line x1="37.14" y1="382.80" x2="42.06" y2="382.80" stroke="#2a2a2a" stroke-width="0.9"/>
<line x1="44.52" y1="467.40" x2="44.52" y2="469.10" stroke="#555" stroke-width="0.6"/>
<line x1="44.52" y1="429.77" x2="44.52" y2="464.27" stroke="#5c5c5c" stroke-width="0.88"/>
<path d="M44.52,343.84 C45.01,358.96 46.00,373.24 46.98,385.84 C46.24,399.20 45.14,416.12 44.52,430.37 C43.91,416.12 42.80,399.20 42.06,385.84 C43.04,373.24 44.03,358.96 44.52,343.84 Z" fill="#d6d6d6" stroke="#686868" stroke-width="0.75"/>
<line x1="42.06" y1="385.84" x2="46.98" y2="385.84" stroke="#2a2a2a" stroke-width="0.9"/>
<line x1="49.44" y1="467.40" x2="49.44" y2="469.10" stroke="#555" stroke-width="0.6"/>
<line x1="49.44" y1="437.86" x2="49.44" y2="459.72" stroke="#5c5c5c" stroke-width="0.88"/>
<path d="M49.44,367.62 C51.28,367.62 51.41,380.78 51.90,393.94 C51.16,407.29 50.05,424.22 49.44,438.46 C48.82,424.22 47.72,407.29 46.98,393.94 C47.47,380.78 47.59,367.62 49.44,367.62 Z" fill="#d6d6d6" stroke="#686868" stroke-width="0.75"/>
<line x1="46.98" y1="393.94" x2="51.90" y2="393.94" stroke="#2a2a2a" stroke-width="0.9"/>
<line x1="54.36" y1="467.40" x2="54.36" y2="469.10" stroke="#555" stroke-width="0.6"/>
<line x1="54.36" y1="443.43" x2="54.36" y2="465.28" stroke="#5c5c5c" stroke-width="0.88"/>
<path d="M54.36,363.07 C54.85,376.19 55.84,388.57 56.82,399.50 C56.08,412.86 54.98,429.78 54.36,444.03 C53.74,429.78 52.64,412.86 51.90,399.50 C52.88,388.57 53.87,376.19 54.36,363.07 Z" fill="#d6d6d6" stroke="#686868" stroke-width="0.75"/>
<line x1="51.90" y1="399.50" x2="56.82" y2="399.50" stroke="#2a2a2a" stroke-width="0.9"/>
<line x1="59.28" y1="467.40" x2="59.28" y2="469.10" stroke="#555" stroke-width="0.6"/>
<line x1="59.28" y1="443.43" x2="59.28" y2="465.28" stroke="#5c5c5c" stroke-width="0.88"/>
<path d="M59.28,357.00 C59.77,372.30 60.76,386.75 61.74,399.50 C61.00,412.86 59.90,429.78 59.28,444.03 C58.66,429.78 57.56,412.86 56.82,399.50 C57.80,386.75 58.79,372.30 59.28,357.00 Z" fill="#d6d6d6" stroke="#686868" stroke-width="0.75"/>
<line x1="56.82" y1="399.50" x2="61.74" y2="399.50" stroke="#2a2a2a" stroke-width="0.9"/>
<line x1="64.20" y1="467.40" x2="64.20" y2="469.10" stroke="#555" stroke-width="0.6"/>
<line x1="64.20" y1="444.44" x2="64.20" y2="457.69" stroke="#5c5c5c" stroke-width="0.88"/>
<path d="M64.20,378.25 L66.05,378.25 L66.66,400.51 C65.92,413.87 64.81,430.79 64.20,445.04 C63.59,430.79 62.48,413.87 61.74,400.51 L62.36,378.25 L64.20,378.25 Z" fill="#d6d6d6" stroke="#686868" stroke-width="0.75"/>
<line x1="61.74" y1="400.51" x2="66.66" y2="400.51" stroke="#2a2a2a" stroke-width="0.9"/>
<line x1="69.12" y1="467.40" x2="69.12" y2="469.10" stroke="#555" stroke-width="0.6"/>
<line x1="69.12" y1="453.55" x2="69.12" y2="460.73" stroke="#5c5c5c" stroke-width="0.88"/>
<path d="M69.12,358.01 C69.61,376.59 70.60,394.14 71.58,409.62 C70.84,422.98 69.73,439.90 69.12,454.15 C68.51,439.90 67.40,422.98 66.66,409.62 C67.64,394.14 68.63,376.59 69.12,358.01 Z" fill="#d6d6d6" stroke="#686868" stroke-width="0.75"/>
<line x1="66.66" y1="409.62" x2="71.58" y2="409.62" stroke="#2a2a2a" stroke-width="0.9"/>
<line x1="74.04" y1="467.40" x2="74.04" y2="469.10" stroke="#555" stroke-width="0.6"/>
<line x1="74.04" y1="454.56" x2="74.04" y2="465.28" stroke="#5c5c5c" stroke-width="0.88"/>
<path d="M74.04,366.61 C74.53,382.46 75.52,397.43 76.50,410.63 C75.76,423.99 74.65,440.91 74.04,455.16 C73.42,440.91 72.32,423.99 71.58,410.63 C72.56,397.43 73.55,382.46 74.04,366.61 Z" fill="#d6d6d6" stroke="#686868" stroke-width="0.75"/>
<line x1="71.58" y1="410.63" x2="76.50" y2="410.63" stroke="#2a2a2a" stroke-width="0.9"/>
<line x1="78.96" y1="467.40" x2="78.96" y2="469.10" stroke="#555" stroke-width="0.6"/>
<line x1="78.96" y1="455.57" x2="78.96" y2="459.21" stroke="#5c5c5c" stroke-width="0.88"/>
<path d="M78.96,382.80 C79.45,393.19 80.44,402.99 81.42,411.65 C80.68,425.00 79.58,441.93 78.96,456.17 C78.35,441.93 77.24,425.00 76.50,411.65 C77.48,402.99 78.47,393.19 78.96,382.80 Z" fill="#d6d6d6" stroke="#686868" stroke-width="0.75"/>
<line x1="76.50" y1="411.65" x2="81.42" y2="411.65" stroke="#2a2a2a" stroke-width="0.9"/>
<line x1="83.88" y1="467.40" x2="83.88" y2="469.10" stroke="#555" stroke-width="0.6"/>
<line x1="83.88" y1="458.10" x2="83.88" y2="460.73" stroke="#5c5c5c" stroke-width="0.88"/>
<path d="M83.88,375.21 C84.37,389.24 85.36,402.49 86.34,414.18 C85.60,427.53 84.49,444.46 83.88,458.70 C83.27,444.46 82.16,427.53 81.42,414.18 C82.40,402.49 83.39,389.24 83.88,375.21 Z" fill="#d6d6d6" stroke="#686868" stroke-width="0.75"/>
<line x1="81.42" y1="414.18" x2="86.34" y2="414.18" stroke="#2a2a2a" stroke-width="0.9"/>
<line x1="88.80" y1="467.40" x2="88.80" y2="469.10" stroke="#555" stroke-width="0.6"/>
<path d="M88.80,370.66 C89.29,386.69 90.28,401.83 91.26,415.19 C90.52,428.24 89.42,444.78 88.80,458.70 C88.19,444.78 87.08,428.24 86.34,415.19 C87.32,401.83 88.31,386.69 88.80,370.66 Z" fill="#d6d6d6" stroke="#686868" stroke-width="0.75"/>
<line x1="86.34" y1="415.19" x2="91.26" y2="415.19" stroke="#2a2a2a" stroke-width="0.9"/>
<line x1="93.72" y1="467.40" x2="93.72" y2="469.10" stroke="#555" stroke-width="0.6"/>
<line x1="93.72" y1="460.13" x2="93.72" y2="465.28" stroke="#5c5c5c" stroke-width="0.88"/>
<path d="M93.72,380.27 C94.21,393.21 95.20,405.42 96.18,416.20 C95.44,429.56 94.33,446.48 93.72,460.73 C93.11,446.48 92.00,429.56 91.26,416.20 C92.24,405.42 93.23,393.21 93.72,380.27 Z" fill="#d6d6d6" stroke="#686868" stroke-width="0.75"/>
<line x1="91.26" y1="416.20" x2="96.18" y2="416.20" stroke="#2a2a2a" stroke-width="0.9"/>
<line x1="98.64" y1="467.40" x2="98.64" y2="469.10" stroke="#555" stroke-width="0.6"/>
<line x1="98.64" y1="359.53" x2="98.64" y2="371.16" stroke="#5c5c5c" stroke-width="0.88"/>
<line x1="98.64" y1="461.65" x2="98.64" y2="465.28" stroke="#5c5c5c" stroke-width="0.88"/>
<path d="M98.64,370.56 C99.13,387.54 100.12,403.57 101.10,417.72 C100.36,431.08 99.25,448.00 98.64,462.25 C98.03,448.00 96.92,431.08 96.18,417.72 C97.16,403.57 98.15,387.54 98.64,370.56 Z" fill="#d6d6d6" stroke="#686868" stroke-width="0.75"/>
<line x1="96.18" y1="417.72" x2="101.10" y2="417.72" stroke="#2a2a2a" stroke-width="0.9"/>
<line x1="103.56" y1="467.40" x2="103.56" y2="469.10" stroke="#555" stroke-width="0.6"/>
<line x1="103.56" y1="372.68" x2="103.56" y2="373.59" stroke="#5c5c5c" stroke-width="0.88"/>
<line x1="103.56" y1="463.16" x2="103.56" y2="464.27" stroke="#5c5c5c" stroke-width="0.88"/>
<path d="M103.56,372.99 C104.05,389.64 105.04,405.36 106.02,419.24 C105.28,432.59 104.17,449.52 103.56,463.76 C102.95,449.52 101.84,432.59 101.10,419.24 C102.08,405.36 103.07,389.64 103.56,372.99 Z" fill="#d6d6d6" stroke="#686868" stroke-width="0.75"/>
<line x1="101.10" y1="419.24" x2="106.02" y2="419.24" stroke="#2a2a2a" stroke-width="0.9"/>
<line x1="108.48" y1="467.40" x2="108.48" y2="469.10" stroke="#555" stroke-width="0.6"/>
<path d="M108.48,385.84 C108.97,397.50 109.96,408.51 110.94,418.22 C110.20,431.58 109.09,448.50 108.48,462.75 C107.86,448.50 106.76,431.58 106.02,418.22 C107.00,408.51 107.99,397.50 108.48,385.84 Z" fill="#d6d6d6" stroke="#686868" stroke-width="0.75"/>
<line x1="106.02" y1="418.22" x2="110.94" y2="418.22" stroke="#2a2a2a" stroke-width="0.9"/>
<line x1="113.40" y1="467.40" x2="113.40" y2="469.10" stroke="#555" stroke-width="0.6"/>
<line x1="113.40" y1="371.67" x2="113.40" y2="374.40" stroke="#5c5c5c" stroke-width="0.88"/>
<path d="M113.40,373.80 C113.89,390.34 114.88,405.96 115.86,419.74 C115.12,431.13 114.02,445.55 113.40,457.69 C112.79,445.55 111.68,431.13 110.94,419.74 C111.92,405.96 112.91,390.34 113.40,373.80 Z" fill="#d6d6d6" stroke="#686868" stroke-width="0.75"/>
<line x1="110.94" y1="419.74" x2="115.86" y2="419.74" stroke="#2a2a2a" stroke-width="0.9"/>
<line x1="118.32" y1="467.40" x2="118.32" y2="469.10" stroke="#555" stroke-width="0.6"/>
<path d="M118.32,377.74 C118.81,393.59 119.80,408.56 120.78,421.77 C120.04,434.52 118.93,450.67 118.32,464.27 C117.70,450.67 116.60,434.52 115.86,421.77 C116.84,408.56 117.83,393.59 118.32,377.74 Z" fill="#d6d6d6" stroke="#686868" stroke-width="0.75"/>
<line x1="115.86" y1="421.77" x2="120.78" y2="421.77" stroke="#2a2a2a" stroke-width="0.9"/>
<line x1="123.24" y1="467.40" x2="123.24" y2="469.10" stroke="#555" stroke-width="0.6"/>
<line x1="123.24" y1="372.68" x2="123.24" y2="377.64" stroke="#5c5c5c" stroke-width="0.88"/>
<path d="M123.24,377.04 C123.73,393.14 124.72,408.35 125.70,421.77 C124.96,434.82 123.86,451.36 123.24,465.28 C122.63,451.36 121.52,434.82 120.78,421.77 C121.76,408.35 122.75,393.14 123.24,377.04 Z" fill="#d6d6d6" stroke="#686868" stroke-width="0.75"/>
<line x1="120.78" y1="421.77" x2="125.70" y2="421.77" stroke="#2a2a2a" stroke-width="0.9"/>
<line x1="128.16" y1="467.40" x2="128.16" y2="469.10" stroke="#555" stroke-width="0.6"/>
<line x1="128.16" y1="367.12" x2="128.16" y2="377.64" stroke="#5c5c5c" stroke-width="0.88"/>
<path d="M128.16,377.04 C128.65,393.14 129.64,408.35 130.62,421.77 C129.88,434.52 128.78,450.67 128.16,464.27 C127.55,450.67 126.44,434.52 125.70,421.77 C126.68,408.35 127.67,393.14 128.16,377.04 Z" fill="#d6d6d6" stroke="#686868" stroke-width="0.75"/>
<line x1="125.70" y1="421.77" x2="130.62" y2="421.77" stroke="#2a2a2a" stroke-width="0.9"/>
<line x1="133.08" y1="467.40" x2="133.08" y2="469.10" stroke="#555" stroke-width="0.6"/>
<line x1="133.08" y1="367.12" x2="133.08" y2="378.45" stroke="#5c5c5c" stroke-width="0.88"/>
<path d="M133.08,377.85 C133.57,393.84 134.56,408.94 135.54,422.27 C134.80,433.51 133.70,447.73 133.08,459.72 C132.47,447.73 131.36,433.51 130.62,422.27 C131.60,408.94 132.59,393.84 133.08,377.85 Z" fill="#d6d6d6" stroke="#686868" stroke-width="0.75"/>
<line x1="130.62" y1="422.27" x2="135.54" y2="422.27" stroke="#2a2a2a" stroke-width="0.9"/>
<line x1="138.00" y1="467.40" x2="138.00" y2="469.10" stroke="#555" stroke-width="0.6"/>
<line x1="138.00" y1="370.66" x2="138.00" y2="380.06" stroke="#5c5c5c" stroke-width="0.88"/>
<path d="M138.00,379.46 C138.49,395.24 139.48,410.14 140.46,423.28 C139.72,433.91 138.62,447.37 138.00,458.70 C137.38,447.37 136.28,433.91 135.54,423.28 C136.52,410.14 137.51,395.24 138.00,379.46 Z" fill="#d6d6d6" stroke="#686868" stroke-width="0.75"/>
<line x1="135.54" y1="423.28" x2="140.46" y2="423.28" stroke="#2a2a2a" stroke-width="0.9"/>
<line x1="142.92" y1="467.40" x2="142.92" y2="469.10" stroke="#555" stroke-width="0.6"/>
<line x1="142.92" y1="359.02" x2="142.92" y2="381.68" stroke="#5c5c5c" stroke-width="0.88"/>
<path d="M142.92,381.08 C143.41,396.64 144.40,411.33 145.38,424.30 C144.89,435.10 144.40,445.90 144.27,455.16 L144.27,461.74 L141.57,461.74 L141.57,455.16 C141.44,445.90 140.95,435.10 140.46,424.30 C141.44,411.33 142.43,396.64 142.92,381.08 Z" fill="#d6d6d6" stroke="#686868" stroke-width="0.75"/>
<line x1="140.46" y1="424.30" x2="145.38" y2="424.30" stroke="#2a2a2a" stroke-width="0.9"/>
<line x1="147.84" y1="467.40" x2="147.84" y2="469.10" stroke="#555" stroke-width="0.6"/>
<line x1="147.84" y1="376.73" x2="147.84" y2="384.11" stroke="#5c5c5c" stroke-width="0.88"/>
<path d="M147.84,383.51 C148.33,398.74 149.32,413.12 150.30,425.81 C149.56,437.35 148.46,451.96 147.84,464.27 C147.22,451.96 146.12,437.35 145.38,425.81 C146.36,413.12 147.35,398.74 147.84,383.51 Z" fill="#d6d6d6" stroke="#686868" stroke-width="0.75"/>
<line x1="145.38" y1="425.81" x2="150.30" y2="425.81" stroke="#2a2a2a" stroke-width="0.9"/>
<line x1="152.76" y1="467.40" x2="152.76" y2="469.10" stroke="#555" stroke-width="0.6"/>
<line x1="152.76" y1="374.71" x2="152.76" y2="384.92" stroke="#5c5c5c" stroke-width="0.88"/>
<path d="M152.76,384.32 C153.25,399.44 154.24,413.72 155.22,426.32 C154.48,436.04 153.38,448.34 152.76,458.70 C152.14,448.34 151.04,436.04 150.30,426.32 C151.28,413.72 152.27,399.44 152.76,384.32 Z" fill="#d6d6d6" stroke="#686868" stroke-width="0.75"/>
<line x1="150.30" y1="426.32" x2="155.22" y2="426.32" stroke="#2a2a2a" stroke-width="0.9"/>
<line x1="157.68" y1="467.40" x2="157.68" y2="469.10" stroke="#555" stroke-width="0.6"/>
<line x1="157.68" y1="364.08" x2="157.68" y2="384.92" stroke="#5c5c5c" stroke-width="0.88"/>
<path d="M157.68,384.32 C158.17,399.44 159.16,413.72 160.14,426.32 C159.40,436.04 158.30,448.34 157.68,458.70 C157.06,448.34 155.96,436.04 155.22,426.32 C156.20,413.72 157.19,399.44 157.68,384.32 Z" fill="#d6d6d6" stroke="#686868" stroke-width="0.75"/>
<line x1="155.22" y1="426.32" x2="160.14" y2="426.32" stroke="#2a2a2a" stroke-width="0.9"/>
<line x1="162.60" y1="467.40" x2="162.60" y2="469.10" stroke="#555" stroke-width="0.6"/>
<line x1="162.60" y1="375.72" x2="162.60" y2="384.92" stroke="#5c5c5c" stroke-width="0.88"/>
<path d="M162.60,384.32 C163.09,399.44 164.08,413.72 165.06,426.32 C164.32,437.70 163.22,452.13 162.60,464.27 C161.98,452.13 160.88,437.70 160.14,426.32 C161.12,413.72 162.11,399.44 162.60,384.32 Z" fill="#d6d6d6" stroke="#686868" stroke-width="0.75"/>
<line x1="160.14" y1="426.32" x2="165.06" y2="426.32" stroke="#2a2a2a" stroke-width="0.9"/>
<line x1="167.52" y1="467.40" x2="167.52" y2="469.10" stroke="#555" stroke-width="0.6"/>
<line x1="167.52" y1="371.17" x2="167.52" y2="385.73" stroke="#5c5c5c" stroke-width="0.88"/>
<path d="M167.52,385.13 C168.01,400.14 169.00,414.32 169.98,426.83 C169.24,437.30 168.14,450.57 167.52,461.74 C166.91,450.57 165.80,437.30 165.06,426.83 C166.04,414.32 167.03,400.14 167.52,385.13 Z" fill="#d6d6d6" stroke="#686868" stroke-width="0.75"/>
<line x1="165.06" y1="426.83" x2="169.98" y2="426.83" stroke="#2a2a2a" stroke-width="0.9"/>
<line x1="172.44" y1="467.40" x2="172.44" y2="469.10" stroke="#555" stroke-width="0.6"/>
<line x1="172.44" y1="363.07" x2="172.44" y2="388.97" stroke="#5c5c5c" stroke-width="0.88"/>
<path d="M172.44,388.37 C172.93,402.94 173.92,416.71 174.90,428.85 C174.16,438.72 173.06,451.22 172.44,461.74 C171.82,451.22 170.72,438.72 169.98,428.85 C170.96,416.71 171.95,402.94 172.44,388.37 Z" fill="#d6d6d6" stroke="#686868" stroke-width="0.75"/>
<line x1="169.98" y1="428.85" x2="174.90" y2="428.85" stroke="#2a2a2a" stroke-width="0.9"/>
<line x1="177.36" y1="467.40" x2="177.36" y2="469.10" stroke="#555" stroke-width="0.6"/>
<path d="M177.36,403.55 C177.85,412.48 178.84,420.91 179.82,428.34 C179.08,434.42 177.97,442.11 177.36,448.58 C176.74,442.11 175.64,434.42 174.90,428.34 C175.88,420.91 176.87,412.48 177.36,403.55 Z" fill="#d6d6d6" stroke="#686868" stroke-width="0.75"/>
<line x1="174.90" y1="428.34" x2="179.82" y2="428.34" stroke="#2a2a2a" stroke-width="0.9"/>
<line x1="182.28" y1="467.40" x2="182.28" y2="469.10" stroke="#555" stroke-width="0.6"/>
<line x1="182.28" y1="370.66" x2="182.28" y2="388.97" stroke="#5c5c5c" stroke-width="0.88"/>
<path d="M182.28,388.37 C182.77,402.94 183.76,416.71 184.74,428.85 C184.00,438.72 182.90,451.22 182.28,461.74 C181.66,451.22 180.56,438.72 179.82,428.85 C180.80,416.71 181.79,402.94 182.28,388.37 Z" fill="#d6d6d6" stroke="#686868" stroke-width="0.75"/>
<line x1="179.82" y1="428.85" x2="184.74" y2="428.85" stroke="#2a2a2a" stroke-width="0.9"/>
<line x1="187.20" y1="467.40" x2="187.20" y2="469.10" stroke="#555" stroke-width="0.6"/>
<path d="M187.20,392.42 C187.68,406.05 188.66,418.78 189.66,429.86 C189.17,439.60 188.68,449.34 188.55,457.69 L188.55,464.27 L185.85,464.27 L185.85,457.69 C185.72,449.34 185.23,439.60 184.74,429.86 C185.74,418.78 186.72,406.05 187.20,392.42 Z" fill="#d6d6d6" stroke="#686868" stroke-width="0.75"/>
<line x1="184.74" y1="429.86" x2="189.66" y2="429.86" stroke="#2a2a2a" stroke-width="0.9"/>
<line x1="192.12" y1="467.40" x2="192.12" y2="469.10" stroke="#555" stroke-width="0.6"/>
<line x1="192.12" y1="371.67" x2="192.12" y2="392.21" stroke="#5c5c5c" stroke-width="0.88"/>
<path d="M192.12,391.61 C192.59,406.06 193.57,419.41 194.58,430.87 C194.09,439.73 193.60,448.58 193.47,456.17 L193.47,462.75 L190.77,462.75 L190.77,456.17 C190.64,448.58 190.15,439.73 189.66,430.87 C190.67,419.41 191.65,406.06 192.12,391.61 Z" fill="#d6d6d6" stroke="#686868" stroke-width="0.75"/>
<line x1="189.66" y1="430.87" x2="194.58" y2="430.87" stroke="#2a2a2a" stroke-width="0.9"/>
<line x1="197.04" y1="467.40" x2="197.04" y2="469.10" stroke="#555" stroke-width="0.6"/>
<line x1="197.04" y1="382.80" x2="197.04" y2="391.40" stroke="#5c5c5c" stroke-width="0.88"/>
<path d="M197.04,390.80 C197.52,405.28 198.49,418.73 199.50,430.37 C198.76,440.84 197.66,454.11 197.04,465.28 C196.42,454.11 195.32,440.84 194.58,430.37 C195.59,418.73 196.56,405.28 197.04,390.80 Z" fill="#d6d6d6" stroke="#686868" stroke-width="0.75"/>
<line x1="194.58" y1="430.37" x2="199.50" y2="430.37" stroke="#2a2a2a" stroke-width="0.9"/>
<line x1="201.96" y1="467.40" x2="201.96" y2="469.10" stroke="#555" stroke-width="0.6"/>
<line x1="201.96" y1="384.83" x2="201.96" y2="389.78" stroke="#5c5c5c" stroke-width="0.88"/>
<path d="M201.96,389.18 C202.45,403.72 203.43,417.38 204.42,429.36 C203.68,438.16 202.57,449.31 201.96,458.70 C201.34,449.31 200.24,438.16 199.50,429.36 C200.49,417.38 201.47,403.72 201.96,389.18 Z" fill="#d6d6d6" stroke="#686868" stroke-width="0.75"/>
<line x1="199.50" y1="429.36" x2="204.42" y2="429.36" stroke="#2a2a2a" stroke-width="0.9"/>
<line x1="206.88" y1="467.40" x2="206.88" y2="469.10" stroke="#555" stroke-width="0.6"/>
<line x1="206.88" y1="362.06" x2="206.88" y2="392.21" stroke="#5c5c5c" stroke-width="0.88"/>
<path d="M206.88,391.61 C207.35,406.06 208.33,419.41 209.34,430.87 C208.60,441.50 207.50,454.96 206.88,466.29 C206.26,454.96 205.16,441.50 204.42,430.87 C205.43,419.41 206.41,406.06 206.88,391.61 Z" fill="#d6d6d6" stroke="#686868" stroke-width="0.75"/>
<line x1="204.42" y1="430.87" x2="209.34" y2="430.87" stroke="#2a2a2a" stroke-width="0.9"/>
<line x1="211.80" y1="467.40" x2="211.80" y2="469.10" stroke="#555" stroke-width="0.6"/>
<line x1="211.80" y1="367.62" x2="211.80" y2="393.02" stroke="#5c5c5c" stroke-width="0.88"/>
<path d="M211.80,392.42 C212.27,406.83 213.24,420.08 214.26,431.38 C213.52,440.49 212.41,452.02 211.80,461.74 C211.18,452.02 210.08,440.49 209.34,431.38 C210.36,420.08 211.33,406.83 211.80,392.42 Z" fill="#d6d6d6" stroke="#686868" stroke-width="0.75"/>
<line x1="209.34" y1="431.38" x2="214.26" y2="431.38" stroke="#2a2a2a" stroke-width="0.9"/>
<line x1="216.72" y1="467.40" x2="216.72" y2="469.10" stroke="#555" stroke-width="0.6"/>
<line x1="216.72" y1="386.85" x2="216.72" y2="394.64" stroke="#5c5c5c" stroke-width="0.88"/>
<path d="M216.72,394.04 C217.18,408.38 218.14,421.42 219.18,432.39 C218.44,439.98 217.34,449.60 216.72,457.69 C216.10,449.60 215.00,439.98 214.26,432.39 C215.30,421.42 216.26,408.38 216.72,394.04 Z" fill="#d6d6d6" stroke="#686868" stroke-width="0.75"/>
<line x1="214.26" y1="432.39" x2="219.18" y2="432.39" stroke="#2a2a2a" stroke-width="0.9"/>
<line x1="221.64" y1="467.40" x2="221.64" y2="469.10" stroke="#555" stroke-width="0.6"/>
<line x1="221.64" y1="367.12" x2="221.64" y2="394.64" stroke="#5c5c5c" stroke-width="0.88"/>
<path d="M221.64,394.04 C222.10,408.38 223.06,421.42 224.10,432.39 C223.36,441.96 222.25,454.07 221.64,464.27 C221.02,454.07 219.92,441.96 219.18,432.39 C220.22,421.42 221.18,408.38 221.64,394.04 Z" fill="#d6d6d6" stroke="#686868" stroke-width="0.75"/>
<line x1="219.18" y1="432.39" x2="224.10" y2="432.39" stroke="#2a2a2a" stroke-width="0.9"/>
<line x1="226.56" y1="467.40" x2="226.56" y2="469.10" stroke="#555" stroke-width="0.6"/>
<line x1="226.56" y1="369.65" x2="226.56" y2="393.83" stroke="#5c5c5c" stroke-width="0.88"/>
<path d="M226.56,393.23 C227.02,407.61 227.99,420.75 229.02,431.89 C228.28,441.90 227.18,454.60 226.56,465.28 C225.94,454.60 224.84,441.90 224.10,431.89 C225.13,420.75 226.10,407.61 226.56,393.23 Z" fill="#d6d6d6" stroke="#686868" stroke-width="0.75"/>
<line x1="224.10" y1="431.89" x2="229.02" y2="431.89" stroke="#2a2a2a" stroke-width="0.9"/>
<line x1="231.48" y1="467.40" x2="231.48" y2="469.10" stroke="#555" stroke-width="0.6"/>
<line x1="231.48" y1="382.30" x2="231.48" y2="393.83" stroke="#5c5c5c" stroke-width="0.88"/>
<path d="M231.48,393.23 C231.94,407.61 232.91,420.75 233.94,431.89 C233.20,439.63 232.09,449.43 231.48,457.69 C230.86,449.43 229.76,439.63 229.02,431.89 C230.05,420.75 231.02,407.61 231.48,393.23 Z" fill="#d6d6d6" stroke="#686868" stroke-width="0.75"/>
<line x1="229.02" y1="431.89" x2="233.94" y2="431.89" stroke="#2a2a2a" stroke-width="0.9"/>
<line x1="236.40" y1="467.40" x2="236.40" y2="469.10" stroke="#555" stroke-width="0.6"/>
<line x1="236.40" y1="368.64" x2="236.40" y2="395.45" stroke="#5c5c5c" stroke-width="0.88"/>
<path d="M236.40,394.85 C236.85,409.15 237.82,422.09 238.86,432.90 C238.12,441.55 237.02,452.51 236.40,461.74 C235.78,452.51 234.68,441.55 233.94,432.90 C234.98,422.09 235.95,409.15 236.40,394.85 Z" fill="#d6d6d6" stroke="#686868" stroke-width="0.75"/>
<line x1="233.94" y1="432.90" x2="238.86" y2="432.90" stroke="#2a2a2a" stroke-width="0.9"/>
<line x1="241.32" y1="467.40" x2="241.32" y2="469.10" stroke="#555" stroke-width="0.6"/>
<line x1="241.32" y1="384.83" x2="241.32" y2="398.69" stroke="#5c5c5c" stroke-width="0.88"/>
<path d="M241.32,398.09 C241.75,412.23 242.71,424.76 243.78,434.92 C243.29,442.36 242.80,449.80 242.67,456.17 L242.67,462.75 L239.97,462.75 L239.97,456.17 C239.84,449.80 239.35,442.36 238.86,434.92 C239.93,424.76 240.89,412.23 241.32,398.09 Z" fill="#d6d6d6" stroke="#686868" stroke-width="0.75"/>
<line x1="238.86" y1="434.92" x2="243.78" y2="434.92" stroke="#2a2a2a" stroke-width="0.9"/>
<line x1="246.24" y1="467.40" x2="246.24" y2="469.10" stroke="#555" stroke-width="0.6"/>
<line x1="246.24" y1="382.80" x2="246.24" y2="399.49" stroke="#5c5c5c" stroke-width="0.88"/>
<path d="M246.24,398.89 C246.67,413.00 247.62,425.42 248.70,435.43 C247.96,444.38 246.85,455.73 246.24,465.28 C245.62,455.73 244.52,444.38 243.78,435.43 C244.86,425.42 245.81,413.00 246.24,398.89 Z" fill="#d6d6d6" stroke="#686868" stroke-width="0.75"/>
<line x1="243.78" y1="435.43" x2="248.70" y2="435.43" stroke="#2a2a2a" stroke-width="0.9"/>
<line x1="251.16" y1="467.40" x2="251.16" y2="469.10" stroke="#555" stroke-width="0.6"/>
<line x1="251.16" y1="371.67" x2="251.16" y2="399.49" stroke="#5c5c5c" stroke-width="0.88"/>
<path d="M251.16,398.89 C251.59,413.00 252.54,425.42 253.62,435.43 C252.88,444.08 251.78,455.04 251.16,464.27 C250.54,455.04 249.44,444.08 248.70,435.43 C249.78,425.42 250.73,413.00 251.16,398.89 Z" fill="#d6d6d6" stroke="#686868" stroke-width="0.75"/>
<line x1="248.70" y1="435.43" x2="253.62" y2="435.43" stroke="#2a2a2a" stroke-width="0.9"/>
<line x1="256.08" y1="467.40" x2="256.08" y2="469.10" stroke="#555" stroke-width="0.6"/>
<line x1="256.08" y1="375.21" x2="256.08" y2="399.49" stroke="#5c5c5c" stroke-width="0.88"/>
<path d="M256.08,398.89 C256.51,413.00 257.46,425.42 258.54,435.43 C257.80,444.08 256.69,455.04 256.08,464.27 C255.46,455.04 254.36,444.08 253.62,435.43 C254.70,425.42 255.65,413.00 256.08,398.89 Z" fill="#d6d6d6" stroke="#686868" stroke-width="0.75"/>
<line x1="253.62" y1="435.43" x2="258.54" y2="435.43" stroke="#2a2a2a" stroke-width="0.9"/>
<line x1="261.00" y1="467.40" x2="261.00" y2="469.10" stroke="#555" stroke-width="0.6"/>
<line x1="261.00" y1="375.72" x2="261.00" y2="399.49" stroke="#5c5c5c" stroke-width="0.88"/>
<path d="M261.00,398.89 C261.43,413.00 262.38,425.42 263.46,435.43 C262.72,444.08 261.62,455.04 261.00,464.27 C260.38,455.04 259.28,444.08 258.54,435.43 C259.62,425.42 260.57,413.00 261.00,398.89 Z" fill="#d6d6d6" stroke="#686868" stroke-width="0.75"/>
<line x1="258.54" y1="435.43" x2="263.46" y2="435.43" stroke="#2a2a2a" stroke-width="0.9"/>
<line x1="265.92" y1="467.40" x2="265.92" y2="469.10" stroke="#555" stroke-width="0.6"/>
<line x1="265.92" y1="390.90" x2="265.92" y2="401.11" stroke="#5c5c5c" stroke-width="0.88"/>
<path d="M265.92,400.51 C266.34,414.53 267.29,426.74 268.38,436.44 C267.89,442.28 267.40,448.13 267.27,453.14 L267.27,459.72 L264.57,459.72 L264.57,453.14 C264.44,448.13 263.95,442.28 263.46,436.44 C264.55,426.74 265.50,414.53 265.92,400.51 Z" fill="#d6d6d6" stroke="#686868" stroke-width="0.75"/>
<line x1="263.46" y1="436.44" x2="268.38" y2="436.44" stroke="#2a2a2a" stroke-width="0.9"/>
<line x1="270.84" y1="467.40" x2="270.84" y2="469.10" stroke="#555" stroke-width="0.6"/>
<line x1="270.84" y1="394.44" x2="270.84" y2="402.73" stroke="#5c5c5c" stroke-width="0.88"/>
<path d="M270.84,402.13 C271.25,416.05 272.19,428.06 273.30,437.45 C272.56,445.50 271.46,455.69 270.84,464.27 C270.23,455.69 269.12,445.50 268.38,437.45 C269.49,428.06 270.43,416.05 270.84,402.13 Z" fill="#d6d6d6" stroke="#686868" stroke-width="0.75"/>
<line x1="268.38" y1="437.45" x2="273.30" y2="437.45" stroke="#2a2a2a" stroke-width="0.9"/>
<line x1="275.76" y1="467.40" x2="275.76" y2="469.10" stroke="#555" stroke-width="0.6"/>
<line x1="275.76" y1="396.47" x2="275.76" y2="405.97" stroke="#5c5c5c" stroke-width="0.88"/>
<path d="M275.76,405.37 C276.15,419.08 277.08,430.68 278.22,439.48 C277.48,446.91 276.38,456.34 275.76,464.27 C275.14,456.34 274.04,446.91 273.30,439.48 C274.44,430.68 275.37,419.08 275.76,405.37 Z" fill="#d6d6d6" stroke="#686868" stroke-width="0.75"/>
<line x1="273.30" y1="439.48" x2="278.22" y2="439.48" stroke="#2a2a2a" stroke-width="0.9"/>
<line x1="280.68" y1="467.40" x2="280.68" y2="469.10" stroke="#555" stroke-width="0.6"/>
<line x1="280.68" y1="384.32" x2="280.68" y2="405.16" stroke="#5c5c5c" stroke-width="0.88"/>
<path d="M280.68,404.56 C281.07,418.33 282.01,430.02 283.14,438.97 C282.40,446.56 281.30,456.17 280.68,464.27 C280.06,456.17 278.96,446.56 278.22,438.97 C279.35,430.02 280.29,418.33 280.68,404.56 Z" fill="#d6d6d6" stroke="#686868" stroke-width="0.75"/>
<line x1="278.22" y1="438.97" x2="283.14" y2="438.97" stroke="#2a2a2a" stroke-width="0.9"/>
<line x1="285.60" y1="467.40" x2="285.60" y2="469.10" stroke="#555" stroke-width="0.6"/>
<line x1="285.60" y1="392.42" x2="285.60" y2="405.16" stroke="#5c5c5c" stroke-width="0.88"/>
<path d="M285.60,404.56 C285.99,418.33 286.93,430.02 288.06,438.97 C287.32,445.80 286.22,454.45 285.60,461.74 C284.99,454.45 283.88,445.80 283.14,438.97 C284.27,430.02 285.21,418.33 285.60,404.56 Z" fill="#d6d6d6" stroke="#686868" stroke-width="0.75"/>
<line x1="283.14" y1="438.97" x2="288.06" y2="438.97" stroke="#2a2a2a" stroke-width="0.9"/>
<line x1="290.52" y1="467.40" x2="290.52" y2="469.10" stroke="#555" stroke-width="0.6"/>
<line x1="290.52" y1="359.53" x2="290.52" y2="405.97" stroke="#5c5c5c" stroke-width="0.88"/>
<path d="M290.52,405.37 C290.91,419.08 291.84,430.68 292.98,439.48 C292.24,447.22 291.13,457.02 290.52,465.28 C289.90,457.02 288.80,447.22 288.06,439.48 C289.20,430.68 290.13,419.08 290.52,405.37 Z" fill="#d6d6d6" stroke="#686868" stroke-width="0.75"/>
<line x1="288.06" y1="439.48" x2="292.98" y2="439.48" stroke="#2a2a2a" stroke-width="0.9"/>
<line x1="295.44" y1="467.40" x2="295.44" y2="469.10" stroke="#555" stroke-width="0.6"/>
<line x1="295.44" y1="395.45" x2="295.44" y2="405.16" stroke="#5c5c5c" stroke-width="0.88"/>
<path d="M295.44,404.56 C295.83,418.33 296.77,430.02 297.90,438.97 C297.16,446.56 296.06,456.17 295.44,464.27 C294.82,456.17 293.72,446.56 292.98,438.97 C294.11,430.02 295.05,418.33 295.44,404.56 Z" fill="#d6d6d6" stroke="#686868" stroke-width="0.75"/>
<line x1="292.98" y1="438.97" x2="297.90" y2="438.97" stroke="#2a2a2a" stroke-width="0.9"/>
<line x1="300.36" y1="467.40" x2="300.36" y2="469.10" stroke="#555" stroke-width="0.6"/>
<line x1="300.36" y1="362.06" x2="300.36" y2="405.97" stroke="#5c5c5c" stroke-width="0.88"/>
<path d="M300.36,405.37 C300.75,419.08 301.68,430.68 302.82,439.48 C302.08,447.22 300.98,457.02 300.36,465.28 C299.75,457.02 298.64,447.22 297.90,439.48 C299.04,430.68 299.97,419.08 300.36,405.37 Z" fill="#d6d6d6" stroke="#686868" stroke-width="0.75"/>
<line x1="297.90" y1="439.48" x2="302.82" y2="439.48" stroke="#2a2a2a" stroke-width="0.9"/>
<line x1="305.28" y1="467.40" x2="305.28" y2="469.10" stroke="#555" stroke-width="0.6"/>
<line x1="305.28" y1="404.56" x2="305.28" y2="406.78" stroke="#5c5c5c" stroke-width="0.88"/>
<path d="M305.28,406.18 C305.66,419.84 306.59,431.33 307.74,439.98 C307.00,446.51 305.90,454.78 305.28,461.74 C304.67,454.78 303.56,446.51 302.82,439.98 C303.97,431.33 304.90,419.84 305.28,406.18 Z" fill="#d6d6d6" stroke="#686868" stroke-width="0.75"/>
<line x1="302.82" y1="439.98" x2="307.74" y2="439.98" stroke="#2a2a2a" stroke-width="0.9"/>
<line x1="310.20" y1="467.40" x2="310.20" y2="469.10" stroke="#555" stroke-width="0.6"/>
<line x1="310.20" y1="386.85" x2="310.20" y2="406.78" stroke="#5c5c5c" stroke-width="0.88"/>
<path d="M310.20,406.18 C310.58,419.84 311.51,431.33 312.66,439.98 C311.92,447.27 310.82,456.50 310.20,464.27 C309.59,456.50 308.48,447.27 307.74,439.98 C308.89,431.33 309.82,419.84 310.20,406.18 Z" fill="#d6d6d6" stroke="#686868" stroke-width="0.75"/>
<line x1="307.74" y1="439.98" x2="312.66" y2="439.98" stroke="#2a2a2a" stroke-width="0.9"/>
<line x1="315.12" y1="467.40" x2="315.12" y2="469.10" stroke="#555" stroke-width="0.6"/>
<line x1="315.12" y1="386.85" x2="315.12" y2="407.59" stroke="#5c5c5c" stroke-width="0.88"/>
<path d="M315.12,406.99 C315.50,420.59 316.43,431.98 317.58,440.49 C316.84,447.62 315.74,456.66 315.12,464.27 C314.50,456.66 313.40,447.62 312.66,440.49 C313.81,431.98 314.74,420.59 315.12,406.99 Z" fill="#d6d6d6" stroke="#686868" stroke-width="0.75"/>
<line x1="312.66" y1="440.49" x2="317.58" y2="440.49" stroke="#2a2a2a" stroke-width="0.9"/>
<line x1="320.04" y1="467.40" x2="320.04" y2="469.10" stroke="#555" stroke-width="0.6"/>
<line x1="320.04" y1="376.73" x2="320.04" y2="409.21" stroke="#5c5c5c" stroke-width="0.88"/>
<path d="M320.04,408.61 C320.41,422.09 321.33,433.28 322.50,441.50 C321.76,448.63 320.66,457.67 320.04,465.28 C319.43,457.67 318.32,448.63 317.58,441.50 C318.75,433.28 319.67,422.09 320.04,408.61 Z" fill="#d6d6d6" stroke="#686868" stroke-width="0.75"/>
<line x1="317.58" y1="441.50" x2="322.50" y2="441.50" stroke="#2a2a2a" stroke-width="0.9"/>
<line x1="324.96" y1="467.40" x2="324.96" y2="469.10" stroke="#555" stroke-width="0.6"/>
<line x1="324.96" y1="386.35" x2="324.96" y2="410.02" stroke="#5c5c5c" stroke-width="0.88"/>
<path d="M324.96,409.42 C325.32,422.85 326.24,433.92 327.42,442.01 C326.68,447.93 325.58,455.43 324.96,461.74 C324.35,455.43 323.24,447.93 322.50,442.01 C323.68,433.92 324.60,422.85 324.96,409.42 Z" fill="#d6d6d6" stroke="#686868" stroke-width="0.75"/>
<line x1="322.50" y1="442.01" x2="327.42" y2="442.01" stroke="#2a2a2a" stroke-width="0.9"/>
<line x1="329.88" y1="467.40" x2="329.88" y2="469.10" stroke="#555" stroke-width="0.6"/>
<line x1="329.88" y1="380.27" x2="329.88" y2="410.02" stroke="#5c5c5c" stroke-width="0.88"/>
<path d="M329.88,409.42 C330.24,422.85 331.16,433.92 332.34,442.01 C331.60,448.69 330.50,457.15 329.88,464.27 C329.26,457.15 328.16,448.69 327.42,442.01 C328.60,433.92 329.52,422.85 329.88,409.42 Z" fill="#d6d6d6" stroke="#686868" stroke-width="0.75"/>
<line x1="327.42" y1="442.01" x2="332.34" y2="442.01" stroke="#2a2a2a" stroke-width="0.9"/>
<line x1="334.80" y1="467.40" x2="334.80" y2="469.10" stroke="#555" stroke-width="0.6"/>
<line x1="334.80" y1="378.76" x2="334.80" y2="411.64" stroke="#5c5c5c" stroke-width="0.88"/>
<path d="M334.80,411.04 C335.15,424.34 336.07,435.22 337.26,443.02 C336.52,449.70 335.42,458.16 334.80,465.28 C334.19,458.16 333.08,449.70 332.34,443.02 C333.53,435.22 334.45,424.34 334.80,411.04 Z" fill="#d6d6d6" stroke="#686868" stroke-width="0.75"/>
<line x1="332.34" y1="443.02" x2="337.26" y2="443.02" stroke="#2a2a2a" stroke-width="0.9"/>
<line x1="339.72" y1="467.40" x2="339.72" y2="469.10" stroke="#555" stroke-width="0.6"/>
<line x1="339.72" y1="403.04" x2="339.72" y2="414.07" stroke="#5c5c5c" stroke-width="0.88"/>
<path d="M339.72,413.47 C340.06,426.58 340.97,437.14 342.18,444.54 C342.18,453.95 341.07,459.72 339.72,459.72 C338.37,459.72 337.26,453.95 337.26,444.54 C338.47,437.14 339.38,426.58 339.72,413.47 Z" fill="#d6d6d6" stroke="#686868" stroke-width="0.75"/>
<line x1="337.26" y1="444.54" x2="342.18" y2="444.54" stroke="#2a2a2a" stroke-width="0.9"/>
<line x1="344.64" y1="467.40" x2="344.64" y2="469.10" stroke="#555" stroke-width="0.6"/>
<line x1="344.64" y1="393.43" x2="344.64" y2="415.69" stroke="#5c5c5c" stroke-width="0.88"/>
<path d="M344.64,415.09 C344.97,428.06 345.87,438.42 347.10,445.55 C346.61,449.80 346.12,454.05 345.99,457.69 L345.99,464.27 L343.29,464.27 L343.29,457.69 C343.16,454.05 342.67,449.80 342.18,445.55 C343.41,438.42 344.31,428.06 344.64,415.09 Z" fill="#d6d6d6" stroke="#686868" stroke-width="0.75"/>
<line x1="342.18" y1="445.55" x2="347.10" y2="445.55" stroke="#2a2a2a" stroke-width="0.9"/>
<line x1="349.56" y1="467.40" x2="349.56" y2="469.10" stroke="#555" stroke-width="0.6"/>
<line x1="349.56" y1="387.86" x2="349.56" y2="415.69" stroke="#5c5c5c" stroke-width="0.88"/>
<path d="M349.56,415.09 C349.89,428.06 350.79,438.42 352.02,445.55 C351.28,450.41 350.18,456.56 349.56,461.74 C348.94,456.56 347.84,450.41 347.10,445.55 C348.33,438.42 349.23,428.06 349.56,415.09 Z" fill="#d6d6d6" stroke="#686868" stroke-width="0.75"/>
<line x1="347.10" y1="445.55" x2="352.02" y2="445.55" stroke="#2a2a2a" stroke-width="0.9"/>
<line x1="354.48" y1="467.40" x2="354.48" y2="469.10" stroke="#555" stroke-width="0.6"/>
<line x1="354.48" y1="383.82" x2="354.48" y2="417.31" stroke="#5c5c5c" stroke-width="0.88"/>
<path d="M354.48,416.71 C354.80,429.54 355.70,439.69 356.94,446.56 C356.20,452.18 355.10,459.29 354.48,465.28 C353.87,459.29 352.76,452.18 352.02,446.56 C353.26,439.69 354.16,429.54 354.48,416.71 Z" fill="#d6d6d6" stroke="#686868" stroke-width="0.75"/>
<line x1="352.02" y1="446.56" x2="356.94" y2="446.56" stroke="#2a2a2a" stroke-width="0.9"/>
<line x1="359.40" y1="467.40" x2="359.40" y2="469.10" stroke="#555" stroke-width="0.6"/>
<line x1="359.40" y1="397.48" x2="359.40" y2="417.31" stroke="#5c5c5c" stroke-width="0.88"/>
<path d="M359.40,416.71 C359.72,429.54 360.62,439.69 361.86,446.56 C361.86,455.97 360.75,461.74 359.40,461.74 C358.05,461.74 356.94,455.97 356.94,446.56 C358.18,439.69 359.08,429.54 359.40,416.71 Z" fill="#d6d6d6" stroke="#686868" stroke-width="0.75"/>
<line x1="356.94" y1="446.56" x2="361.86" y2="446.56" stroke="#2a2a2a" stroke-width="0.9"/>
<line x1="364.32" y1="467.40" x2="364.32" y2="469.10" stroke="#555" stroke-width="0.6"/>
<line x1="364.32" y1="401.02" x2="364.32" y2="418.12" stroke="#5c5c5c" stroke-width="0.88"/>
<path d="M364.32,417.52 C364.63,430.28 365.53,440.33 366.78,447.07 C366.04,451.77 364.94,457.73 364.32,462.75 C363.70,457.73 362.60,451.77 361.86,447.07 C363.11,440.33 364.01,430.28 364.32,417.52 Z" fill="#d6d6d6" stroke="#686868" stroke-width="0.75"/>
<line x1="361.86" y1="447.07" x2="366.78" y2="447.07" stroke="#2a2a2a" stroke-width="0.9"/>
<line x1="369.24" y1="467.40" x2="369.24" y2="469.10" stroke="#555" stroke-width="0.6"/>
<line x1="369.24" y1="376.73" x2="369.24" y2="418.12" stroke="#5c5c5c" stroke-width="0.88"/>
<path d="M369.24,417.52 C369.55,430.28 370.45,440.33 371.70,447.07 C370.96,452.23 369.86,458.76 369.24,464.27 C368.62,458.76 367.52,452.23 366.78,447.07 C368.03,440.33 368.93,430.28 369.24,417.52 Z" fill="#d6d6d6" stroke="#686868" stroke-width="0.75"/>
<line x1="366.78" y1="447.07" x2="371.70" y2="447.07" stroke="#2a2a2a" stroke-width="0.9"/>
<line x1="374.16" y1="467.40" x2="374.16" y2="469.10" stroke="#555" stroke-width="0.6"/>
<line x1="374.16" y1="407.09" x2="374.16" y2="418.12" stroke="#5c5c5c" stroke-width="0.88"/>
<path d="M374.16,417.52 C374.47,430.28 375.37,440.33 376.62,447.07 C375.88,452.23 374.78,458.76 374.16,464.27 C373.55,458.76 372.44,452.23 371.70,447.07 C372.95,440.33 373.85,430.28 374.16,417.52 Z" fill="#d6d6d6" stroke="#686868" stroke-width="0.75"/>
<line x1="371.70" y1="447.07" x2="376.62" y2="447.07" stroke="#2a2a2a" stroke-width="0.9"/>
<line x1="379.08" y1="467.40" x2="379.08" y2="469.10" stroke="#555" stroke-width="0.6"/>
<line x1="379.08" y1="392.42" x2="379.08" y2="418.93" stroke="#5c5c5c" stroke-width="0.88"/>
<path d="M379.08,418.33 C379.39,431.02 380.28,440.96 381.54,447.57 C381.54,456.36 380.43,461.74 379.08,461.74 C377.73,461.74 376.62,456.36 376.62,447.57 C377.88,440.96 378.77,431.02 379.08,418.33 Z" fill="#d6d6d6" stroke="#686868" stroke-width="0.75"/>
<line x1="376.62" y1="447.57" x2="381.54" y2="447.57" stroke="#2a2a2a" stroke-width="0.9"/>
<line x1="384.00" y1="467.40" x2="384.00" y2="469.10" stroke="#555" stroke-width="0.6"/>
<line x1="384.00" y1="391.91" x2="384.00" y2="418.93" stroke="#5c5c5c" stroke-width="0.88"/>
<path d="M384.00,418.33 C384.31,431.02 385.20,440.96 386.46,447.57 C385.72,452.58 384.62,458.93 384.00,464.27 C383.38,458.93 382.28,452.58 381.54,447.57 C382.80,440.96 383.69,431.02 384.00,418.33 Z" fill="#d6d6d6" stroke="#686868" stroke-width="0.75"/>
<line x1="381.54" y1="447.57" x2="386.46" y2="447.57" stroke="#2a2a2a" stroke-width="0.9"/>
<line x1="388.92" y1="467.40" x2="388.92" y2="469.10" stroke="#555" stroke-width="0.6"/>
<line x1="388.92" y1="392.42" x2="388.92" y2="420.54" stroke="#5c5c5c" stroke-width="0.88"/>
<path d="M388.92,419.94 C389.22,432.49 390.11,442.23 391.38,448.58 C391.38,456.74 390.27,461.74 388.92,461.74 C387.57,461.74 386.46,456.74 386.46,448.58 C387.73,442.23 388.62,432.49 388.92,419.94 Z" fill="#d6d6d6" stroke="#686868" stroke-width="0.75"/>
<line x1="386.46" y1="448.58" x2="391.38" y2="448.58" stroke="#2a2a2a" stroke-width="0.9"/>
<line x1="393.84" y1="467.40" x2="393.84" y2="469.10" stroke="#555" stroke-width="0.6"/>
<line x1="393.84" y1="413.16" x2="393.84" y2="421.35" stroke="#5c5c5c" stroke-width="0.88"/>
<path d="M393.84,420.75 C394.14,433.22 395.02,442.86 396.30,449.09 C396.30,456.93 395.19,461.74 393.84,461.74 C392.49,461.74 391.38,456.93 391.38,449.09 C392.66,442.86 393.54,433.22 393.84,420.75 Z" fill="#d6d6d6" stroke="#686868" stroke-width="0.75"/>
<line x1="391.38" y1="449.09" x2="396.30" y2="449.09" stroke="#2a2a2a" stroke-width="0.9"/>
<line x1="398.76" y1="467.40" x2="398.76" y2="469.10" stroke="#555" stroke-width="0.6"/>
<line x1="398.76" y1="394.44" x2="398.76" y2="422.16" stroke="#5c5c5c" stroke-width="0.88"/>
<path d="M398.76,421.56 C399.05,433.95 399.93,443.48 401.22,449.60 C401.22,457.75 400.11,462.75 398.76,462.75 C397.41,462.75 396.30,457.75 396.30,449.60 C397.59,443.48 398.47,433.95 398.76,421.56 Z" fill="#d6d6d6" stroke="#686868" stroke-width="0.75"/>
<line x1="396.30" y1="449.60" x2="401.22" y2="449.60" stroke="#2a2a2a" stroke-width="0.9"/>
<line x1="403.68" y1="467.40" x2="403.68" y2="469.10" stroke="#555" stroke-width="0.6"/>
<line x1="403.68" y1="405.57" x2="403.68" y2="422.97" stroke="#5c5c5c" stroke-width="0.88"/>
<path d="M403.68,422.37 C403.97,434.68 404.85,444.11 406.14,450.10 C406.14,456.69 405.03,460.73 403.68,460.73 C402.33,460.73 401.22,456.69 401.22,450.10 C402.51,444.11 403.39,434.68 403.68,422.37 Z" fill="#d6d6d6" stroke="#686868" stroke-width="0.75"/>
<line x1="401.22" y1="450.10" x2="406.14" y2="450.10" stroke="#2a2a2a" stroke-width="0.9"/>
<line x1="408.60" y1="467.40" x2="408.60" y2="469.10" stroke="#555" stroke-width="0.6"/>
<line x1="408.60" y1="404.06" x2="408.60" y2="422.97" stroke="#5c5c5c" stroke-width="0.88"/>
<path d="M408.60,422.37 C408.89,434.68 409.77,444.11 411.06,450.10 C411.06,457.32 409.95,461.74 408.60,461.74 C407.25,461.74 406.14,457.32 406.14,450.10 C407.43,444.11 408.31,434.68 408.60,422.37 Z" fill="#d6d6d6" stroke="#686868" stroke-width="0.75"/>
<line x1="406.14" y1="450.10" x2="411.06" y2="450.10" stroke="#2a2a2a" stroke-width="0.9"/>
<line x1="413.52" y1="467.40" x2="413.52" y2="469.10" stroke="#555" stroke-width="0.6"/>
<line x1="413.52" y1="388.37" x2="413.52" y2="423.78" stroke="#5c5c5c" stroke-width="0.88"/>
<path d="M413.52,423.18 C413.80,435.41 414.68,444.74 415.98,450.61 C415.98,459.71 414.87,465.28 413.52,465.28 C412.17,465.28 411.06,459.71 411.06,450.61 C412.36,444.74 413.24,435.41 413.52,423.18 Z" fill="#d6d6d6" stroke="#686868" stroke-width="0.75"/>
<line x1="411.06" y1="450.61" x2="415.98" y2="450.61" stroke="#2a2a2a" stroke-width="0.9"/>
<line x1="418.44" y1="467.40" x2="418.44" y2="469.10" stroke="#555" stroke-width="0.6"/>
<line x1="418.44" y1="384.83" x2="418.44" y2="423.78" stroke="#5c5c5c" stroke-width="0.88"/>
<path d="M418.44,423.18 C418.72,435.41 419.60,444.74 420.90,450.61 C420.90,459.08 419.79,464.27 418.44,464.27 C417.09,464.27 415.98,459.08 415.98,450.61 C417.28,444.74 418.16,435.41 418.44,423.18 Z" fill="#d6d6d6" stroke="#686868" stroke-width="0.75"/>
<line x1="415.98" y1="450.61" x2="420.90" y2="450.61" stroke="#2a2a2a" stroke-width="0.9"/>
<line x1="423.36" y1="467.40" x2="423.36" y2="469.10" stroke="#555" stroke-width="0.6"/>
<line x1="423.36" y1="395.96" x2="423.36" y2="423.78" stroke="#5c5c5c" stroke-width="0.88"/>
<path d="M423.36,423.18 C423.64,435.41 424.52,444.74 425.82,450.61 C425.82,459.71 424.71,465.28 423.36,465.28 C422.01,465.28 420.90,459.71 420.90,450.61 C422.20,444.74 423.08,435.41 423.36,423.18 Z" fill="#d6d6d6" stroke="#686868" stroke-width="0.75"/>
<line x1="420.90" y1="450.61" x2="425.82" y2="450.61" stroke="#2a2a2a" stroke-width="0.9"/>
<line x1="428.28" y1="467.40" x2="428.28" y2="469.10" stroke="#555" stroke-width="0.6"/>
<line x1="428.28" y1="388.88" x2="428.28" y2="425.40" stroke="#5c5c5c" stroke-width="0.88"/>
<path d="M428.28,424.80 C428.55,436.87 429.42,445.99 430.74,451.62 C430.25,453.75 429.76,455.87 429.63,457.69 L429.63,464.27 L426.93,464.27 L426.93,457.69 C426.80,455.87 426.31,453.75 425.82,451.62 C427.14,445.99 428.01,436.87 428.28,424.80 Z" fill="#d6d6d6" stroke="#686868" stroke-width="0.75"/>
<line x1="425.82" y1="451.62" x2="430.74" y2="451.62" stroke="#2a2a2a" stroke-width="0.9"/>
<line x1="433.20" y1="467.40" x2="433.20" y2="469.10" stroke="#555" stroke-width="0.6"/>
<line x1="433.20" y1="377.74" x2="433.20" y2="423.78" stroke="#5c5c5c" stroke-width="0.88"/>
<path d="M433.20,423.18 C433.48,435.41 434.36,444.74 435.66,450.61 C435.66,459.08 434.55,464.27 433.20,464.27 C431.85,464.27 430.74,459.08 430.74,450.61 C432.04,444.74 432.92,435.41 433.20,423.18 Z" fill="#d6d6d6" stroke="#686868" stroke-width="0.75"/>
<line x1="430.74" y1="450.61" x2="435.66" y2="450.61" stroke="#2a2a2a" stroke-width="0.9"/>
<line x1="438.12" y1="467.40" x2="438.12" y2="469.10" stroke="#555" stroke-width="0.6"/>
<line x1="438.12" y1="382.30" x2="438.12" y2="423.78" stroke="#5c5c5c" stroke-width="0.88"/>
<path d="M438.12,423.18 C438.40,435.41 439.28,444.74 440.58,450.61 C440.58,459.71 439.47,465.28 438.12,465.28 C436.77,465.28 435.66,459.71 435.66,450.61 C436.96,444.74 437.84,435.41 438.12,423.18 Z" fill="#d6d6d6" stroke="#686868" stroke-width="0.75"/>
<line x1="435.66" y1="450.61" x2="440.58" y2="450.61" stroke="#2a2a2a" stroke-width="0.9"/>
<line x1="443.04" y1="467.40" x2="443.04" y2="469.10" stroke="#555" stroke-width="0.6"/>
<line x1="443.04" y1="392.42" x2="443.04" y2="425.40" stroke="#5c5c5c" stroke-width="0.88"/>
<path d="M443.04,424.80 C443.31,436.87 444.18,445.99 445.50,451.62 C445.50,459.46 444.39,464.27 443.04,464.27 C441.69,464.27 440.58,459.46 440.58,451.62 C441.90,445.99 442.77,436.87 443.04,424.80 Z" fill="#d6d6d6" stroke="#686868" stroke-width="0.75"/>
<line x1="440.58" y1="451.62" x2="445.50" y2="451.62" stroke="#2a2a2a" stroke-width="0.9"/>
<line x1="447.96" y1="467.40" x2="447.96" y2="469.10" stroke="#555" stroke-width="0.6"/>
<line x1="447.96" y1="402.03" x2="447.96" y2="427.02" stroke="#5c5c5c" stroke-width="0.88"/>
<path d="M447.96,426.42 C448.22,438.32 449.09,447.23 450.42,452.63 C450.42,458.28 449.31,461.74 447.96,461.74 C446.61,461.74 445.50,458.28 445.50,452.63 C446.83,447.23 447.70,438.32 447.96,426.42 Z" fill="#d6d6d6" stroke="#686868" stroke-width="0.75"/>
<line x1="445.50" y1="452.63" x2="450.42" y2="452.63" stroke="#2a2a2a" stroke-width="0.9"/>
<line x1="452.88" y1="467.40" x2="452.88" y2="469.10" stroke="#555" stroke-width="0.6"/>
<line x1="452.88" y1="376.73" x2="452.88" y2="427.02" stroke="#5c5c5c" stroke-width="0.88"/>
<path d="M452.88,426.42 C453.14,438.32 454.01,447.23 455.34,452.63 C454.85,453.33 454.36,454.03 454.23,454.63 L454.23,459.72 L451.53,459.72 L451.53,454.63 C451.40,454.03 450.91,453.33 450.42,452.63 C451.75,447.23 452.62,438.32 452.88,426.42 Z" fill="#d6d6d6" stroke="#686868" stroke-width="0.75"/>
<line x1="450.42" y1="452.63" x2="455.34" y2="452.63" stroke="#2a2a2a" stroke-width="0.9"/>
<line x1="457.80" y1="467.40" x2="457.80" y2="469.10" stroke="#555" stroke-width="0.6"/>
<line x1="457.80" y1="405.57" x2="457.80" y2="427.02" stroke="#5c5c5c" stroke-width="0.88"/>
<path d="M457.80,426.42 C458.06,438.32 458.93,447.23 460.26,452.63 C460.26,458.91 459.15,462.75 457.80,462.75 C456.45,462.75 455.34,458.91 455.34,452.63 C456.67,447.23 457.54,438.32 457.80,426.42 Z" fill="#d6d6d6" stroke="#686868" stroke-width="0.75"/>
<line x1="455.34" y1="452.63" x2="460.26" y2="452.63" stroke="#2a2a2a" stroke-width="0.9"/>
<line x1="462.72" y1="467.40" x2="462.72" y2="469.10" stroke="#555" stroke-width="0.6"/>
<line x1="462.72" y1="380.27" x2="462.72" y2="427.83" stroke="#5c5c5c" stroke-width="0.88"/>
<path d="M462.72,427.23 C462.98,439.04 463.84,447.85 465.18,453.14 C465.18,460.04 464.07,464.27 462.72,464.27 C461.37,464.27 460.26,460.04 460.26,453.14 C461.60,447.85 462.46,439.04 462.72,427.23 Z" fill="#d6d6d6" stroke="#686868" stroke-width="0.75"/>
<line x1="460.26" y1="453.14" x2="465.18" y2="453.14" stroke="#2a2a2a" stroke-width="0.9"/>
<line x1="467.64" y1="467.40" x2="467.64" y2="469.10" stroke="#555" stroke-width="0.6"/>
<line x1="467.64" y1="369.14" x2="467.64" y2="427.83" stroke="#5c5c5c" stroke-width="0.88"/>
<path d="M467.64,427.23 C467.90,439.04 468.76,447.85 470.10,453.14 C470.10,461.29 468.99,466.29 467.64,466.29 C466.29,466.29 465.18,461.29 465.18,453.14 C466.52,447.85 467.38,439.04 467.64,427.23 Z" fill="#d6d6d6" stroke="#686868" stroke-width="0.75"/>
<line x1="465.18" y1="453.14" x2="470.10" y2="453.14" stroke="#2a2a2a" stroke-width="0.9"/>
<line x1="472.56" y1="467.40" x2="472.56" y2="469.10" stroke="#555" stroke-width="0.6"/>
<line x1="472.56" y1="405.07" x2="472.56" y2="427.83" stroke="#5c5c5c" stroke-width="0.88"/>
<path d="M472.56,427.23 C472.82,439.04 473.68,447.85 475.02,453.14 C475.02,460.67 473.91,465.28 472.56,465.28 C471.21,465.28 470.10,460.67 470.10,453.14 C471.44,447.85 472.30,439.04 472.56,427.23 Z" fill="#d6d6d6" stroke="#686868" stroke-width="0.75"/>
<line x1="470.10" y1="453.14" x2="475.02" y2="453.14" stroke="#2a2a2a" stroke-width="0.9"/>
<line x1="477.48" y1="467.40" x2="477.48" y2="469.10" stroke="#555" stroke-width="0.6"/>
<line x1="477.48" y1="402.54" x2="477.48" y2="429.45" stroke="#5c5c5c" stroke-width="0.88"/>
<path d="M477.48,428.85 C477.73,440.49 478.59,449.09 479.94,454.15 C479.94,461.05 478.83,465.28 477.48,465.28 C476.13,465.28 475.02,461.05 475.02,454.15 C476.37,449.09 477.23,440.49 477.48,428.85 Z" fill="#d6d6d6" stroke="#686868" stroke-width="0.75"/>
<line x1="475.02" y1="454.15" x2="479.94" y2="454.15" stroke="#2a2a2a" stroke-width="0.9"/>
<line x1="482.40" y1="467.40" x2="482.40" y2="469.10" stroke="#555" stroke-width="0.6"/>
<line x1="482.40" y1="377.24" x2="482.40" y2="429.45" stroke="#5c5c5c" stroke-width="0.88"/>
<path d="M482.40,428.85 C482.65,440.49 483.51,449.09 484.86,454.15 C484.37,454.86 483.88,455.57 483.75,456.17 L483.75,462.75 L481.05,462.75 L481.05,456.17 C480.92,455.57 480.43,454.86 479.94,454.15 C481.29,449.09 482.15,440.49 482.40,428.85 Z" fill="#d6d6d6" stroke="#686868" stroke-width="0.75"/>
<line x1="479.94" y1="454.15" x2="484.86" y2="454.15" stroke="#2a2a2a" stroke-width="0.9"/>
<line x1="487.32" y1="467.40" x2="487.32" y2="469.10" stroke="#555" stroke-width="0.6"/>
<line x1="487.32" y1="387.36" x2="487.32" y2="430.26" stroke="#5c5c5c" stroke-width="0.88"/>
<path d="M487.32,429.66 C487.57,441.16 488.43,449.66 489.78,454.66 C489.78,460.62 488.67,464.27 487.32,464.27 C485.97,464.27 484.86,460.62 484.86,454.66 C486.21,449.66 487.07,441.16 487.32,429.66 Z" fill="#d6d6d6" stroke="#686868" stroke-width="0.75"/>
<line x1="484.86" y1="454.66" x2="489.78" y2="454.66" stroke="#2a2a2a" stroke-width="0.9"/>
<line x1="492.24" y1="467.40" x2="492.24" y2="469.10" stroke="#555" stroke-width="0.6"/>
<line x1="492.24" y1="410.63" x2="492.24" y2="431.88" stroke="#5c5c5c" stroke-width="0.88"/>
<path d="M492.24,431.28 C492.49,442.50 493.35,450.79 494.70,455.67 C494.70,461.00 493.59,464.27 492.24,464.27 C490.89,464.27 489.78,461.00 489.78,455.67 C491.13,450.79 491.99,442.50 492.24,431.28 Z" fill="#d6d6d6" stroke="#686868" stroke-width="0.75"/>
<line x1="489.78" y1="455.67" x2="494.70" y2="455.67" stroke="#2a2a2a" stroke-width="0.9"/>
<line x1="497.16" y1="467.40" x2="497.16" y2="469.10" stroke="#555" stroke-width="0.6"/>
<line x1="497.16" y1="395.45" x2="497.16" y2="431.88" stroke="#5c5c5c" stroke-width="0.88"/>
<path d="M497.16,431.28 C497.41,442.50 498.27,450.79 499.62,455.67 C499.62,461.63 498.51,465.28 497.16,465.28 C495.81,465.28 494.70,461.63 494.70,455.67 C496.05,450.79 496.91,442.50 497.16,431.28 Z" fill="#d6d6d6" stroke="#686868" stroke-width="0.75"/>
<line x1="494.70" y1="455.67" x2="499.62" y2="455.67" stroke="#2a2a2a" stroke-width="0.9"/>
<line x1="502.08" y1="467.40" x2="502.08" y2="469.10" stroke="#555" stroke-width="0.6"/>
<line x1="502.08" y1="388.37" x2="502.08" y2="431.88" stroke="#5c5c5c" stroke-width="0.88"/>
<path d="M502.08,431.28 C502.33,442.50 503.19,450.79 504.54,455.67 C504.54,461.63 503.43,465.28 502.08,465.28 C500.73,465.28 499.62,461.63 499.62,455.67 C500.97,450.79 501.83,442.50 502.08,431.28 Z" fill="#d6d6d6" stroke="#686868" stroke-width="0.75"/>
<line x1="499.62" y1="455.67" x2="504.54" y2="455.67" stroke="#2a2a2a" stroke-width="0.9"/>
<line x1="507.00" y1="467.40" x2="507.00" y2="469.10" stroke="#555" stroke-width="0.6"/>
<line x1="507.00" y1="392.42" x2="507.00" y2="431.88" stroke="#5c5c5c" stroke-width="0.88"/>
<path d="M507.00,431.28 C507.25,442.50 508.11,450.79 509.46,455.67 C509.46,461.63 508.35,465.28 507.00,465.28 C505.65,465.28 504.54,461.63 504.54,455.67 C505.89,450.79 506.75,442.50 507.00,431.28 Z" fill="#d6d6d6" stroke="#686868" stroke-width="0.75"/>
<line x1="504.54" y1="455.67" x2="509.46" y2="455.67" stroke="#2a2a2a" stroke-width="0.9"/>
<line x1="511.92" y1="467.40" x2="511.92" y2="469.10" stroke="#555" stroke-width="0.6"/>
<line x1="511.92" y1="381.79" x2="511.92" y2="433.50" stroke="#5c5c5c" stroke-width="0.88"/>
<path d="M511.92,432.90 C512.17,443.84 513.03,451.92 514.38,456.68 C514.38,461.39 513.27,464.27 511.92,464.27 C510.57,464.27 509.46,461.39 509.46,456.68 C510.81,451.92 511.67,443.84 511.92,432.90 Z" fill="#d6d6d6" stroke="#686868" stroke-width="0.75"/>
<line x1="509.46" y1="456.68" x2="514.38" y2="456.68" stroke="#2a2a2a" stroke-width="0.9"/>
<line x1="516.84" y1="467.40" x2="516.84" y2="469.10" stroke="#555" stroke-width="0.6"/>
<line x1="516.84" y1="400.51" x2="516.84" y2="433.50" stroke="#5c5c5c" stroke-width="0.88"/>
<path d="M516.84,432.90 C517.09,443.84 517.95,451.92 519.30,456.68 C519.30,462.01 518.19,465.28 516.84,465.28 C515.49,465.28 514.38,462.01 514.38,456.68 C515.73,451.92 516.59,443.84 516.84,432.90 Z" fill="#d6d6d6" stroke="#686868" stroke-width="0.75"/>
<line x1="514.38" y1="456.68" x2="519.30" y2="456.68" stroke="#2a2a2a" stroke-width="0.9"/>
<rect x="37.40" y="485.20" width="478.20" height="129.60" fill="#fff" stroke="#7e7e7e" stroke-width="1.05"/>
<line x1="35.60" y1="614.20" x2="37.40" y2="614.20" stroke="#555" stroke-width="0.7"/>
<text x="34.10" y="617.70" font-size="9.7" text-anchor="end" textLength="5.0" lengthAdjust="spacingAndGlyphs">0</text>
<line x1="35.60" y1="588.76" x2="37.40" y2="588.76" stroke="#555" stroke-width="0.7"/>
<text x="34.10" y="592.26" font-size="9.7" text-anchor="end" textLength="9.9" lengthAdjust="spacingAndGlyphs">50</text>
<line x1="35.60" y1="563.32" x2="37.40" y2="563.32" stroke="#555" stroke-width="0.7"/>
<text x="34.10" y="566.82" font-size="9.7" text-anchor="end" textLength="14.8" lengthAdjust="spacingAndGlyphs">100</text>
<line x1="35.60" y1="537.88" x2="37.40" y2="537.88" stroke="#555" stroke-width="0.7"/>
<text x="34.10" y="541.38" font-size="9.7" text-anchor="end" textLength="14.8" lengthAdjust="spacingAndGlyphs">150</text>
<line x1="35.60" y1="512.44" x2="37.40" y2="512.44" stroke="#555" stroke-width="0.7"/>
<text x="34.10" y="515.94" font-size="9.7" text-anchor="end" textLength="14.8" lengthAdjust="spacingAndGlyphs">200</text>
<line x1="35.60" y1="487.00" x2="37.40" y2="487.00" stroke="#555" stroke-width="0.7"/>
<text x="34.10" y="490.50" font-size="9.7" text-anchor="end" textLength="14.8" lengthAdjust="spacingAndGlyphs">250</text>
<text transform="translate(11.90,550.70) rotate(-90)" font-size="9.1" text-anchor="middle">Membrane OD</text>
<line x1="39.40" y1="614.80" x2="39.40" y2="616.50" stroke="#555" stroke-width="0.6"/>
<line x1="39.40" y1="578.58" x2="39.40" y2="584.78" stroke="#686868" stroke-width="0.85"/>
<path d="M39.40,584.28 C39.90,591.21 40.70,597.75 41.40,603.52 C41.10,606.43 40.00,610.18 39.40,611.85 C38.80,610.18 37.70,606.43 37.40,603.52 C38.10,597.75 38.90,591.21 39.40,584.28 Z" fill="#dedede" stroke="#686868" stroke-width="0.7"/>
<line x1="36.96" y1="603.52" x2="41.84" y2="603.52" stroke="#2a2a2a" stroke-width="0.8"/>
<line x1="44.28" y1="614.80" x2="44.28" y2="616.50" stroke="#555" stroke-width="0.6"/>
<line x1="44.28" y1="532.79" x2="44.28" y2="585.17" stroke="#686868" stroke-width="0.85"/>
<path d="M44.28,584.67 C44.78,591.51 45.58,597.96 46.27,603.66 C45.98,606.53 44.88,610.24 44.28,611.88 C43.69,610.24 42.59,606.53 42.30,603.66 C42.99,597.96 43.79,591.51 44.28,584.67 Z" fill="#dedede" stroke="#686868" stroke-width="0.7"/>
<line x1="41.84" y1="603.66" x2="46.73" y2="603.66" stroke="#2a2a2a" stroke-width="0.8"/>
<line x1="49.17" y1="614.80" x2="49.17" y2="616.50" stroke="#555" stroke-width="0.6"/>
<line x1="49.17" y1="568.92" x2="49.17" y2="585.57" stroke="#686868" stroke-width="0.85"/>
<path d="M49.17,585.07 C49.66,591.81 50.45,598.18 51.14,603.80 C50.85,606.64 49.76,610.29 49.17,611.91 C48.58,610.29 47.49,606.64 47.20,603.80 C47.89,598.18 48.68,591.81 49.17,585.07 Z" fill="#dedede" stroke="#686868" stroke-width="0.7"/>
<line x1="46.73" y1="603.80" x2="51.61" y2="603.80" stroke="#2a2a2a" stroke-width="0.8"/>
<line x1="54.05" y1="614.80" x2="54.05" y2="616.50" stroke="#555" stroke-width="0.6"/>
<line x1="54.05" y1="569.43" x2="54.05" y2="585.96" stroke="#686868" stroke-width="0.85"/>
<path d="M54.05,585.46 C54.54,592.11 55.33,598.39 56.01,603.93 L55.82,611.34 L52.29,611.34 L52.10,603.93 C52.78,598.39 53.57,592.11 54.05,585.46 Z" fill="#dedede" stroke="#686868" stroke-width="0.7"/>
<line x1="51.61" y1="603.93" x2="56.50" y2="603.93" stroke="#2a2a2a" stroke-width="0.8"/>
<line x1="58.94" y1="614.80" x2="58.94" y2="616.50" stroke="#555" stroke-width="0.6"/>
<line x1="58.94" y1="573.50" x2="58.94" y2="586.39" stroke="#686868" stroke-width="0.85"/>
<path d="M58.94,585.89 C59.43,592.44 60.20,598.62 60.88,604.07 C60.59,606.84 59.52,610.39 58.94,611.97 C58.36,610.39 57.29,606.84 57.00,604.07 C57.68,598.62 58.45,592.44 58.94,585.89 Z" fill="#dedede" stroke="#686868" stroke-width="0.7"/>
<line x1="56.50" y1="604.07" x2="61.38" y2="604.07" stroke="#2a2a2a" stroke-width="0.8"/>
<line x1="63.82" y1="614.80" x2="63.82" y2="616.50" stroke="#555" stroke-width="0.6"/>
<line x1="63.82" y1="531.77" x2="63.82" y2="586.90" stroke="#686868" stroke-width="0.85"/>
<path d="M63.82,586.40 C64.31,592.81 65.08,598.87 65.76,604.21 C65.47,606.94 64.40,610.45 63.82,612.00 C63.25,610.45 62.18,606.94 61.89,604.21 C62.57,598.87 63.34,592.81 63.82,586.40 Z" fill="#dedede" stroke="#686868" stroke-width="0.7"/>
<line x1="61.38" y1="604.21" x2="66.27" y2="604.21" stroke="#2a2a2a" stroke-width="0.8"/>
<line x1="68.71" y1="614.80" x2="68.71" y2="616.50" stroke="#555" stroke-width="0.6"/>
<line x1="68.71" y1="523.63" x2="68.71" y2="587.40" stroke="#686868" stroke-width="0.85"/>
<path d="M68.71,586.90 C69.19,593.18 69.96,599.12 70.63,604.35 C70.34,607.04 69.28,610.50 68.71,612.03 C68.14,610.50 67.08,607.04 66.79,604.35 C67.46,599.12 68.23,593.18 68.71,586.90 Z" fill="#dedede" stroke="#686868" stroke-width="0.7"/>
<line x1="66.27" y1="604.35" x2="71.15" y2="604.35" stroke="#2a2a2a" stroke-width="0.8"/>
<line x1="73.59" y1="614.80" x2="73.59" y2="616.50" stroke="#555" stroke-width="0.6"/>
<line x1="73.59" y1="537.88" x2="73.59" y2="587.90" stroke="#686868" stroke-width="0.85"/>
<path d="M73.59,587.40 C74.07,593.55 74.83,599.37 75.50,604.49 C75.21,607.14 74.17,610.55 73.59,612.06 C73.02,610.55 71.98,607.14 71.69,604.49 C72.36,599.37 73.12,593.55 73.59,587.40 Z" fill="#dedede" stroke="#686868" stroke-width="0.7"/>
<line x1="71.15" y1="604.49" x2="76.04" y2="604.49" stroke="#2a2a2a" stroke-width="0.8"/>
<line x1="78.48" y1="614.80" x2="78.48" y2="616.50" stroke="#555" stroke-width="0.6"/>
<line x1="78.48" y1="554.67" x2="78.48" y2="588.40" stroke="#686868" stroke-width="0.85"/>
<path d="M78.48,587.90 C78.95,593.92 79.71,599.61 80.37,604.63 C80.08,607.25 79.05,610.60 78.48,612.10 C77.91,610.60 76.88,607.25 76.59,604.63 C77.25,599.61 78.01,593.92 78.48,587.90 Z" fill="#dedede" stroke="#686868" stroke-width="0.7"/>
<line x1="76.04" y1="604.63" x2="80.92" y2="604.63" stroke="#2a2a2a" stroke-width="0.8"/>
<line x1="83.36" y1="614.80" x2="83.36" y2="616.50" stroke="#555" stroke-width="0.6"/>
<line x1="83.36" y1="558.23" x2="83.36" y2="588.89" stroke="#686868" stroke-width="0.85"/>
<path d="M83.36,588.39 C83.83,594.29 84.58,599.86 85.24,604.77 C84.96,607.35 83.93,610.66 83.36,612.13 C82.80,610.66 81.77,607.35 81.49,604.77 C82.15,599.86 82.90,594.29 83.36,588.39 Z" fill="#dedede" stroke="#686868" stroke-width="0.7"/>
<line x1="80.92" y1="604.77" x2="85.81" y2="604.77" stroke="#2a2a2a" stroke-width="0.8"/>
<line x1="88.25" y1="614.80" x2="88.25" y2="616.50" stroke="#555" stroke-width="0.6"/>
<line x1="88.25" y1="535.34" x2="88.25" y2="589.38" stroke="#686868" stroke-width="0.85"/>
<path d="M88.25,588.88 C88.71,594.65 89.46,600.10 90.11,604.91 L89.92,611.56 L86.58,611.56 L86.39,604.91 C87.04,600.10 87.79,594.65 88.25,588.88 Z" fill="#dedede" stroke="#686868" stroke-width="0.7"/>
<line x1="85.81" y1="604.91" x2="90.69" y2="604.91" stroke="#2a2a2a" stroke-width="0.8"/>
<line x1="93.13" y1="614.80" x2="93.13" y2="616.50" stroke="#555" stroke-width="0.6"/>
<line x1="93.13" y1="585.71" x2="93.13" y2="589.86" stroke="#686868" stroke-width="0.85"/>
<path d="M93.13,589.36 C93.60,595.01 94.33,600.35 94.98,605.05 C94.70,607.55 93.69,610.76 93.13,612.19 C92.58,610.76 91.57,607.55 91.29,605.05 C91.94,600.35 92.67,595.01 93.13,589.36 Z" fill="#dedede" stroke="#686868" stroke-width="0.7"/>
<line x1="90.69" y1="605.05" x2="95.58" y2="605.05" stroke="#2a2a2a" stroke-width="0.8"/>
<line x1="98.02" y1="614.80" x2="98.02" y2="616.50" stroke="#555" stroke-width="0.6"/>
<line x1="98.02" y1="536.35" x2="98.02" y2="590.35" stroke="#686868" stroke-width="0.85"/>
<path d="M98.02,589.85 C98.48,595.37 99.21,600.59 99.85,605.19 C99.57,607.65 98.57,610.81 98.02,612.22 C97.47,610.81 96.47,607.65 96.19,605.19 C96.83,600.59 97.56,595.37 98.02,589.85 Z" fill="#dedede" stroke="#686868" stroke-width="0.7"/>
<line x1="95.58" y1="605.19" x2="100.46" y2="605.19" stroke="#2a2a2a" stroke-width="0.8"/>
<line x1="102.91" y1="614.80" x2="102.91" y2="616.50" stroke="#555" stroke-width="0.6"/>
<line x1="102.91" y1="553.65" x2="102.91" y2="590.83" stroke="#686868" stroke-width="0.85"/>
<path d="M102.91,590.33 C103.36,595.73 104.08,600.83 104.72,605.33 C104.45,607.75 103.45,610.87 102.91,612.25 C102.36,610.87 101.36,607.75 101.09,605.33 C101.73,600.83 102.45,595.73 102.91,590.33 Z" fill="#dedede" stroke="#686868" stroke-width="0.7"/>
<line x1="100.46" y1="605.33" x2="105.35" y2="605.33" stroke="#2a2a2a" stroke-width="0.8"/>
<line x1="107.79" y1="614.80" x2="107.79" y2="616.50" stroke="#555" stroke-width="0.6"/>
<line x1="107.79" y1="554.16" x2="107.79" y2="591.30" stroke="#686868" stroke-width="0.85"/>
<path d="M107.79,590.80 C108.24,596.08 108.96,601.07 109.59,605.47 C109.32,607.86 108.33,610.92 107.79,612.28 C107.25,610.92 106.26,607.86 105.99,605.47 C106.62,601.07 107.34,596.08 107.79,590.80 Z" fill="#dedede" stroke="#686868" stroke-width="0.7"/>
<line x1="105.35" y1="605.47" x2="110.23" y2="605.47" stroke="#2a2a2a" stroke-width="0.8"/>
<line x1="112.67" y1="614.80" x2="112.67" y2="616.50" stroke="#555" stroke-width="0.6"/>
<line x1="112.67" y1="553.14" x2="112.67" y2="591.78" stroke="#686868" stroke-width="0.85"/>
<path d="M112.67,591.28 C113.12,596.44 113.84,601.31 114.46,605.61 C114.19,607.96 113.21,610.97 112.67,612.31 C112.14,610.97 111.16,607.96 110.89,605.61 C111.51,601.31 112.23,596.44 112.67,591.28 Z" fill="#dedede" stroke="#686868" stroke-width="0.7"/>
<line x1="110.23" y1="605.61" x2="115.12" y2="605.61" stroke="#2a2a2a" stroke-width="0.8"/>
<line x1="117.56" y1="614.80" x2="117.56" y2="616.50" stroke="#555" stroke-width="0.6"/>
<line x1="117.56" y1="522.62" x2="117.56" y2="592.25" stroke="#686868" stroke-width="0.85"/>
<path d="M117.56,591.75 C118.00,596.79 118.71,601.55 119.33,605.75 C119.07,608.06 118.09,611.02 117.56,612.34 C117.03,611.02 116.05,608.06 115.79,605.75 C116.41,601.55 117.12,596.79 117.56,591.75 Z" fill="#dedede" stroke="#686868" stroke-width="0.7"/>
<line x1="115.12" y1="605.75" x2="120.00" y2="605.75" stroke="#2a2a2a" stroke-width="0.8"/>
<line x1="122.44" y1="614.80" x2="122.44" y2="616.50" stroke="#555" stroke-width="0.6"/>
<line x1="122.44" y1="554.67" x2="122.44" y2="592.71" stroke="#686868" stroke-width="0.85"/>
<path d="M122.44,592.21 C122.88,597.14 123.59,601.79 124.20,605.89 L124.03,611.77 L120.86,611.77 L120.69,605.89 C121.30,601.79 122.01,597.14 122.44,592.21 Z" fill="#dedede" stroke="#686868" stroke-width="0.7"/>
<line x1="120.00" y1="605.89" x2="124.89" y2="605.89" stroke="#2a2a2a" stroke-width="0.8"/>
<line x1="127.33" y1="614.80" x2="127.33" y2="616.50" stroke="#555" stroke-width="0.6"/>
<line x1="127.33" y1="546.53" x2="127.33" y2="593.18" stroke="#686868" stroke-width="0.85"/>
<path d="M127.33,592.68 C127.77,597.49 128.46,602.03 129.07,606.03 C128.81,608.26 127.85,611.13 127.33,612.40 C126.81,611.13 125.85,608.26 125.59,606.03 C126.20,602.03 126.89,597.49 127.33,592.68 Z" fill="#dedede" stroke="#686868" stroke-width="0.7"/>
<line x1="124.89" y1="606.03" x2="129.77" y2="606.03" stroke="#2a2a2a" stroke-width="0.8"/>
<line x1="132.22" y1="614.80" x2="132.22" y2="616.50" stroke="#555" stroke-width="0.6"/>
<line x1="132.22" y1="532.28" x2="132.22" y2="593.64" stroke="#686868" stroke-width="0.85"/>
<path d="M132.22,593.14 C132.65,597.83 133.34,602.26 133.94,606.17 C133.68,608.36 132.73,611.18 132.22,612.43 C131.70,611.18 130.75,608.36 130.49,606.17 C131.09,602.26 131.78,597.83 132.22,593.14 Z" fill="#dedede" stroke="#686868" stroke-width="0.7"/>
<line x1="129.77" y1="606.17" x2="134.66" y2="606.17" stroke="#2a2a2a" stroke-width="0.8"/>
<line x1="137.10" y1="614.80" x2="137.10" y2="616.50" stroke="#555" stroke-width="0.6"/>
<line x1="137.10" y1="537.88" x2="137.10" y2="594.10" stroke="#686868" stroke-width="0.85"/>
<path d="M137.10,593.60 C137.53,598.17 138.21,602.50 138.81,606.31 C138.56,608.47 137.61,611.23 137.10,612.46 C136.59,611.23 135.64,608.47 135.39,606.31 C135.99,602.50 136.67,598.17 137.10,593.60 Z" fill="#dedede" stroke="#686868" stroke-width="0.7"/>
<line x1="134.66" y1="606.31" x2="139.54" y2="606.31" stroke="#2a2a2a" stroke-width="0.8"/>
<line x1="141.98" y1="614.80" x2="141.98" y2="616.50" stroke="#555" stroke-width="0.6"/>
<line x1="141.98" y1="581.13" x2="141.98" y2="594.63" stroke="#686868" stroke-width="0.85"/>
<path d="M141.98,594.13 C142.41,598.58 143.09,602.78 143.68,606.48 C143.43,608.59 142.49,611.30 141.98,612.50 C141.48,611.30 140.54,608.59 140.29,606.48 C140.88,602.78 141.56,598.58 141.98,594.13 Z" fill="#dedede" stroke="#686868" stroke-width="0.7"/>
<line x1="139.54" y1="606.48" x2="144.43" y2="606.48" stroke="#2a2a2a" stroke-width="0.8"/>
<line x1="146.87" y1="614.80" x2="146.87" y2="616.50" stroke="#555" stroke-width="0.6"/>
<line x1="146.87" y1="589.78" x2="146.87" y2="595.17" stroke="#686868" stroke-width="0.85"/>
<path d="M146.87,594.67 C147.29,598.98 147.96,603.05 148.55,606.64 C148.30,608.71 147.38,611.36 146.87,612.54 C146.36,611.36 145.44,608.71 145.19,606.64 C145.78,603.05 146.45,598.98 146.87,594.67 Z" fill="#dedede" stroke="#686868" stroke-width="0.7"/>
<line x1="144.43" y1="606.64" x2="149.31" y2="606.64" stroke="#2a2a2a" stroke-width="0.8"/>
<line x1="151.75" y1="614.80" x2="151.75" y2="616.50" stroke="#555" stroke-width="0.6"/>
<line x1="151.75" y1="570.44" x2="151.75" y2="595.69" stroke="#686868" stroke-width="0.85"/>
<path d="M151.75,595.19 C152.17,599.38 152.84,603.32 153.42,606.81 C153.17,608.83 152.26,611.42 151.75,612.57 C151.25,611.42 150.34,608.83 150.09,606.81 C150.67,603.32 151.34,599.38 151.75,595.19 Z" fill="#dedede" stroke="#686868" stroke-width="0.7"/>
<line x1="149.31" y1="606.81" x2="154.20" y2="606.81" stroke="#2a2a2a" stroke-width="0.8"/>
<line x1="156.64" y1="614.80" x2="156.64" y2="616.50" stroke="#555" stroke-width="0.6"/>
<line x1="156.64" y1="526.18" x2="156.64" y2="596.22" stroke="#686868" stroke-width="0.85"/>
<path d="M156.64,595.72 C157.05,599.77 157.72,603.60 158.30,606.98 L158.13,612.01 L155.15,612.01 L154.98,606.98 C155.56,603.60 156.23,599.77 156.64,595.72 Z" fill="#dedede" stroke="#686868" stroke-width="0.7"/>
<line x1="154.20" y1="606.98" x2="159.08" y2="606.98" stroke="#2a2a2a" stroke-width="0.8"/>
<line x1="161.53" y1="614.80" x2="161.53" y2="616.50" stroke="#555" stroke-width="0.6"/>
<line x1="161.53" y1="532.79" x2="161.53" y2="596.73" stroke="#686868" stroke-width="0.85"/>
<path d="M161.53,596.23 C161.94,600.16 162.59,603.87 163.17,607.14 C162.92,609.07 162.02,611.55 161.53,612.65 C161.03,611.55 160.13,609.07 159.88,607.14 C160.46,603.87 161.11,600.16 161.53,596.23 Z" fill="#dedede" stroke="#686868" stroke-width="0.7"/>
<line x1="159.08" y1="607.14" x2="163.97" y2="607.14" stroke="#2a2a2a" stroke-width="0.8"/>
<line x1="166.41" y1="614.80" x2="166.41" y2="616.50" stroke="#555" stroke-width="0.6"/>
<line x1="166.41" y1="546.02" x2="166.41" y2="597.25" stroke="#686868" stroke-width="0.85"/>
<path d="M166.41,596.75 C166.82,600.55 167.47,604.14 168.04,607.31 C167.79,609.19 166.90,611.61 166.41,612.68 C165.92,611.61 165.03,609.19 164.78,607.31 C165.35,604.14 166.00,600.55 166.41,596.75 Z" fill="#dedede" stroke="#686868" stroke-width="0.7"/>
<line x1="163.97" y1="607.31" x2="168.85" y2="607.31" stroke="#2a2a2a" stroke-width="0.8"/>
<line x1="171.29" y1="614.80" x2="171.29" y2="616.50" stroke="#555" stroke-width="0.6"/>
<line x1="171.29" y1="579.09" x2="171.29" y2="597.76" stroke="#686868" stroke-width="0.85"/>
<path d="M171.29,597.26 C171.70,600.94 172.34,604.41 172.91,607.47 C172.67,609.31 171.78,611.67 171.29,612.72 C170.81,611.67 169.92,609.31 169.68,607.47 C170.25,604.41 170.89,600.94 171.29,597.26 Z" fill="#dedede" stroke="#686868" stroke-width="0.7"/>
<line x1="168.85" y1="607.47" x2="173.74" y2="607.47" stroke="#2a2a2a" stroke-width="0.8"/>
<line x1="176.18" y1="614.80" x2="176.18" y2="616.50" stroke="#555" stroke-width="0.6"/>
<line x1="176.18" y1="557.72" x2="176.18" y2="598.26" stroke="#686868" stroke-width="0.85"/>
<path d="M176.18,597.76 C176.58,601.32 177.22,604.67 177.78,607.64 C177.54,609.43 176.66,611.73 176.18,612.76 C175.70,611.73 174.82,609.43 174.58,607.64 C175.14,604.67 175.78,601.32 176.18,597.76 Z" fill="#dedede" stroke="#686868" stroke-width="0.7"/>
<line x1="173.74" y1="607.64" x2="178.62" y2="607.64" stroke="#2a2a2a" stroke-width="0.8"/>
<line x1="181.06" y1="614.80" x2="181.06" y2="616.50" stroke="#555" stroke-width="0.6"/>
<line x1="181.06" y1="552.64" x2="181.06" y2="598.76" stroke="#686868" stroke-width="0.85"/>
<path d="M181.06,598.26 C181.46,601.70 182.09,604.94 182.65,607.80 C182.41,609.55 181.54,611.79 181.06,612.79 C180.59,611.79 179.72,609.55 179.48,607.80 C180.04,604.94 180.67,601.70 181.06,598.26 Z" fill="#dedede" stroke="#686868" stroke-width="0.7"/>
<line x1="178.62" y1="607.80" x2="183.51" y2="607.80" stroke="#2a2a2a" stroke-width="0.8"/>
<line x1="185.95" y1="614.80" x2="185.95" y2="616.50" stroke="#555" stroke-width="0.6"/>
<line x1="185.95" y1="571.97" x2="185.95" y2="599.26" stroke="#686868" stroke-width="0.85"/>
<path d="M185.95,598.76 C186.34,602.08 186.97,605.21 187.52,607.97 C187.28,609.67 186.42,611.86 185.95,612.83 C185.48,611.86 184.62,609.67 184.38,607.97 C184.93,605.21 185.56,602.08 185.95,598.76 Z" fill="#dedede" stroke="#686868" stroke-width="0.7"/>
<line x1="183.51" y1="607.97" x2="188.39" y2="607.97" stroke="#2a2a2a" stroke-width="0.8"/>
<line x1="190.84" y1="614.80" x2="190.84" y2="616.50" stroke="#555" stroke-width="0.6"/>
<line x1="190.84" y1="537.88" x2="190.84" y2="599.75" stroke="#686868" stroke-width="0.85"/>
<path d="M190.84,599.25 C191.22,602.45 191.85,605.47 192.39,608.13 L192.23,612.27 L189.44,612.27 L189.28,608.13 C189.82,605.47 190.45,602.45 190.84,599.25 Z" fill="#dedede" stroke="#686868" stroke-width="0.7"/>
<line x1="188.39" y1="608.13" x2="193.28" y2="608.13" stroke="#2a2a2a" stroke-width="0.8"/>
<line x1="195.72" y1="614.80" x2="195.72" y2="616.50" stroke="#555" stroke-width="0.6"/>
<line x1="195.72" y1="571.97" x2="195.72" y2="600.24" stroke="#686868" stroke-width="0.85"/>
<path d="M195.72,599.74 C196.10,602.82 196.72,605.73 197.26,608.30 C197.03,609.91 196.18,611.98 195.72,612.90 C195.26,611.98 194.41,609.91 194.18,608.30 C194.72,605.73 195.34,602.82 195.72,599.74 Z" fill="#dedede" stroke="#686868" stroke-width="0.7"/>
<line x1="193.28" y1="608.30" x2="198.16" y2="608.30" stroke="#2a2a2a" stroke-width="0.8"/>
<line x1="200.60" y1="614.80" x2="200.60" y2="616.50" stroke="#555" stroke-width="0.6"/>
<line x1="200.60" y1="561.79" x2="200.60" y2="600.72" stroke="#686868" stroke-width="0.85"/>
<path d="M200.60,600.22 C200.99,603.19 201.60,605.99 202.13,608.46 C201.90,610.03 201.06,612.04 200.60,612.94 C200.15,612.04 199.31,610.03 199.08,608.46 C199.61,605.99 200.22,603.19 200.60,600.22 Z" fill="#dedede" stroke="#686868" stroke-width="0.7"/>
<line x1="198.16" y1="608.46" x2="203.05" y2="608.46" stroke="#2a2a2a" stroke-width="0.8"/>
<line x1="205.49" y1="614.80" x2="205.49" y2="616.50" stroke="#555" stroke-width="0.6"/>
<line x1="205.49" y1="533.81" x2="205.49" y2="601.20" stroke="#686868" stroke-width="0.85"/>
<path d="M205.49,600.70 C205.87,603.55 206.47,606.25 207.00,608.63 C206.77,610.15 205.94,612.11 205.49,612.97 C205.04,612.11 204.21,610.15 203.98,608.63 C204.51,606.25 205.11,603.55 205.49,600.70 Z" fill="#dedede" stroke="#686868" stroke-width="0.7"/>
<line x1="203.05" y1="608.63" x2="207.93" y2="608.63" stroke="#2a2a2a" stroke-width="0.8"/>
<line x1="210.38" y1="614.80" x2="210.38" y2="616.50" stroke="#555" stroke-width="0.6"/>
<line x1="210.38" y1="571.97" x2="210.38" y2="601.67" stroke="#686868" stroke-width="0.85"/>
<path d="M210.38,601.17 C210.75,603.92 211.35,606.51 211.87,608.79 C211.65,610.27 210.82,612.17 210.38,613.01 C209.93,612.17 209.10,610.27 208.88,608.79 C209.40,606.51 210.00,603.92 210.38,601.17 Z" fill="#dedede" stroke="#686868" stroke-width="0.7"/>
<line x1="207.93" y1="608.79" x2="212.82" y2="608.79" stroke="#2a2a2a" stroke-width="0.8"/>
<line x1="215.26" y1="614.80" x2="215.26" y2="616.50" stroke="#555" stroke-width="0.6"/>
<line x1="215.26" y1="568.92" x2="215.26" y2="602.14" stroke="#686868" stroke-width="0.85"/>
<path d="M215.26,601.64 C215.63,604.28 216.22,606.76 216.74,608.96 C216.52,610.39 215.70,612.23 215.26,613.05 C214.82,612.23 214.00,610.39 213.78,608.96 C214.30,606.76 214.89,604.28 215.26,601.64 Z" fill="#dedede" stroke="#686868" stroke-width="0.7"/>
<line x1="212.82" y1="608.96" x2="217.70" y2="608.96" stroke="#2a2a2a" stroke-width="0.8"/>
<line x1="220.15" y1="614.80" x2="220.15" y2="616.50" stroke="#555" stroke-width="0.6"/>
<line x1="220.15" y1="554.67" x2="220.15" y2="602.61" stroke="#686868" stroke-width="0.85"/>
<path d="M220.15,602.11 C220.51,604.63 221.10,607.02 221.61,609.12 C221.39,610.51 220.59,612.29 220.15,613.08 C219.70,612.29 218.90,610.51 218.68,609.12 C219.19,607.02 219.78,604.63 220.15,602.11 Z" fill="#dedede" stroke="#686868" stroke-width="0.7"/>
<line x1="217.70" y1="609.12" x2="222.59" y2="609.12" stroke="#2a2a2a" stroke-width="0.8"/>
<line x1="225.03" y1="614.80" x2="225.03" y2="616.50" stroke="#555" stroke-width="0.6"/>
<line x1="225.03" y1="588.76" x2="225.03" y2="603.07" stroke="#686868" stroke-width="0.85"/>
<path d="M225.03,602.57 C225.39,604.99 225.97,607.27 226.48,609.29 L226.34,612.52 L223.72,612.52 L223.58,609.29 C224.09,607.27 224.67,604.99 225.03,602.57 Z" fill="#dedede" stroke="#686868" stroke-width="0.7"/>
<line x1="222.59" y1="609.29" x2="227.47" y2="609.29" stroke="#2a2a2a" stroke-width="0.8"/>
<line x1="229.91" y1="614.80" x2="229.91" y2="616.50" stroke="#555" stroke-width="0.6"/>
<line x1="229.91" y1="580.62" x2="229.91" y2="603.53" stroke="#686868" stroke-width="0.85"/>
<path d="M229.91,603.03 C230.27,605.34 230.85,607.53 231.35,609.46 C231.14,610.75 230.35,612.42 229.91,613.16 C229.48,612.42 228.69,610.75 228.48,609.46 C228.98,607.53 229.56,605.34 229.91,603.03 Z" fill="#dedede" stroke="#686868" stroke-width="0.7"/>
<line x1="227.47" y1="609.46" x2="232.36" y2="609.46" stroke="#2a2a2a" stroke-width="0.8"/>
<line x1="234.80" y1="614.80" x2="234.80" y2="616.50" stroke="#555" stroke-width="0.6"/>
<line x1="234.80" y1="541.95" x2="234.80" y2="603.98" stroke="#686868" stroke-width="0.85"/>
<path d="M234.80,603.48 C235.16,605.69 235.73,607.78 236.22,609.62 C236.01,610.87 235.23,612.48 234.80,613.19 C234.37,612.48 233.59,610.87 233.38,609.62 C233.87,607.78 234.44,605.69 234.80,603.48 Z" fill="#dedede" stroke="#686868" stroke-width="0.7"/>
<line x1="232.36" y1="609.62" x2="237.24" y2="609.62" stroke="#2a2a2a" stroke-width="0.8"/>
<line x1="239.69" y1="614.80" x2="239.69" y2="616.50" stroke="#555" stroke-width="0.6"/>
<line x1="239.69" y1="571.97" x2="239.69" y2="604.12" stroke="#686868" stroke-width="0.85"/>
<path d="M239.69,603.62 C240.04,605.80 240.60,607.85 241.09,609.67 C240.88,610.91 240.11,612.50 239.69,613.20 C239.26,612.50 238.49,610.91 238.28,609.67 C238.77,607.85 239.33,605.80 239.69,603.62 Z" fill="#dedede" stroke="#686868" stroke-width="0.7"/>
<line x1="237.24" y1="609.67" x2="242.13" y2="609.67" stroke="#2a2a2a" stroke-width="0.8"/>
<line x1="244.57" y1="614.80" x2="244.57" y2="616.50" stroke="#555" stroke-width="0.6"/>
<line x1="244.57" y1="567.90" x2="244.57" y2="604.25" stroke="#686868" stroke-width="0.85"/>
<path d="M244.57,603.75 C244.92,605.90 245.48,607.93 245.96,609.72 C245.76,610.94 244.99,612.52 244.57,613.21 C244.15,612.52 243.38,610.94 243.18,609.72 C243.66,607.93 244.22,605.90 244.57,603.75 Z" fill="#dedede" stroke="#686868" stroke-width="0.7"/>
<line x1="242.13" y1="609.72" x2="247.01" y2="609.72" stroke="#2a2a2a" stroke-width="0.8"/>
<line x1="249.45" y1="614.80" x2="249.45" y2="616.50" stroke="#555" stroke-width="0.6"/>
<line x1="249.45" y1="587.74" x2="249.45" y2="604.39" stroke="#686868" stroke-width="0.85"/>
<path d="M249.45,603.89 C249.80,606.01 250.35,608.01 250.84,609.77 C250.63,610.98 249.87,612.54 249.45,613.23 C249.04,612.54 248.28,610.98 248.07,609.77 C248.56,608.01 249.11,606.01 249.45,603.89 Z" fill="#dedede" stroke="#686868" stroke-width="0.7"/>
<line x1="247.01" y1="609.77" x2="251.90" y2="609.77" stroke="#2a2a2a" stroke-width="0.8"/>
<line x1="254.34" y1="614.80" x2="254.34" y2="616.50" stroke="#555" stroke-width="0.6"/>
<line x1="254.34" y1="599.44" x2="254.34" y2="604.53" stroke="#686868" stroke-width="0.85"/>
<path d="M254.34,604.03 C254.68,606.11 255.23,608.08 255.71,609.82 C255.50,611.02 254.75,612.55 254.34,613.24 C253.93,612.55 253.18,611.02 252.97,609.82 C253.45,608.08 254.00,606.11 254.34,604.03 Z" fill="#dedede" stroke="#686868" stroke-width="0.7"/>
<line x1="251.90" y1="609.82" x2="256.78" y2="609.82" stroke="#2a2a2a" stroke-width="0.8"/>
<line x1="259.22" y1="614.80" x2="259.22" y2="616.50" stroke="#555" stroke-width="0.6"/>
<line x1="259.22" y1="547.55" x2="259.22" y2="604.66" stroke="#686868" stroke-width="0.85"/>
<path d="M259.22,604.16 C259.56,606.22 260.10,608.16 260.58,609.88 L260.44,612.65 L258.01,612.65 L257.87,609.88 C258.35,608.16 258.89,606.22 259.22,604.16 Z" fill="#dedede" stroke="#686868" stroke-width="0.7"/>
<line x1="256.78" y1="609.88" x2="261.67" y2="609.88" stroke="#2a2a2a" stroke-width="0.8"/>
<line x1="264.11" y1="614.80" x2="264.11" y2="616.50" stroke="#555" stroke-width="0.6"/>
<line x1="264.11" y1="557.21" x2="264.11" y2="604.80" stroke="#686868" stroke-width="0.85"/>
<path d="M264.11,604.30 C264.44,606.32 264.98,608.24 265.45,609.93 C265.25,611.09 264.51,612.59 264.11,613.26 C263.71,612.59 262.97,611.09 262.77,609.93 C263.24,608.24 263.78,606.32 264.11,604.30 Z" fill="#dedede" stroke="#686868" stroke-width="0.7"/>
<line x1="261.67" y1="609.93" x2="266.55" y2="609.93" stroke="#2a2a2a" stroke-width="0.8"/>
<line x1="269.00" y1="614.80" x2="269.00" y2="616.50" stroke="#555" stroke-width="0.6"/>
<line x1="269.00" y1="585.20" x2="269.00" y2="604.93" stroke="#686868" stroke-width="0.85"/>
<path d="M269.00,604.43 C269.33,606.43 269.85,608.31 270.32,609.98 C270.12,611.13 269.39,612.61 269.00,613.27 C268.60,612.61 267.87,611.13 267.67,609.98 C268.14,608.31 268.66,606.43 269.00,604.43 Z" fill="#dedede" stroke="#686868" stroke-width="0.7"/>
<line x1="266.55" y1="609.98" x2="271.44" y2="609.98" stroke="#2a2a2a" stroke-width="0.8"/>
<line x1="273.88" y1="614.80" x2="273.88" y2="616.50" stroke="#555" stroke-width="0.6"/>
<line x1="273.88" y1="547.55" x2="273.88" y2="605.07" stroke="#686868" stroke-width="0.85"/>
<path d="M273.88,604.57 C274.21,606.53 274.73,608.39 275.19,610.03 C274.99,611.17 274.27,612.63 273.88,613.28 C273.49,612.63 272.77,611.17 272.57,610.03 C273.03,608.39 273.55,606.53 273.88,604.57 Z" fill="#dedede" stroke="#686868" stroke-width="0.7"/>
<line x1="271.44" y1="610.03" x2="276.32" y2="610.03" stroke="#2a2a2a" stroke-width="0.8"/>
<line x1="278.76" y1="614.80" x2="278.76" y2="616.50" stroke="#555" stroke-width="0.6"/>
<line x1="278.76" y1="548.56" x2="278.76" y2="605.20" stroke="#686868" stroke-width="0.85"/>
<path d="M278.76,604.70 C279.09,606.64 279.61,608.47 280.06,610.08 C279.86,611.20 279.15,612.65 278.76,613.29 C278.38,612.65 277.67,611.20 277.47,610.08 C277.92,608.47 278.44,606.64 278.76,604.70 Z" fill="#dedede" stroke="#686868" stroke-width="0.7"/>
<line x1="276.32" y1="610.08" x2="281.21" y2="610.08" stroke="#2a2a2a" stroke-width="0.8"/>
<line x1="283.65" y1="614.80" x2="283.65" y2="616.50" stroke="#555" stroke-width="0.6"/>
<line x1="283.65" y1="589.78" x2="283.65" y2="605.34" stroke="#686868" stroke-width="0.85"/>
<path d="M283.65,604.84 C283.97,606.74 284.48,608.54 284.93,610.13 C284.74,611.24 284.03,612.67 283.65,613.30 C283.27,612.67 282.56,611.24 282.37,610.13 C282.82,608.54 283.33,606.74 283.65,604.84 Z" fill="#dedede" stroke="#686868" stroke-width="0.7"/>
<line x1="281.21" y1="610.13" x2="286.09" y2="610.13" stroke="#2a2a2a" stroke-width="0.8"/>
<line x1="288.53" y1="614.80" x2="288.53" y2="616.50" stroke="#555" stroke-width="0.6"/>
<line x1="288.53" y1="540.42" x2="288.53" y2="605.46" stroke="#686868" stroke-width="0.85"/>
<path d="M288.53,604.96 C288.85,606.84 289.36,608.61 289.80,610.18 C289.61,611.28 288.91,612.69 288.53,613.32 C288.16,612.69 287.46,611.28 287.27,610.18 C287.71,608.61 288.22,606.84 288.53,604.96 Z" fill="#dedede" stroke="#686868" stroke-width="0.7"/>
<line x1="286.09" y1="610.18" x2="290.98" y2="610.18" stroke="#2a2a2a" stroke-width="0.8"/>
<line x1="293.42" y1="614.80" x2="293.42" y2="616.50" stroke="#555" stroke-width="0.6"/>
<line x1="293.42" y1="547.04" x2="293.42" y2="605.57" stroke="#686868" stroke-width="0.85"/>
<path d="M293.42,605.07 C293.73,606.93 294.23,608.68 294.67,610.23 L294.54,612.73 L292.30,612.73 L292.17,610.23 C292.61,608.68 293.11,606.93 293.42,605.07 Z" fill="#dedede" stroke="#686868" stroke-width="0.7"/>
<line x1="290.98" y1="610.23" x2="295.86" y2="610.23" stroke="#2a2a2a" stroke-width="0.8"/>
<line x1="298.30" y1="614.80" x2="298.30" y2="616.50" stroke="#555" stroke-width="0.6"/>
<line x1="298.30" y1="587.23" x2="298.30" y2="605.69" stroke="#686868" stroke-width="0.85"/>
<path d="M298.30,605.19 C298.61,607.02 299.11,608.75 299.54,610.28 C299.36,611.35 298.68,612.73 298.30,613.34 C297.93,612.73 297.25,611.35 297.07,610.28 C297.50,608.75 298.00,607.02 298.30,605.19 Z" fill="#dedede" stroke="#686868" stroke-width="0.7"/>
<line x1="295.86" y1="610.28" x2="300.75" y2="610.28" stroke="#2a2a2a" stroke-width="0.8"/>
<line x1="303.19" y1="614.80" x2="303.19" y2="616.50" stroke="#555" stroke-width="0.6"/>
<line x1="303.19" y1="584.18" x2="303.19" y2="605.81" stroke="#686868" stroke-width="0.85"/>
<path d="M303.19,605.31 C303.50,607.12 303.98,608.83 304.41,610.33 C304.23,611.39 303.56,612.75 303.19,613.35 C302.82,612.75 302.15,611.39 301.97,610.33 C302.40,608.83 302.88,607.12 303.19,605.31 Z" fill="#dedede" stroke="#686868" stroke-width="0.7"/>
<line x1="300.75" y1="610.33" x2="305.63" y2="610.33" stroke="#2a2a2a" stroke-width="0.8"/>
<line x1="308.07" y1="614.80" x2="308.07" y2="616.50" stroke="#555" stroke-width="0.6"/>
<line x1="308.07" y1="580.11" x2="308.07" y2="605.92" stroke="#686868" stroke-width="0.85"/>
<path d="M308.07,605.42 C308.38,607.21 308.86,608.90 309.28,610.38 C309.10,611.43 308.44,612.77 308.07,613.36 C307.71,612.77 307.05,611.43 306.87,610.38 C307.29,608.90 307.77,607.21 308.07,605.42 Z" fill="#dedede" stroke="#686868" stroke-width="0.7"/>
<line x1="305.63" y1="610.38" x2="310.52" y2="610.38" stroke="#2a2a2a" stroke-width="0.8"/>
<line x1="312.96" y1="614.80" x2="312.96" y2="616.50" stroke="#555" stroke-width="0.6"/>
<line x1="312.96" y1="559.25" x2="312.96" y2="606.04" stroke="#686868" stroke-width="0.85"/>
<path d="M312.96,605.54 C313.26,607.30 313.73,608.97 314.15,610.43 C313.97,611.46 313.32,612.78 312.96,613.37 C312.60,612.78 311.95,611.46 311.77,610.43 C312.19,608.97 312.66,607.30 312.96,605.54 Z" fill="#dedede" stroke="#686868" stroke-width="0.7"/>
<line x1="310.52" y1="610.43" x2="315.40" y2="610.43" stroke="#2a2a2a" stroke-width="0.8"/>
<line x1="317.84" y1="614.80" x2="317.84" y2="616.50" stroke="#555" stroke-width="0.6"/>
<line x1="317.84" y1="585.20" x2="317.84" y2="606.16" stroke="#686868" stroke-width="0.85"/>
<path d="M317.84,605.66 C318.14,607.40 318.61,609.04 319.02,610.49 C318.85,611.50 318.20,612.80 317.84,613.38 C317.49,612.80 316.84,611.50 316.67,610.49 C317.08,609.04 317.55,607.40 317.84,605.66 Z" fill="#dedede" stroke="#686868" stroke-width="0.7"/>
<line x1="315.40" y1="610.49" x2="320.29" y2="610.49" stroke="#2a2a2a" stroke-width="0.8"/>
<line x1="322.73" y1="614.80" x2="322.73" y2="616.50" stroke="#555" stroke-width="0.6"/>
<line x1="322.73" y1="576.04" x2="322.73" y2="606.27" stroke="#686868" stroke-width="0.85"/>
<path d="M322.73,605.77 C323.02,607.49 323.49,609.11 323.89,610.54 C323.72,611.54 323.08,612.82 322.73,613.39 C322.38,612.82 321.74,611.54 321.57,610.54 C321.97,609.11 322.44,607.49 322.73,605.77 Z" fill="#dedede" stroke="#686868" stroke-width="0.7"/>
<line x1="320.29" y1="610.54" x2="325.17" y2="610.54" stroke="#2a2a2a" stroke-width="0.8"/>
<line x1="327.61" y1="614.80" x2="327.61" y2="616.50" stroke="#555" stroke-width="0.6"/>
<line x1="327.61" y1="584.18" x2="327.61" y2="606.39" stroke="#686868" stroke-width="0.85"/>
<path d="M327.61,605.89 C327.90,607.58 328.36,609.18 328.76,610.59 L328.65,612.81 L326.58,612.81 L326.47,610.59 C326.87,609.18 327.33,607.58 327.61,605.89 Z" fill="#dedede" stroke="#686868" stroke-width="0.7"/>
<line x1="325.17" y1="610.59" x2="330.06" y2="610.59" stroke="#2a2a2a" stroke-width="0.8"/>
<line x1="332.50" y1="614.80" x2="332.50" y2="616.50" stroke="#555" stroke-width="0.6"/>
<line x1="332.50" y1="555.18" x2="332.50" y2="606.51" stroke="#686868" stroke-width="0.85"/>
<path d="M332.50,606.01 C332.78,607.68 333.24,609.25 333.63,610.64 C333.46,611.61 332.84,612.86 332.50,613.42 C332.16,612.86 331.54,611.61 331.37,610.64 C331.76,609.25 332.22,607.68 332.50,606.01 Z" fill="#dedede" stroke="#686868" stroke-width="0.7"/>
<line x1="330.06" y1="610.64" x2="334.94" y2="610.64" stroke="#2a2a2a" stroke-width="0.8"/>
<line x1="337.38" y1="614.80" x2="337.38" y2="616.50" stroke="#555" stroke-width="0.6"/>
<line x1="337.38" y1="587.74" x2="337.38" y2="606.63" stroke="#686868" stroke-width="0.85"/>
<path d="M337.38,606.13 C337.66,607.77 338.11,609.32 338.50,610.69 C338.34,611.65 337.72,612.88 337.38,613.43 C337.05,612.88 336.43,611.65 336.27,610.69 C336.66,609.32 337.11,607.77 337.38,606.13 Z" fill="#dedede" stroke="#686868" stroke-width="0.7"/>
<line x1="334.94" y1="610.69" x2="339.83" y2="610.69" stroke="#2a2a2a" stroke-width="0.8"/>
<line x1="342.27" y1="614.80" x2="342.27" y2="616.50" stroke="#555" stroke-width="0.6"/>
<line x1="342.27" y1="595.37" x2="342.27" y2="606.74" stroke="#686868" stroke-width="0.85"/>
<path d="M342.27,606.24 C342.55,607.86 342.99,609.39 343.38,610.74 C343.21,611.68 342.60,612.90 342.27,613.44 C341.94,612.90 341.33,611.68 341.16,610.74 C341.55,609.39 341.99,607.86 342.27,606.24 Z" fill="#dedede" stroke="#686868" stroke-width="0.7"/>
<line x1="339.83" y1="610.74" x2="344.71" y2="610.74" stroke="#2a2a2a" stroke-width="0.8"/>
<line x1="347.15" y1="614.80" x2="347.15" y2="616.50" stroke="#555" stroke-width="0.6"/>
<line x1="347.15" y1="599.44" x2="347.15" y2="606.86" stroke="#686868" stroke-width="0.85"/>
<path d="M347.15,606.36 C347.43,607.95 347.86,609.46 348.25,610.79 C348.08,611.72 347.48,612.92 347.15,613.45 C346.83,612.92 346.23,611.72 346.06,610.79 C346.45,609.46 346.88,607.95 347.15,606.36 Z" fill="#dedede" stroke="#686868" stroke-width="0.7"/>
<line x1="344.71" y1="610.79" x2="349.60" y2="610.79" stroke="#2a2a2a" stroke-width="0.8"/>
<line x1="352.04" y1="614.80" x2="352.04" y2="616.50" stroke="#555" stroke-width="0.6"/>
<line x1="352.04" y1="549.58" x2="352.04" y2="606.98" stroke="#686868" stroke-width="0.85"/>
<path d="M352.04,606.48 C352.31,608.05 352.74,609.53 353.12,610.84 C352.95,611.76 352.36,612.94 352.04,613.46 C351.72,612.94 351.13,611.76 350.96,610.84 C351.34,609.53 351.77,608.05 352.04,606.48 Z" fill="#dedede" stroke="#686868" stroke-width="0.7"/>
<line x1="349.60" y1="610.84" x2="354.48" y2="610.84" stroke="#2a2a2a" stroke-width="0.8"/>
<line x1="356.92" y1="614.80" x2="356.92" y2="616.50" stroke="#555" stroke-width="0.6"/>
<line x1="356.92" y1="600.97" x2="356.92" y2="607.09" stroke="#686868" stroke-width="0.85"/>
<path d="M356.92,606.59 C357.19,608.14 357.62,609.60 357.99,610.89 C357.83,611.80 357.24,612.96 356.92,613.47 C356.61,612.96 356.02,611.80 355.86,610.89 C356.23,609.60 356.66,608.14 356.92,606.59 Z" fill="#dedede" stroke="#686868" stroke-width="0.7"/>
<line x1="354.48" y1="610.89" x2="359.37" y2="610.89" stroke="#2a2a2a" stroke-width="0.8"/>
<line x1="361.81" y1="614.80" x2="361.81" y2="616.50" stroke="#555" stroke-width="0.6"/>
<line x1="361.81" y1="602.50" x2="361.81" y2="607.21" stroke="#686868" stroke-width="0.85"/>
<path d="M361.81,606.71 C362.07,608.23 362.49,609.67 362.86,610.94 L362.75,612.88 L360.87,612.88 L360.76,610.94 C361.13,609.67 361.55,608.23 361.81,606.71 Z" fill="#dedede" stroke="#686868" stroke-width="0.7"/>
<line x1="359.37" y1="610.94" x2="364.25" y2="610.94" stroke="#2a2a2a" stroke-width="0.8"/>
<line x1="366.69" y1="614.80" x2="366.69" y2="616.50" stroke="#555" stroke-width="0.6"/>
<line x1="366.69" y1="591.81" x2="366.69" y2="607.33" stroke="#686868" stroke-width="0.85"/>
<path d="M366.69,606.83 C366.95,608.33 367.37,609.74 367.73,610.99 C367.57,611.87 367.00,612.99 366.69,613.49 C366.39,612.99 365.82,611.87 365.66,610.99 C366.02,609.74 366.44,608.33 366.69,606.83 Z" fill="#dedede" stroke="#686868" stroke-width="0.7"/>
<line x1="364.25" y1="610.99" x2="369.14" y2="610.99" stroke="#2a2a2a" stroke-width="0.8"/>
<line x1="371.58" y1="614.80" x2="371.58" y2="616.50" stroke="#555" stroke-width="0.6"/>
<line x1="371.58" y1="570.44" x2="371.58" y2="607.44" stroke="#686868" stroke-width="0.85"/>
<path d="M371.58,606.94 C371.83,608.42 372.24,609.82 372.60,611.05 C372.45,611.91 371.89,613.01 371.58,613.51 C371.27,613.01 370.71,611.91 370.56,611.05 C370.92,609.82 371.33,608.42 371.58,606.94 Z" fill="#dedede" stroke="#686868" stroke-width="0.7"/>
<line x1="369.14" y1="611.05" x2="374.02" y2="611.05" stroke="#2a2a2a" stroke-width="0.8"/>
<line x1="376.46" y1="614.80" x2="376.46" y2="616.50" stroke="#555" stroke-width="0.6"/>
<line x1="376.46" y1="603.52" x2="376.46" y2="607.56" stroke="#686868" stroke-width="0.85"/>
<path d="M376.46,607.06 C376.72,608.51 377.12,609.89 377.47,611.10 C377.32,611.94 376.77,613.03 376.46,613.52 C376.16,613.03 375.61,611.94 375.46,611.10 C375.81,609.89 376.21,608.51 376.46,607.06 Z" fill="#dedede" stroke="#686868" stroke-width="0.7"/>
<line x1="374.02" y1="611.10" x2="378.91" y2="611.10" stroke="#2a2a2a" stroke-width="0.8"/>
<line x1="381.35" y1="614.80" x2="381.35" y2="616.50" stroke="#555" stroke-width="0.6"/>
<line x1="381.35" y1="557.72" x2="381.35" y2="607.68" stroke="#686868" stroke-width="0.85"/>
<path d="M381.35,607.18 C381.60,608.61 381.99,609.96 382.34,611.15 C382.19,611.98 381.65,613.05 381.35,613.53 C381.05,613.05 380.51,611.98 380.36,611.15 C380.71,609.96 381.10,608.61 381.35,607.18 Z" fill="#dedede" stroke="#686868" stroke-width="0.7"/>
<line x1="378.91" y1="611.15" x2="383.79" y2="611.15" stroke="#2a2a2a" stroke-width="0.8"/>
<line x1="386.23" y1="614.80" x2="386.23" y2="616.50" stroke="#555" stroke-width="0.6"/>
<line x1="386.23" y1="598.43" x2="386.23" y2="607.80" stroke="#686868" stroke-width="0.85"/>
<path d="M386.23,607.30 C386.48,608.70 386.87,610.03 387.21,611.20 C387.06,612.02 386.53,613.07 386.23,613.54 C385.94,613.07 385.41,612.02 385.26,611.20 C385.60,610.03 385.99,608.70 386.23,607.30 Z" fill="#dedede" stroke="#686868" stroke-width="0.7"/>
<line x1="383.79" y1="611.20" x2="388.68" y2="611.20" stroke="#2a2a2a" stroke-width="0.8"/>
<line x1="391.12" y1="614.80" x2="391.12" y2="616.50" stroke="#555" stroke-width="0.6"/>
<line x1="391.12" y1="605.55" x2="391.12" y2="607.91" stroke="#686868" stroke-width="0.85"/>
<path d="M391.12,607.41 C391.36,608.79 391.74,610.10 392.08,611.25 C391.94,612.05 391.41,613.09 391.12,613.55 C390.83,613.09 390.30,612.05 390.16,611.25 C390.50,610.10 390.88,608.79 391.12,607.41 Z" fill="#dedede" stroke="#686868" stroke-width="0.7"/>
<line x1="388.68" y1="611.25" x2="393.56" y2="611.25" stroke="#2a2a2a" stroke-width="0.8"/>
<line x1="396.00" y1="614.80" x2="396.00" y2="616.50" stroke="#555" stroke-width="0.6"/>
<line x1="396.00" y1="605.04" x2="396.00" y2="608.03" stroke="#686868" stroke-width="0.85"/>
<path d="M396.00,607.53 C396.24,608.89 396.62,610.17 396.95,611.30 L396.86,612.96 L395.15,612.96 L395.06,611.30 C395.39,610.17 395.77,608.89 396.00,607.53 Z" fill="#dedede" stroke="#686868" stroke-width="0.7"/>
<line x1="393.56" y1="611.30" x2="398.45" y2="611.30" stroke="#2a2a2a" stroke-width="0.8"/>
<line x1="400.89" y1="614.80" x2="400.89" y2="616.50" stroke="#555" stroke-width="0.6"/>
<line x1="400.89" y1="569.93" x2="400.89" y2="608.15" stroke="#686868" stroke-width="0.85"/>
<path d="M400.89,607.65 C401.12,608.98 401.50,610.24 401.82,611.35 C401.68,612.13 401.17,613.13 400.89,613.57 C400.61,613.13 400.10,612.13 399.96,611.35 C400.28,610.24 400.66,608.98 400.89,607.65 Z" fill="#dedede" stroke="#686868" stroke-width="0.7"/>
<line x1="398.45" y1="611.35" x2="403.33" y2="611.35" stroke="#2a2a2a" stroke-width="0.8"/>
<line x1="405.77" y1="614.80" x2="405.77" y2="616.50" stroke="#555" stroke-width="0.6"/>
<line x1="405.77" y1="581.64" x2="405.77" y2="608.26" stroke="#686868" stroke-width="0.85"/>
<path d="M405.77,607.76 C406.00,609.07 406.37,610.31 406.69,611.40 C406.55,612.17 406.05,613.15 405.77,613.58 C405.50,613.15 405.00,612.17 404.86,611.40 C405.18,610.31 405.55,609.07 405.77,607.76 Z" fill="#dedede" stroke="#686868" stroke-width="0.7"/>
<line x1="403.33" y1="611.40" x2="408.22" y2="611.40" stroke="#2a2a2a" stroke-width="0.8"/>
<line x1="410.66" y1="614.80" x2="410.66" y2="616.50" stroke="#555" stroke-width="0.6"/>
<line x1="410.66" y1="608.60" x2="410.66" y2="609.60" stroke="#686868" stroke-width="0.85"/>
<path d="M410.66,609.10 C410.89,609.95 411.25,610.75 411.56,611.45 C411.43,612.20 410.93,613.17 410.66,613.60 C410.39,613.17 409.89,612.20 409.76,611.45 C410.07,610.75 410.43,609.95 410.66,609.10 Z" fill="#dedede" stroke="#686868" stroke-width="0.7"/>
<line x1="408.22" y1="611.45" x2="413.10" y2="611.45" stroke="#2a2a2a" stroke-width="0.8"/>
<line x1="415.54" y1="614.80" x2="415.54" y2="616.50" stroke="#555" stroke-width="0.6"/>
<line x1="415.54" y1="592.83" x2="415.54" y2="608.50" stroke="#686868" stroke-width="0.85"/>
<path d="M415.54,608.00 C415.77,609.26 416.12,610.45 416.43,611.50 C416.30,612.24 415.81,613.19 415.54,613.61 C415.28,613.19 414.79,612.24 414.66,611.50 C414.97,610.45 415.32,609.26 415.54,608.00 Z" fill="#dedede" stroke="#686868" stroke-width="0.7"/>
<line x1="413.10" y1="611.50" x2="417.99" y2="611.50" stroke="#2a2a2a" stroke-width="0.8"/>
<line x1="420.43" y1="614.80" x2="420.43" y2="616.50" stroke="#555" stroke-width="0.6"/>
<line x1="420.43" y1="580.62" x2="420.43" y2="608.61" stroke="#686868" stroke-width="0.85"/>
<path d="M420.43,608.11 C420.65,609.35 421.00,610.52 421.31,611.55 C421.18,612.28 420.69,613.21 420.43,613.62 C420.17,613.21 419.68,612.28 419.55,611.55 C419.86,610.52 420.21,609.35 420.43,608.11 Z" fill="#dedede" stroke="#686868" stroke-width="0.7"/>
<line x1="417.99" y1="611.55" x2="422.87" y2="611.55" stroke="#2a2a2a" stroke-width="0.8"/>
<line x1="425.31" y1="614.80" x2="425.31" y2="616.50" stroke="#555" stroke-width="0.6"/>
<line x1="425.31" y1="606.06" x2="425.31" y2="608.73" stroke="#686868" stroke-width="0.85"/>
<path d="M425.31,608.23 C425.53,609.45 425.89,610.59 426.19,611.61 C426.06,612.31 425.58,613.22 425.31,613.63 C425.05,613.22 424.57,612.31 424.44,611.61 C424.74,610.59 425.10,609.45 425.31,608.23 Z" fill="#dedede" stroke="#686868" stroke-width="0.7"/>
<line x1="422.87" y1="611.61" x2="427.76" y2="611.61" stroke="#2a2a2a" stroke-width="0.8"/>
<line x1="430.20" y1="614.80" x2="430.20" y2="616.50" stroke="#555" stroke-width="0.6"/>
<line x1="430.20" y1="593.34" x2="430.20" y2="608.85" stroke="#686868" stroke-width="0.85"/>
<path d="M430.20,608.35 C430.42,609.54 430.77,610.66 431.08,611.66 L430.99,613.04 L429.41,613.04 L429.32,611.66 C429.63,610.66 429.98,609.54 430.20,608.35 Z" fill="#dedede" stroke="#686868" stroke-width="0.7"/>
<line x1="427.76" y1="611.66" x2="432.64" y2="611.66" stroke="#2a2a2a" stroke-width="0.8"/>
<line x1="435.08" y1="614.80" x2="435.08" y2="616.50" stroke="#555" stroke-width="0.6"/>
<line x1="435.08" y1="593.34" x2="435.08" y2="608.92" stroke="#686868" stroke-width="0.85"/>
<path d="M435.08,608.42 C435.30,609.59 435.66,610.71 435.96,611.69 C435.83,612.37 435.35,613.25 435.08,613.65 C434.82,613.25 434.34,612.37 434.21,611.69 C434.51,610.71 434.87,609.59 435.08,608.42 Z" fill="#dedede" stroke="#686868" stroke-width="0.7"/>
<line x1="432.64" y1="611.69" x2="437.53" y2="611.69" stroke="#2a2a2a" stroke-width="0.8"/>
<line x1="439.97" y1="614.80" x2="439.97" y2="616.50" stroke="#555" stroke-width="0.6"/>
<line x1="439.97" y1="607.59" x2="439.97" y2="608.99" stroke="#686868" stroke-width="0.85"/>
<path d="M439.97,608.49 C440.19,609.65 440.54,610.75 440.85,611.72 C440.72,612.39 440.23,613.27 439.97,613.65 C439.71,613.27 439.22,612.39 439.09,611.72 C439.40,610.75 439.75,609.65 439.97,608.49 Z" fill="#dedede" stroke="#686868" stroke-width="0.7"/>
<line x1="437.53" y1="611.72" x2="442.41" y2="611.72" stroke="#2a2a2a" stroke-width="0.8"/>
<line x1="444.85" y1="614.80" x2="444.85" y2="616.50" stroke="#555" stroke-width="0.6"/>
<line x1="444.85" y1="582.15" x2="444.85" y2="609.06" stroke="#686868" stroke-width="0.85"/>
<path d="M444.85,608.56 C445.07,609.70 445.43,610.79 445.73,611.75 C445.60,612.42 445.12,613.28 444.85,613.66 C444.59,613.28 444.11,612.42 443.98,611.75 C444.28,610.79 444.64,609.70 444.85,608.56 Z" fill="#dedede" stroke="#686868" stroke-width="0.7"/>
<line x1="442.41" y1="611.75" x2="447.30" y2="611.75" stroke="#2a2a2a" stroke-width="0.8"/>
<line x1="449.74" y1="614.80" x2="449.74" y2="616.50" stroke="#555" stroke-width="0.6"/>
<line x1="449.74" y1="571.97" x2="449.74" y2="609.12" stroke="#686868" stroke-width="0.85"/>
<path d="M449.74,608.62 C449.96,609.76 450.31,610.83 450.62,611.78 C450.49,612.44 450.00,613.29 449.74,613.67 C449.48,613.29 448.99,612.44 448.86,611.78 C449.17,610.83 449.52,609.76 449.74,608.62 Z" fill="#dedede" stroke="#686868" stroke-width="0.7"/>
<line x1="447.30" y1="611.78" x2="452.18" y2="611.78" stroke="#2a2a2a" stroke-width="0.8"/>
<line x1="454.62" y1="614.80" x2="454.62" y2="616.50" stroke="#555" stroke-width="0.6"/>
<line x1="454.62" y1="579.60" x2="454.62" y2="609.19" stroke="#686868" stroke-width="0.85"/>
<path d="M454.62,608.69 C454.84,609.81 455.20,610.87 455.50,611.81 C455.37,612.46 454.89,613.30 454.62,613.67 C454.36,613.30 453.88,612.46 453.75,611.81 C454.05,610.87 454.41,609.81 454.62,608.69 Z" fill="#dedede" stroke="#686868" stroke-width="0.7"/>
<line x1="452.18" y1="611.81" x2="457.07" y2="611.81" stroke="#2a2a2a" stroke-width="0.8"/>
<line x1="459.51" y1="614.80" x2="459.51" y2="616.50" stroke="#555" stroke-width="0.6"/>
<line x1="459.51" y1="586.22" x2="459.51" y2="609.26" stroke="#686868" stroke-width="0.85"/>
<path d="M459.51,608.76 C459.73,609.87 460.08,610.91 460.39,611.84 C460.26,612.48 459.77,613.31 459.51,613.68 C459.25,613.31 458.76,612.48 458.63,611.84 C458.94,610.91 459.29,609.87 459.51,608.76 Z" fill="#dedede" stroke="#686868" stroke-width="0.7"/>
<line x1="457.07" y1="611.84" x2="461.95" y2="611.84" stroke="#2a2a2a" stroke-width="0.8"/>
<line x1="464.39" y1="614.80" x2="464.39" y2="616.50" stroke="#555" stroke-width="0.6"/>
<line x1="464.39" y1="599.95" x2="464.39" y2="609.33" stroke="#686868" stroke-width="0.85"/>
<path d="M464.39,608.83 C464.61,609.92 464.97,610.96 465.27,611.87 L465.19,613.09 L463.60,613.09 L463.52,611.87 C463.82,610.96 464.18,609.92 464.39,608.83 Z" fill="#dedede" stroke="#686868" stroke-width="0.7"/>
<line x1="461.95" y1="611.87" x2="466.84" y2="611.87" stroke="#2a2a2a" stroke-width="0.8"/>
<line x1="469.28" y1="614.80" x2="469.28" y2="616.50" stroke="#555" stroke-width="0.6"/>
<line x1="469.28" y1="601.99" x2="469.28" y2="609.40" stroke="#686868" stroke-width="0.85"/>
<path d="M469.28,608.90 C469.50,609.98 469.85,611.00 470.16,611.90 C470.03,612.52 469.54,613.33 469.28,613.69 C469.02,613.33 468.53,612.52 468.40,611.90 C468.71,611.00 469.06,609.98 469.28,608.90 Z" fill="#dedede" stroke="#686868" stroke-width="0.7"/>
<line x1="466.84" y1="611.90" x2="471.72" y2="611.90" stroke="#2a2a2a" stroke-width="0.8"/>
<line x1="474.16" y1="614.80" x2="474.16" y2="616.50" stroke="#555" stroke-width="0.6"/>
<line x1="474.16" y1="607.08" x2="474.16" y2="609.47" stroke="#686868" stroke-width="0.85"/>
<path d="M474.16,608.97 C474.38,610.03 474.74,611.04 475.04,611.93 C474.91,612.54 474.43,613.34 474.16,613.69 C473.90,613.34 473.42,612.54 473.29,611.93 C473.59,611.04 473.95,610.03 474.16,608.97 Z" fill="#dedede" stroke="#686868" stroke-width="0.7"/>
<line x1="471.72" y1="611.93" x2="476.61" y2="611.93" stroke="#2a2a2a" stroke-width="0.8"/>
<line x1="479.05" y1="614.80" x2="479.05" y2="616.50" stroke="#555" stroke-width="0.6"/>
<line x1="479.05" y1="596.90" x2="479.05" y2="609.54" stroke="#686868" stroke-width="0.85"/>
<path d="M479.05,609.04 C479.27,610.09 479.62,611.08 479.93,611.96 C479.80,612.56 479.31,613.34 479.05,613.69 C478.79,613.34 478.30,612.56 478.17,611.96 C478.48,611.08 478.83,610.09 479.05,609.04 Z" fill="#dedede" stroke="#686868" stroke-width="0.7"/>
<line x1="476.61" y1="611.96" x2="481.49" y2="611.96" stroke="#2a2a2a" stroke-width="0.8"/>
<line x1="483.93" y1="614.80" x2="483.93" y2="616.50" stroke="#555" stroke-width="0.6"/>
<line x1="483.93" y1="584.18" x2="483.93" y2="609.61" stroke="#686868" stroke-width="0.85"/>
<path d="M483.93,609.11 C484.15,610.14 484.51,611.12 484.81,611.99 C484.68,612.58 484.20,613.35 483.93,613.69 C483.67,613.35 483.19,612.58 483.06,611.99 C483.36,611.12 483.72,610.14 483.93,609.11 Z" fill="#dedede" stroke="#686868" stroke-width="0.7"/>
<line x1="481.49" y1="611.99" x2="486.38" y2="611.99" stroke="#2a2a2a" stroke-width="0.8"/>
<line x1="488.82" y1="614.80" x2="488.82" y2="616.50" stroke="#555" stroke-width="0.6"/>
<line x1="488.82" y1="605.04" x2="488.82" y2="609.67" stroke="#686868" stroke-width="0.85"/>
<path d="M488.82,609.17 C489.04,610.20 489.39,611.16 489.70,612.02 C489.57,612.60 489.08,613.36 488.82,613.69 C488.56,613.36 488.07,612.60 487.94,612.02 C488.25,611.16 488.60,610.20 488.82,609.17 Z" fill="#dedede" stroke="#686868" stroke-width="0.7"/>
<line x1="486.38" y1="612.02" x2="491.26" y2="612.02" stroke="#2a2a2a" stroke-width="0.8"/>
<line x1="493.70" y1="614.80" x2="493.70" y2="616.50" stroke="#555" stroke-width="0.6"/>
<line x1="493.70" y1="602.50" x2="493.70" y2="609.74" stroke="#686868" stroke-width="0.85"/>
<path d="M493.70,609.24 C493.92,610.25 494.28,611.20 494.58,612.05 C494.45,612.62 493.97,613.36 493.70,613.69 C493.44,613.36 492.96,612.62 492.83,612.05 C493.13,611.20 493.49,610.25 493.70,609.24 Z" fill="#dedede" stroke="#686868" stroke-width="0.7"/>
<line x1="491.26" y1="612.05" x2="496.15" y2="612.05" stroke="#2a2a2a" stroke-width="0.8"/>
<line x1="498.59" y1="614.80" x2="498.59" y2="616.50" stroke="#555" stroke-width="0.6"/>
<line x1="498.59" y1="582.65" x2="498.59" y2="609.81" stroke="#686868" stroke-width="0.85"/>
<path d="M498.59,609.31 C498.81,610.31 499.16,611.25 499.47,612.08 L499.38,613.09 L497.80,613.09 L497.71,612.08 C498.02,611.25 498.37,610.31 498.59,609.31 Z" fill="#dedede" stroke="#686868" stroke-width="0.7"/>
<line x1="496.15" y1="612.08" x2="501.03" y2="612.08" stroke="#2a2a2a" stroke-width="0.8"/>
<line x1="503.47" y1="614.80" x2="503.47" y2="616.50" stroke="#555" stroke-width="0.6"/>
<line x1="503.47" y1="598.94" x2="503.47" y2="609.88" stroke="#686868" stroke-width="0.85"/>
<path d="M503.47,609.38 C503.69,610.36 504.05,611.29 504.35,612.10 C504.22,612.66 503.74,613.37 503.47,613.69 C503.21,613.37 502.73,612.66 502.60,612.10 C502.90,611.29 503.26,610.36 503.47,609.38 Z" fill="#dedede" stroke="#686868" stroke-width="0.7"/>
<line x1="501.03" y1="612.10" x2="505.92" y2="612.10" stroke="#2a2a2a" stroke-width="0.8"/>
<line x1="508.36" y1="614.80" x2="508.36" y2="616.50" stroke="#555" stroke-width="0.6"/>
<line x1="508.36" y1="608.09" x2="508.36" y2="609.95" stroke="#686868" stroke-width="0.85"/>
<path d="M508.36,609.45 C508.58,610.42 508.93,611.33 509.24,612.13 C509.11,612.68 508.62,613.38 508.36,613.69 C508.10,613.38 507.61,612.68 507.48,612.13 C507.79,611.33 508.14,610.42 508.36,609.45 Z" fill="#dedede" stroke="#686868" stroke-width="0.7"/>
<line x1="505.92" y1="612.13" x2="510.80" y2="612.13" stroke="#2a2a2a" stroke-width="0.8"/>
<line x1="513.25" y1="614.80" x2="513.25" y2="616.50" stroke="#555" stroke-width="0.6"/>
<line x1="513.25" y1="609.11" x2="513.25" y2="610.11" stroke="#686868" stroke-width="0.85"/>
<path d="M513.25,609.61 C513.46,610.53 513.82,611.40 514.12,612.16 C513.99,612.70 513.51,613.39 513.25,613.69 C512.98,613.39 512.50,612.70 512.37,612.16 C512.67,611.40 513.03,610.53 513.25,609.61 Z" fill="#dedede" stroke="#686868" stroke-width="0.7"/>
<line x1="510.80" y1="612.16" x2="515.69" y2="612.16" stroke="#2a2a2a" stroke-width="0.8"/>
<text x="264" y="628.3" font-size="8.9" text-anchor="middle">Case</text>
</g>
</svg></body></html>
